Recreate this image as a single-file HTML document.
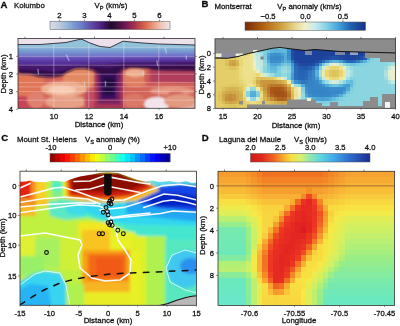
<!DOCTYPE html>
<html><head><meta charset="utf-8"><style>
html,body{margin:0;padding:0;background:#fff;}
svg{display:block;}
text{font-family:'Liberation Sans', Arial, sans-serif;stroke:#111;stroke-width:0.28px;}
</style></head><body>
<svg width="400" height="326" viewBox="0 0 400 326">
<rect width="400" height="326" fill="#fff"/>
<text x="0.6" y="7.6" font-size="9.6" text-anchor="start" font-weight="bold" fill="#000" >A</text>
<text x="14" y="8.2" font-size="7.8" text-anchor="start" font-weight="normal" fill="#111" >Kolumbo</text>
<text x="94.6" y="8.4" font-size="7.8" fill="#111">V<tspan font-size="5.6" dy="2">P</tspan><tspan dy="-2"> (km/s)</tspan></text>
<defs><linearGradient id="cbA" x1="0" x2="1" y1="0" y2="0"><stop offset="0%" stop-color="#dadee6"/><stop offset="8%" stop-color="#bccadc"/><stop offset="14%" stop-color="#98b6d8"/><stop offset="20%" stop-color="#7a9ad0"/><stop offset="27%" stop-color="#6a7ac4"/><stop offset="33%" stop-color="#6052ae"/><stop offset="40%" stop-color="#562e8e"/><stop offset="46%" stop-color="#3a1262"/><stop offset="51%" stop-color="#200a2a"/><stop offset="57%" stop-color="#441042"/><stop offset="64%" stop-color="#7a1a54"/><stop offset="71%" stop-color="#ac344a"/><stop offset="79%" stop-color="#d8644a"/><stop offset="86%" stop-color="#e8987c"/><stop offset="93%" stop-color="#f0c8bc"/><stop offset="100%" stop-color="#ece6ec"/></linearGradient></defs>
<rect x="50" y="21.2" width="120" height="8.3" fill="url(#cbA)" stroke="#555" stroke-width="0.5"/>
<text x="59.4" y="17.7" font-size="7.8" text-anchor="middle" font-weight="normal" fill="#111" >2</text>
<line x1="59.4" y1="19.6" x2="59.4" y2="21.2" stroke="#333" stroke-width="0.6"/>
<text x="84.4" y="17.7" font-size="7.8" text-anchor="middle" font-weight="normal" fill="#111" >3</text>
<line x1="84.4" y1="19.6" x2="84.4" y2="21.2" stroke="#333" stroke-width="0.6"/>
<text x="109.4" y="17.7" font-size="7.8" text-anchor="middle" font-weight="normal" fill="#111" >4</text>
<line x1="109.4" y1="19.6" x2="109.4" y2="21.2" stroke="#333" stroke-width="0.6"/>
<text x="134.4" y="17.7" font-size="7.8" text-anchor="middle" font-weight="normal" fill="#111" >5</text>
<line x1="134.4" y1="19.6" x2="134.4" y2="21.2" stroke="#333" stroke-width="0.6"/>
<text x="159.4" y="17.7" font-size="7.8" text-anchor="middle" font-weight="normal" fill="#111" >6</text>
<line x1="159.4" y1="19.6" x2="159.4" y2="21.2" stroke="#333" stroke-width="0.6"/>
<defs><clipPath id="clipA"><rect x="18" y="38.5" width="177" height="69.8"/></clipPath><filter id="blA" x="-5%" y="-5%" width="110%" height="110%"><feGaussianBlur stdDeviation="1.1"/></filter></defs>
<g clip-path="url(#clipA)"><g filter="url(#blA)"><rect x="16" y="36.5" width="181" height="73.8" fill="#d46458"/>
<path d="M16,74 L44,74 L44,98 L16,98 Z" fill="#e07656" />
<ellipse cx="22" cy="104" rx="12" ry="8" fill="#c84458" opacity="1"/>
<ellipse cx="66" cy="102" rx="21" ry="7" fill="#e6a086" opacity="1"/>
<ellipse cx="90" cy="100" rx="6" ry="10" fill="#c44c60" opacity="1"/>
<ellipse cx="36" cy="100" rx="9" ry="8" fill="#e08070" opacity="1"/>
<ellipse cx="80" cy="79" rx="17" ry="10" fill="#e48a62" opacity="1"/>
<ellipse cx="64" cy="89" rx="23" ry="7.5" fill="#eeae90" opacity="1"/>
<ellipse cx="62" cy="90" rx="14" ry="4" fill="#f8cdb4" opacity="1"/>
<ellipse cx="136" cy="78" rx="17" ry="9" fill="#e08060" opacity="1"/>
<ellipse cx="152" cy="78" rx="8" ry="8" fill="#cc5a58" opacity="1"/>
<ellipse cx="135" cy="73" rx="10" ry="4" fill="#eeb090" opacity="1"/>
<path d="M150,67 L198,67 L198,83 L150,82 Z" fill="#b03c5c" />
<ellipse cx="172" cy="91" rx="22" ry="4" fill="#e69a84" opacity="1"/>
<ellipse cx="176" cy="94" rx="8" ry="2.5" fill="#d05a5a" opacity="1"/>
<ellipse cx="157" cy="104" rx="13" ry="7" fill="#f2e4ea" opacity="1"/>
<ellipse cx="187" cy="104" rx="11" ry="6" fill="#e6b4ac" opacity="1"/>
<ellipse cx="134" cy="101" rx="11" ry="7" fill="#dc7868" opacity="1"/>
<ellipse cx="180" cy="101" rx="16" ry="7" fill="#e29a80" opacity="1"/>
<path d="M94,70 L124,70 L124,109 L94,109 Z" fill="#a83458" />
<path d="M97,70 L121,70 L120,104 L98,104 Z" fill="#782060" />
<path d="M100,70 L117,70 L116,99 L101,99 Z" fill="#3a1060" />
<path d="M103.5,77 L114.5,77 L113.5,95 L104.5,95 Z" fill="#220840" />
<path d="M16,36.5 L18,74 L30,74.5 L40,77 L52,77.5 L62,76 L68,72 L75,69 L84,68.5 L92,70 L96,72 L100,74 L117,74 L122,70 L130,68 L145,68.5 L155,70 L165,70.5 L180,70.5 L196,71 L197,36.5 Z" fill="#300a48" />
<path d="M16,36.5 L18,69.5 L40,70 L55,72 L65,70 L75,67.5 L90,67 L100,67.5 L110,68 L118,66 L125,65 L145,65.5 L155,66 L170,65 L196,65 L197,36.5 Z" fill="#461670" />
<path d="M16,36.5 L18,65 L60,65.5 L90,64 L110,63.5 L125,62.5 L150,62.5 L196,62 L197,36.5 Z" fill="#56309c" />
<path d="M16,36.5 L18,60.5 L100,60.5 L125,59.5 L196,59 L197,36.5 Z" fill="#6448b4" />
<path d="M16,36.5 L18,57.2 L196,56.8 L197,36.5 Z" fill="#6e6ec6" />
<path d="M16,36.5 L18,54.5 L196,54 L197,36.5 Z" fill="#7490d0" />
<path d="M16,36.5 L18,50.8 L196,50.8 L197,36.5 Z" fill="#80a8d4" />
<path d="M16,36.5 L18,48 L196,48 L197,36.5 Z" fill="#92c2da" /></g><path d="M16,36.5 L17,44.5 L40,44.5 L66,42.5 L80,39.3 L82,39.3 L90,43 L100,46.5 L110,47.5 L123,41.2 L140,42.8 L158,44 L196,45 L197,36.5 Z" fill="#ece0ea"/>
<line x1="53.8" y1="38.5" x2="53.8" y2="108.3" stroke="#f4e8f4" stroke-width="0.7" opacity="0.55"/>
<line x1="88.8" y1="38.5" x2="88.8" y2="108.3" stroke="#f4e8f4" stroke-width="0.7" opacity="0.55"/>
<line x1="123.8" y1="38.5" x2="123.8" y2="108.3" stroke="#f4e8f4" stroke-width="0.7" opacity="0.55"/>
<line x1="158.8" y1="38.5" x2="158.8" y2="108.3" stroke="#f4e8f4" stroke-width="0.7" opacity="0.55"/>
<path d="M18,74.5 L30,75 L40,77.5 L52,78 L62,76 L68,72.5 L75,69.8 L84,69.2 L92,70.5 L98,73 L100,80" fill="none" stroke="#2a2040" stroke-width="0.6" opacity="0.55"/>
<path d="M118,80 L121,71 L130,67 L145,67.5 L155,69.5 L170,70.5 L196,70.5" fill="none" stroke="#2a2040" stroke-width="0.6" opacity="0.55"/>
<path d="M18,66 L60,66.5 L90,65 L110,64.5 L125,63 L196,62.5" fill="none" stroke="#2a2040" stroke-width="0.6" opacity="0.55"/>
<line x1="18" y1="47.4" x2="195" y2="47.4" stroke="#f8e8f0" stroke-width="0.7" opacity="0.45"/>
<line x1="18" y1="56.3" x2="195" y2="56.3" stroke="#f8e8f0" stroke-width="0.7" opacity="0.45"/>
<line x1="18" y1="65.2" x2="195" y2="65.2" stroke="#f8e8f0" stroke-width="0.7" opacity="0.45"/>
<line x1="18" y1="74.2" x2="195" y2="74.2" stroke="#f8e8f0" stroke-width="0.7" opacity="0.45"/>
<line x1="18" y1="82.4" x2="195" y2="82.4" stroke="#f8e8f0" stroke-width="0.7" opacity="0.45"/>
<line x1="18" y1="86.8" x2="195" y2="86.8" stroke="#f8e8f0" stroke-width="0.7" opacity="0.45"/>
<line x1="18" y1="91.4" x2="195" y2="91.4" stroke="#f8e8f0" stroke-width="0.7" opacity="0.45"/>
<line x1="18" y1="100.2" x2="195" y2="100.2" stroke="#f8e8f0" stroke-width="0.7" opacity="0.45"/>
<line x1="66.5" y1="55" x2="69" y2="60.5" stroke="#d0e4f8" stroke-width="1.4" stroke-linecap="round" opacity="0.5"/>
<line x1="38" y1="69.5" x2="38.5" y2="74" stroke="#d0e4f8" stroke-width="1.4" stroke-linecap="round" opacity="0.5"/>
<line x1="84.4" y1="82" x2="84.6" y2="86.4" stroke="#d0e4f8" stroke-width="1.4" stroke-linecap="round" opacity="0.5"/>
<line x1="105.5" y1="81.5" x2="105.5" y2="86" stroke="#d0e4f8" stroke-width="1.4" stroke-linecap="round" opacity="0.5"/>
<line x1="143" y1="71" x2="143.2" y2="76" stroke="#d0e4f8" stroke-width="1.4" stroke-linecap="round" opacity="0.5"/>
<line x1="157" y1="61" x2="157.5" y2="65.5" stroke="#d0e4f8" stroke-width="1.4" stroke-linecap="round" opacity="0.5"/>
<line x1="165" y1="48" x2="166.5" y2="53" stroke="#d0e4f8" stroke-width="1.4" stroke-linecap="round" opacity="0.5"/>
<line x1="186" y1="56" x2="186.5" y2="59" stroke="#d0e4f8" stroke-width="1.4" stroke-linecap="round" opacity="0.5"/>
<path d="M17,44.5 L40,44.5 L66,42.5 L80,39.3 L82,39.3 L90,43 L100,46.5 L110,47.5 L123,41.2 L140,42.8 L158,44 L196,45" fill="none" stroke="#2a2a36" stroke-width="0.9"/></g>
<rect x="18" y="38.5" width="177" height="69.8" fill="none" stroke="#333" stroke-width="0.8"/>
<text x="13" y="59.0" font-size="7.6" text-anchor="end" font-weight="normal" fill="#111" >1</text>
<line x1="16" y1="56.3" x2="18" y2="56.3" stroke="#333" stroke-width="0.5"/>
<text x="13" y="76.7" font-size="7.6" text-anchor="end" font-weight="normal" fill="#111" >2</text>
<line x1="16" y1="74.0" x2="18" y2="74.0" stroke="#333" stroke-width="0.5"/>
<text x="13" y="94.39999999999999" font-size="7.6" text-anchor="end" font-weight="normal" fill="#111" >3</text>
<line x1="16" y1="91.69999999999999" x2="18" y2="91.69999999999999" stroke="#333" stroke-width="0.5"/>
<text x="13" y="112.1" font-size="7.6" text-anchor="end" font-weight="normal" fill="#111" >4</text>
<line x1="16" y1="109.39999999999999" x2="18" y2="109.39999999999999" stroke="#333" stroke-width="0.5"/>
<text transform="translate(6.4,74) rotate(-90)" font-size="7.9" text-anchor="middle" fill="#111">Depth (km)</text>
<text x="54" y="118.5" font-size="7.6" text-anchor="middle" font-weight="normal" fill="#111" >10</text>
<line x1="54" y1="108.3" x2="54" y2="109.8" stroke="#333" stroke-width="0.5"/>
<text x="89" y="118.5" font-size="7.6" text-anchor="middle" font-weight="normal" fill="#111" >12</text>
<line x1="89" y1="108.3" x2="89" y2="109.8" stroke="#333" stroke-width="0.5"/>
<text x="124" y="118.5" font-size="7.6" text-anchor="middle" font-weight="normal" fill="#111" >14</text>
<line x1="124" y1="108.3" x2="124" y2="109.8" stroke="#333" stroke-width="0.5"/>
<text x="159" y="118.5" font-size="7.6" text-anchor="middle" font-weight="normal" fill="#111" >16</text>
<line x1="159" y1="108.3" x2="159" y2="109.8" stroke="#333" stroke-width="0.5"/>
<text x="99" y="127" font-size="7.9" text-anchor="middle" font-weight="normal" fill="#111" >Distance (km)</text>
<text x="201.6" y="7.3" font-size="9.6" text-anchor="start" font-weight="bold" fill="#000" >B</text>
<text x="214.5" y="8.5" font-size="7.8" text-anchor="start" font-weight="normal" fill="#111" >Montserrat</text>
<text x="277.3" y="8.6" font-size="7.8" fill="#111">V<tspan font-size="5.6" dy="2">P</tspan><tspan dy="-2"> anomaly (km/s)</tspan></text>
<defs><linearGradient id="cbB" x1="0" x2="1" y1="0" y2="0"><stop offset="0%" stop-color="#7a2a05"/><stop offset="15%" stop-color="#b06010"/><stop offset="30%" stop-color="#d0a040"/><stop offset="42%" stop-color="#e8d890"/><stop offset="50%" stop-color="#f2f0c8"/><stop offset="58%" stop-color="#c8ecf0"/><stop offset="68%" stop-color="#80d0e8"/><stop offset="78%" stop-color="#40a0d8"/><stop offset="88%" stop-color="#2060b0"/><stop offset="100%" stop-color="#1a3088"/></linearGradient></defs>
<rect x="245" y="22" width="120.5" height="8.3" fill="url(#cbB)" stroke="#555" stroke-width="0.5"/>
<text x="268" y="18.9" font-size="7.6" text-anchor="middle" font-weight="normal" fill="#111" >−0.5</text>
<line x1="268" y1="20.4" x2="268" y2="22" stroke="#333" stroke-width="0.6"/>
<text x="305.5" y="18.9" font-size="7.6" text-anchor="middle" font-weight="normal" fill="#111" >0.0</text>
<line x1="305.5" y1="20.4" x2="305.5" y2="22" stroke="#333" stroke-width="0.6"/>
<text x="343" y="18.9" font-size="7.6" text-anchor="middle" font-weight="normal" fill="#111" >0.5</text>
<line x1="343" y1="20.4" x2="343" y2="22" stroke="#333" stroke-width="0.6"/>
<defs><clipPath id="clipB"><rect x="215" y="38.8" width="180.6" height="69.5"/></clipPath><filter id="blB" x="-5%" y="-5%" width="110%" height="110%"><feGaussianBlur stdDeviation="0.5"/></filter></defs>
<g clip-path="url(#clipB)"><g filter="url(#blB)" shape-rendering="crispEdges"><rect x="215.00" y="38.80" width="3.75" height="3.75" fill="#e3ce6a"/>
<rect x="218.45" y="38.80" width="3.75" height="3.75" fill="#e3ce6a"/>
<rect x="221.90" y="38.80" width="3.75" height="3.75" fill="#e3ce6a"/>
<rect x="225.35" y="38.80" width="3.75" height="3.75" fill="#e3ce6a"/>
<rect x="228.80" y="38.80" width="3.75" height="3.75" fill="#e3ce6a"/>
<rect x="232.25" y="38.80" width="3.75" height="3.75" fill="#e3ce6a"/>
<rect x="235.70" y="38.80" width="3.75" height="3.75" fill="#e3ce6a"/>
<rect x="239.15" y="38.80" width="3.75" height="3.75" fill="#e3ce6a"/>
<rect x="242.60" y="38.80" width="3.75" height="3.75" fill="#e3ce6a"/>
<rect x="246.05" y="38.80" width="3.75" height="3.75" fill="#e4d06b"/>
<rect x="249.50" y="38.80" width="3.75" height="3.75" fill="#ebdf89"/>
<rect x="252.95" y="38.80" width="3.75" height="3.75" fill="#cfeddc"/>
<rect x="256.40" y="38.80" width="3.75" height="3.75" fill="#bde8e0"/>
<rect x="259.85" y="38.80" width="3.75" height="3.75" fill="#bce8e0"/>
<rect x="263.30" y="38.80" width="3.75" height="3.75" fill="#bce8e0"/>
<rect x="266.75" y="38.80" width="3.75" height="3.75" fill="#bce8e0"/>
<rect x="270.20" y="38.80" width="3.75" height="3.75" fill="#bce8e0"/>
<rect x="273.65" y="38.80" width="3.75" height="3.75" fill="#bce8e0"/>
<rect x="277.10" y="38.80" width="3.75" height="3.75" fill="#bce8e0"/>
<rect x="280.55" y="38.80" width="3.75" height="3.75" fill="#bce8e0"/>
<rect x="284.00" y="38.80" width="3.75" height="3.75" fill="#bce8e0"/>
<rect x="287.45" y="38.80" width="3.75" height="3.75" fill="#bbe8e0"/>
<rect x="290.90" y="38.80" width="3.75" height="3.75" fill="#bae7e0"/>
<rect x="294.35" y="38.80" width="3.75" height="3.75" fill="#bae7e0"/>
<rect x="297.80" y="38.80" width="3.75" height="3.75" fill="#bae7e0"/>
<rect x="301.25" y="38.80" width="3.75" height="3.75" fill="#bae7e0"/>
<rect x="304.70" y="38.80" width="3.75" height="3.75" fill="#bae7e0"/>
<rect x="308.15" y="38.80" width="3.75" height="3.75" fill="#bae7e0"/>
<rect x="311.60" y="38.80" width="3.75" height="3.75" fill="#bae7e0"/>
<rect x="315.05" y="38.80" width="3.75" height="3.75" fill="#bae7e0"/>
<rect x="318.50" y="38.80" width="3.75" height="3.75" fill="#bae7e0"/>
<rect x="321.95" y="38.80" width="3.75" height="3.75" fill="#bae7e0"/>
<rect x="325.40" y="38.80" width="3.75" height="3.75" fill="#bae7e0"/>
<rect x="328.85" y="38.80" width="3.75" height="3.75" fill="#bae7e0"/>
<rect x="332.30" y="38.80" width="3.75" height="3.75" fill="#bae7e0"/>
<rect x="335.75" y="38.80" width="3.75" height="3.75" fill="#bae7e0"/>
<rect x="339.20" y="38.80" width="3.75" height="3.75" fill="#bae7e0"/>
<rect x="342.65" y="38.80" width="3.75" height="3.75" fill="#bae7e0"/>
<rect x="346.10" y="38.80" width="3.75" height="3.75" fill="#bae7e0"/>
<rect x="349.55" y="38.80" width="3.75" height="3.75" fill="#bae7e0"/>
<rect x="353.00" y="38.80" width="3.75" height="3.75" fill="#bae7e0"/>
<rect x="356.45" y="38.80" width="3.75" height="3.75" fill="#bae7e0"/>
<rect x="359.90" y="38.80" width="3.75" height="3.75" fill="#bae7e0"/>
<rect x="363.35" y="38.80" width="3.75" height="3.75" fill="#bae7e0"/>
<rect x="366.80" y="38.80" width="3.75" height="3.75" fill="#bbe7e0"/>
<rect x="370.25" y="38.80" width="3.75" height="3.75" fill="#bce8e0"/>
<rect x="373.70" y="38.80" width="3.75" height="3.75" fill="#bce8e0"/>
<rect x="377.15" y="38.80" width="3.75" height="3.75" fill="#bce8e0"/>
<rect x="380.60" y="38.80" width="3.75" height="3.75" fill="#bce8e0"/>
<rect x="384.05" y="38.80" width="3.75" height="3.75" fill="#bce8e0"/>
<rect x="387.50" y="38.80" width="3.75" height="3.75" fill="#bce8e0"/>
<rect x="390.95" y="38.80" width="3.75" height="3.75" fill="#bce8e0"/>
<rect x="394.40" y="38.80" width="3.75" height="3.75" fill="#bce8e0"/>
<rect x="215.00" y="42.25" width="3.75" height="3.75" fill="#e3ce6a"/>
<rect x="218.45" y="42.25" width="3.75" height="3.75" fill="#e3ce6a"/>
<rect x="221.90" y="42.25" width="3.75" height="3.75" fill="#e3ce6a"/>
<rect x="225.35" y="42.25" width="3.75" height="3.75" fill="#e3ce6a"/>
<rect x="228.80" y="42.25" width="3.75" height="3.75" fill="#e3ce6a"/>
<rect x="232.25" y="42.25" width="3.75" height="3.75" fill="#e3ce6a"/>
<rect x="235.70" y="42.25" width="3.75" height="3.75" fill="#e3ce6a"/>
<rect x="239.15" y="42.25" width="3.75" height="3.75" fill="#e3ce6a"/>
<rect x="242.60" y="42.25" width="3.75" height="3.75" fill="#e3ce6a"/>
<rect x="246.05" y="42.25" width="3.75" height="3.75" fill="#e4d06c"/>
<rect x="249.50" y="42.25" width="3.75" height="3.75" fill="#eee496"/>
<rect x="252.95" y="42.25" width="3.75" height="3.75" fill="#a0dee0"/>
<rect x="256.40" y="42.25" width="3.75" height="3.75" fill="#8dd6e0"/>
<rect x="259.85" y="42.25" width="3.75" height="3.75" fill="#8dd6e0"/>
<rect x="263.30" y="42.25" width="3.75" height="3.75" fill="#8cd6e0"/>
<rect x="266.75" y="42.25" width="3.75" height="3.75" fill="#8cd6e0"/>
<rect x="270.20" y="42.25" width="3.75" height="3.75" fill="#8cd6e0"/>
<rect x="273.65" y="42.25" width="3.75" height="3.75" fill="#8cd6e0"/>
<rect x="277.10" y="42.25" width="3.75" height="3.75" fill="#8cd6e0"/>
<rect x="280.55" y="42.25" width="3.75" height="3.75" fill="#8cd6e0"/>
<rect x="284.00" y="42.25" width="3.75" height="3.75" fill="#8bd5e0"/>
<rect x="287.45" y="42.25" width="3.75" height="3.75" fill="#7fd0e0"/>
<rect x="290.90" y="42.25" width="3.75" height="3.75" fill="#6dc5df"/>
<rect x="294.35" y="42.25" width="3.75" height="3.75" fill="#6ac2de"/>
<rect x="297.80" y="42.25" width="3.75" height="3.75" fill="#6ac2de"/>
<rect x="301.25" y="42.25" width="3.75" height="3.75" fill="#6ac2de"/>
<rect x="304.70" y="42.25" width="3.75" height="3.75" fill="#6ac2de"/>
<rect x="308.15" y="42.25" width="3.75" height="3.75" fill="#6ac2de"/>
<rect x="311.60" y="42.25" width="3.75" height="3.75" fill="#6ac2de"/>
<rect x="315.05" y="42.25" width="3.75" height="3.75" fill="#6ac2de"/>
<rect x="318.50" y="42.25" width="3.75" height="3.75" fill="#6ac2de"/>
<rect x="321.95" y="42.25" width="3.75" height="3.75" fill="#6ac2de"/>
<rect x="325.40" y="42.25" width="3.75" height="3.75" fill="#6ac2de"/>
<rect x="328.85" y="42.25" width="3.75" height="3.75" fill="#6ac2de"/>
<rect x="332.30" y="42.25" width="3.75" height="3.75" fill="#6ac2de"/>
<rect x="335.75" y="42.25" width="3.75" height="3.75" fill="#6ac2de"/>
<rect x="339.20" y="42.25" width="3.75" height="3.75" fill="#6ac2de"/>
<rect x="342.65" y="42.25" width="3.75" height="3.75" fill="#6ac2de"/>
<rect x="346.10" y="42.25" width="3.75" height="3.75" fill="#6ac2de"/>
<rect x="349.55" y="42.25" width="3.75" height="3.75" fill="#6ac2de"/>
<rect x="353.00" y="42.25" width="3.75" height="3.75" fill="#6ac2de"/>
<rect x="356.45" y="42.25" width="3.75" height="3.75" fill="#6ac2de"/>
<rect x="359.90" y="42.25" width="3.75" height="3.75" fill="#6ac2de"/>
<rect x="363.35" y="42.25" width="3.75" height="3.75" fill="#6cc4df"/>
<rect x="366.80" y="42.25" width="3.75" height="3.75" fill="#7dcee0"/>
<rect x="370.25" y="42.25" width="3.75" height="3.75" fill="#8ad5e0"/>
<rect x="373.70" y="42.25" width="3.75" height="3.75" fill="#8dd6e0"/>
<rect x="377.15" y="42.25" width="3.75" height="3.75" fill="#8dd6e0"/>
<rect x="380.60" y="42.25" width="3.75" height="3.75" fill="#8dd6e0"/>
<rect x="384.05" y="42.25" width="3.75" height="3.75" fill="#8dd6e0"/>
<rect x="387.50" y="42.25" width="3.75" height="3.75" fill="#8dd6e0"/>
<rect x="390.95" y="42.25" width="3.75" height="3.75" fill="#8dd6e0"/>
<rect x="394.40" y="42.25" width="3.75" height="3.75" fill="#8dd6e0"/>
<rect x="215.00" y="45.70" width="3.75" height="3.75" fill="#e3ce6a"/>
<rect x="218.45" y="45.70" width="3.75" height="3.75" fill="#e3ce6a"/>
<rect x="221.90" y="45.70" width="3.75" height="3.75" fill="#e3ce6a"/>
<rect x="225.35" y="45.70" width="3.75" height="3.75" fill="#e3ce6a"/>
<rect x="228.80" y="45.70" width="3.75" height="3.75" fill="#e3ce6a"/>
<rect x="232.25" y="45.70" width="3.75" height="3.75" fill="#e3ce6a"/>
<rect x="235.70" y="45.70" width="3.75" height="3.75" fill="#e3ce6a"/>
<rect x="239.15" y="45.70" width="3.75" height="3.75" fill="#e3ce6a"/>
<rect x="242.60" y="45.70" width="3.75" height="3.75" fill="#e3ce6a"/>
<rect x="246.05" y="45.70" width="3.75" height="3.75" fill="#e4d06c"/>
<rect x="249.50" y="45.70" width="3.75" height="3.75" fill="#eee598"/>
<rect x="252.95" y="45.70" width="3.75" height="3.75" fill="#9cdce0"/>
<rect x="256.40" y="45.70" width="3.75" height="3.75" fill="#8bd5e0"/>
<rect x="259.85" y="45.70" width="3.75" height="3.75" fill="#8ad5e0"/>
<rect x="263.30" y="45.70" width="3.75" height="3.75" fill="#87d4e0"/>
<rect x="266.75" y="45.70" width="3.75" height="3.75" fill="#84d2e0"/>
<rect x="270.20" y="45.70" width="3.75" height="3.75" fill="#82d1e0"/>
<rect x="273.65" y="45.70" width="3.75" height="3.75" fill="#80d0e0"/>
<rect x="277.10" y="45.70" width="3.75" height="3.75" fill="#80d0e0"/>
<rect x="280.55" y="45.70" width="3.75" height="3.75" fill="#7ecfe0"/>
<rect x="284.00" y="45.70" width="3.75" height="3.75" fill="#7acde0"/>
<rect x="287.45" y="45.70" width="3.75" height="3.75" fill="#52aad9"/>
<rect x="290.90" y="45.70" width="3.75" height="3.75" fill="#2b6dbb"/>
<rect x="294.35" y="45.70" width="3.75" height="3.75" fill="#2661b3"/>
<rect x="297.80" y="45.70" width="3.75" height="3.75" fill="#2661b3"/>
<rect x="301.25" y="45.70" width="3.75" height="3.75" fill="#2661b3"/>
<rect x="304.70" y="45.70" width="3.75" height="3.75" fill="#2661b3"/>
<rect x="308.15" y="45.70" width="3.75" height="3.75" fill="#2661b3"/>
<rect x="311.60" y="45.70" width="3.75" height="3.75" fill="#2661b3"/>
<rect x="315.05" y="45.70" width="3.75" height="3.75" fill="#2661b3"/>
<rect x="318.50" y="45.70" width="3.75" height="3.75" fill="#2661b3"/>
<rect x="321.95" y="45.70" width="3.75" height="3.75" fill="#2661b3"/>
<rect x="325.40" y="45.70" width="3.75" height="3.75" fill="#2661b3"/>
<rect x="328.85" y="45.70" width="3.75" height="3.75" fill="#2661b3"/>
<rect x="332.30" y="45.70" width="3.75" height="3.75" fill="#2661b3"/>
<rect x="335.75" y="45.70" width="3.75" height="3.75" fill="#2661b3"/>
<rect x="339.20" y="45.70" width="3.75" height="3.75" fill="#2661b3"/>
<rect x="342.65" y="45.70" width="3.75" height="3.75" fill="#2661b3"/>
<rect x="346.10" y="45.70" width="3.75" height="3.75" fill="#2661b3"/>
<rect x="349.55" y="45.70" width="3.75" height="3.75" fill="#2661b3"/>
<rect x="353.00" y="45.70" width="3.75" height="3.75" fill="#2661b3"/>
<rect x="356.45" y="45.70" width="3.75" height="3.75" fill="#2661b3"/>
<rect x="359.90" y="45.70" width="3.75" height="3.75" fill="#2661b3"/>
<rect x="363.35" y="45.70" width="3.75" height="3.75" fill="#296ab9"/>
<rect x="366.80" y="45.70" width="3.75" height="3.75" fill="#4fa7d8"/>
<rect x="370.25" y="45.70" width="3.75" height="3.75" fill="#81d0e0"/>
<rect x="373.70" y="45.70" width="3.75" height="3.75" fill="#89d5e0"/>
<rect x="377.15" y="45.70" width="3.75" height="3.75" fill="#8ad5e0"/>
<rect x="380.60" y="45.70" width="3.75" height="3.75" fill="#8ad5e0"/>
<rect x="384.05" y="45.70" width="3.75" height="3.75" fill="#8ad5e0"/>
<rect x="387.50" y="45.70" width="3.75" height="3.75" fill="#8ad5e0"/>
<rect x="390.95" y="45.70" width="3.75" height="3.75" fill="#8ad5e0"/>
<rect x="394.40" y="45.70" width="3.75" height="3.75" fill="#8ad5e0"/>
<rect x="215.00" y="49.15" width="3.75" height="3.75" fill="#e3ce6a"/>
<rect x="218.45" y="49.15" width="3.75" height="3.75" fill="#e3ce6a"/>
<rect x="221.90" y="49.15" width="3.75" height="3.75" fill="#e3ce6a"/>
<rect x="225.35" y="49.15" width="3.75" height="3.75" fill="#e3ce6a"/>
<rect x="228.80" y="49.15" width="3.75" height="3.75" fill="#e3ce6a"/>
<rect x="232.25" y="49.15" width="3.75" height="3.75" fill="#e3ce6a"/>
<rect x="235.70" y="49.15" width="3.75" height="3.75" fill="#e3cf6a"/>
<rect x="239.15" y="49.15" width="3.75" height="3.75" fill="#e3cf6a"/>
<rect x="242.60" y="49.15" width="3.75" height="3.75" fill="#e3cf6a"/>
<rect x="246.05" y="49.15" width="3.75" height="3.75" fill="#e5d16e"/>
<rect x="249.50" y="49.15" width="3.75" height="3.75" fill="#eee597"/>
<rect x="252.95" y="49.15" width="3.75" height="3.75" fill="#ace2e0"/>
<rect x="256.40" y="49.15" width="3.75" height="3.75" fill="#98dbe0"/>
<rect x="259.85" y="49.15" width="3.75" height="3.75" fill="#8ed7e0"/>
<rect x="263.30" y="49.15" width="3.75" height="3.75" fill="#7fcfe0"/>
<rect x="266.75" y="49.15" width="3.75" height="3.75" fill="#6bc3df"/>
<rect x="270.20" y="49.15" width="3.75" height="3.75" fill="#5fb7dc"/>
<rect x="273.65" y="49.15" width="3.75" height="3.75" fill="#59b1da"/>
<rect x="277.10" y="49.15" width="3.75" height="3.75" fill="#5cb4db"/>
<rect x="280.55" y="49.15" width="3.75" height="3.75" fill="#62badc"/>
<rect x="284.00" y="49.15" width="3.75" height="3.75" fill="#62badd"/>
<rect x="287.45" y="49.15" width="3.75" height="3.75" fill="#3e8fcc"/>
<rect x="290.90" y="49.15" width="3.75" height="3.75" fill="#214da4"/>
<rect x="294.35" y="49.15" width="3.75" height="3.75" fill="#1f439c"/>
<rect x="297.80" y="49.15" width="3.75" height="3.75" fill="#1f439c"/>
<rect x="301.25" y="49.15" width="3.75" height="3.75" fill="#1f439c"/>
<rect x="304.70" y="49.15" width="3.75" height="3.75" fill="#1f439c"/>
<rect x="308.15" y="49.15" width="3.75" height="3.75" fill="#1f439c"/>
<rect x="311.60" y="49.15" width="3.75" height="3.75" fill="#1f439c"/>
<rect x="315.05" y="49.15" width="3.75" height="3.75" fill="#1f439c"/>
<rect x="318.50" y="49.15" width="3.75" height="3.75" fill="#1f439c"/>
<rect x="321.95" y="49.15" width="3.75" height="3.75" fill="#1f439c"/>
<rect x="325.40" y="49.15" width="3.75" height="3.75" fill="#1f439c"/>
<rect x="328.85" y="49.15" width="3.75" height="3.75" fill="#1f439c"/>
<rect x="332.30" y="49.15" width="3.75" height="3.75" fill="#1f439c"/>
<rect x="335.75" y="49.15" width="3.75" height="3.75" fill="#1f439c"/>
<rect x="339.20" y="49.15" width="3.75" height="3.75" fill="#1f439c"/>
<rect x="342.65" y="49.15" width="3.75" height="3.75" fill="#1f439c"/>
<rect x="346.10" y="49.15" width="3.75" height="3.75" fill="#1f439c"/>
<rect x="349.55" y="49.15" width="3.75" height="3.75" fill="#1f439c"/>
<rect x="353.00" y="49.15" width="3.75" height="3.75" fill="#1f439c"/>
<rect x="356.45" y="49.15" width="3.75" height="3.75" fill="#1f439c"/>
<rect x="359.90" y="49.15" width="3.75" height="3.75" fill="#1f439c"/>
<rect x="363.35" y="49.15" width="3.75" height="3.75" fill="#214ba2"/>
<rect x="366.80" y="49.15" width="3.75" height="3.75" fill="#4498d0"/>
<rect x="370.25" y="49.15" width="3.75" height="3.75" fill="#7ecfe0"/>
<rect x="373.70" y="49.15" width="3.75" height="3.75" fill="#89d5e0"/>
<rect x="377.15" y="49.15" width="3.75" height="3.75" fill="#8ad5e0"/>
<rect x="380.60" y="49.15" width="3.75" height="3.75" fill="#8ad5e0"/>
<rect x="384.05" y="49.15" width="3.75" height="3.75" fill="#8ad5e0"/>
<rect x="387.50" y="49.15" width="3.75" height="3.75" fill="#8ad5e0"/>
<rect x="390.95" y="49.15" width="3.75" height="3.75" fill="#8ad5e0"/>
<rect x="394.40" y="49.15" width="3.75" height="3.75" fill="#8ad5e0"/>
<rect x="215.00" y="52.60" width="3.75" height="3.75" fill="#e3ce6a"/>
<rect x="218.45" y="52.60" width="3.75" height="3.75" fill="#e3ce6a"/>
<rect x="221.90" y="52.60" width="3.75" height="3.75" fill="#e3ce6a"/>
<rect x="225.35" y="52.60" width="3.75" height="3.75" fill="#e3ce69"/>
<rect x="228.80" y="52.60" width="3.75" height="3.75" fill="#e3ce69"/>
<rect x="232.25" y="52.60" width="3.75" height="3.75" fill="#e3ce69"/>
<rect x="235.70" y="52.60" width="3.75" height="3.75" fill="#e4d06c"/>
<rect x="239.15" y="52.60" width="3.75" height="3.75" fill="#e6d371"/>
<rect x="242.60" y="52.60" width="3.75" height="3.75" fill="#e7d574"/>
<rect x="246.05" y="52.60" width="3.75" height="3.75" fill="#e8d879"/>
<rect x="249.50" y="52.60" width="3.75" height="3.75" fill="#efe69a"/>
<rect x="252.95" y="52.60" width="3.75" height="3.75" fill="#caecdf"/>
<rect x="256.40" y="52.60" width="3.75" height="3.75" fill="#b9e7e0"/>
<rect x="259.85" y="52.60" width="3.75" height="3.75" fill="#a8e1e0"/>
<rect x="263.30" y="52.60" width="3.75" height="3.75" fill="#7ccee0"/>
<rect x="266.75" y="52.60" width="3.75" height="3.75" fill="#50a8d8"/>
<rect x="270.20" y="52.60" width="3.75" height="3.75" fill="#4092cd"/>
<rect x="273.65" y="52.60" width="3.75" height="3.75" fill="#3d8ecb"/>
<rect x="277.10" y="52.60" width="3.75" height="3.75" fill="#3f92cd"/>
<rect x="280.55" y="52.60" width="3.75" height="3.75" fill="#4aa0d4"/>
<rect x="284.00" y="52.60" width="3.75" height="3.75" fill="#57afda"/>
<rect x="287.45" y="52.60" width="3.75" height="3.75" fill="#3b8bca"/>
<rect x="290.90" y="52.60" width="3.75" height="3.75" fill="#214ba2"/>
<rect x="294.35" y="52.60" width="3.75" height="3.75" fill="#1f429b"/>
<rect x="297.80" y="52.60" width="3.75" height="3.75" fill="#1f429b"/>
<rect x="301.25" y="52.60" width="3.75" height="3.75" fill="#1f429b"/>
<rect x="304.70" y="52.60" width="3.75" height="3.75" fill="#1f429b"/>
<rect x="308.15" y="52.60" width="3.75" height="3.75" fill="#1f429b"/>
<rect x="311.60" y="52.60" width="3.75" height="3.75" fill="#1f429b"/>
<rect x="315.05" y="52.60" width="3.75" height="3.75" fill="#1f429b"/>
<rect x="318.50" y="52.60" width="3.75" height="3.75" fill="#1f429b"/>
<rect x="321.95" y="52.60" width="3.75" height="3.75" fill="#1f429b"/>
<rect x="325.40" y="52.60" width="3.75" height="3.75" fill="#1f429b"/>
<rect x="328.85" y="52.60" width="3.75" height="3.75" fill="#1f429b"/>
<rect x="332.30" y="52.60" width="3.75" height="3.75" fill="#1f429c"/>
<rect x="335.75" y="52.60" width="3.75" height="3.75" fill="#1f429c"/>
<rect x="339.20" y="52.60" width="3.75" height="3.75" fill="#1f429b"/>
<rect x="342.65" y="52.60" width="3.75" height="3.75" fill="#1f429b"/>
<rect x="346.10" y="52.60" width="3.75" height="3.75" fill="#1f429b"/>
<rect x="349.55" y="52.60" width="3.75" height="3.75" fill="#1f429b"/>
<rect x="353.00" y="52.60" width="3.75" height="3.75" fill="#1f429b"/>
<rect x="356.45" y="52.60" width="3.75" height="3.75" fill="#1f429b"/>
<rect x="359.90" y="52.60" width="3.75" height="3.75" fill="#1f429c"/>
<rect x="363.35" y="52.60" width="3.75" height="3.75" fill="#214ba2"/>
<rect x="366.80" y="52.60" width="3.75" height="3.75" fill="#4498d0"/>
<rect x="370.25" y="52.60" width="3.75" height="3.75" fill="#7ecfe0"/>
<rect x="373.70" y="52.60" width="3.75" height="3.75" fill="#89d5e0"/>
<rect x="377.15" y="52.60" width="3.75" height="3.75" fill="#8ad5e0"/>
<rect x="380.60" y="52.60" width="3.75" height="3.75" fill="#8ad5e0"/>
<rect x="384.05" y="52.60" width="3.75" height="3.75" fill="#8ad5e0"/>
<rect x="387.50" y="52.60" width="3.75" height="3.75" fill="#8ad5e0"/>
<rect x="390.95" y="52.60" width="3.75" height="3.75" fill="#8ad5e0"/>
<rect x="394.40" y="52.60" width="3.75" height="3.75" fill="#8ad5e0"/>
<rect x="215.00" y="56.05" width="3.75" height="3.75" fill="#e3ce6a"/>
<rect x="218.45" y="56.05" width="3.75" height="3.75" fill="#e3ce6a"/>
<rect x="221.90" y="56.05" width="3.75" height="3.75" fill="#e3ce69"/>
<rect x="225.35" y="56.05" width="3.75" height="3.75" fill="#e2cc66"/>
<rect x="228.80" y="56.05" width="3.75" height="3.75" fill="#e0c860"/>
<rect x="232.25" y="56.05" width="3.75" height="3.75" fill="#dfc65f"/>
<rect x="235.70" y="56.05" width="3.75" height="3.75" fill="#e3ce69"/>
<rect x="239.15" y="56.05" width="3.75" height="3.75" fill="#e9da7d"/>
<rect x="242.60" y="56.05" width="3.75" height="3.75" fill="#ebdd86"/>
<rect x="246.05" y="56.05" width="3.75" height="3.75" fill="#ebdf89"/>
<rect x="249.50" y="56.05" width="3.75" height="3.75" fill="#efe599"/>
<rect x="252.95" y="56.05" width="3.75" height="3.75" fill="#dbeed4"/>
<rect x="256.40" y="56.05" width="3.75" height="3.75" fill="#c2eae0"/>
<rect x="259.85" y="56.05" width="3.75" height="3.75" fill="#b9e7e0"/>
<rect x="263.30" y="56.05" width="3.75" height="3.75" fill="#80d0e0"/>
<rect x="266.75" y="56.05" width="3.75" height="3.75" fill="#499fd4"/>
<rect x="270.20" y="56.05" width="3.75" height="3.75" fill="#398ac9"/>
<rect x="273.65" y="56.05" width="3.75" height="3.75" fill="#3888c8"/>
<rect x="277.10" y="56.05" width="3.75" height="3.75" fill="#3989c9"/>
<rect x="280.55" y="56.05" width="3.75" height="3.75" fill="#4194ce"/>
<rect x="284.00" y="56.05" width="3.75" height="3.75" fill="#53abd9"/>
<rect x="287.45" y="56.05" width="3.75" height="3.75" fill="#3d8ecb"/>
<rect x="290.90" y="56.05" width="3.75" height="3.75" fill="#224fa6"/>
<rect x="294.35" y="56.05" width="3.75" height="3.75" fill="#1f439c"/>
<rect x="297.80" y="56.05" width="3.75" height="3.75" fill="#1f429b"/>
<rect x="301.25" y="56.05" width="3.75" height="3.75" fill="#1f429b"/>
<rect x="304.70" y="56.05" width="3.75" height="3.75" fill="#1f429b"/>
<rect x="308.15" y="56.05" width="3.75" height="3.75" fill="#1f429b"/>
<rect x="311.60" y="56.05" width="3.75" height="3.75" fill="#1f429b"/>
<rect x="315.05" y="56.05" width="3.75" height="3.75" fill="#1f429b"/>
<rect x="318.50" y="56.05" width="3.75" height="3.75" fill="#1f439c"/>
<rect x="321.95" y="56.05" width="3.75" height="3.75" fill="#1f449d"/>
<rect x="325.40" y="56.05" width="3.75" height="3.75" fill="#20479f"/>
<rect x="328.85" y="56.05" width="3.75" height="3.75" fill="#214da3"/>
<rect x="332.30" y="56.05" width="3.75" height="3.75" fill="#2251a7"/>
<rect x="335.75" y="56.05" width="3.75" height="3.75" fill="#2250a6"/>
<rect x="339.20" y="56.05" width="3.75" height="3.75" fill="#214aa2"/>
<rect x="342.65" y="56.05" width="3.75" height="3.75" fill="#1f459e"/>
<rect x="346.10" y="56.05" width="3.75" height="3.75" fill="#1f439c"/>
<rect x="349.55" y="56.05" width="3.75" height="3.75" fill="#1f439c"/>
<rect x="353.00" y="56.05" width="3.75" height="3.75" fill="#1f449c"/>
<rect x="356.45" y="56.05" width="3.75" height="3.75" fill="#20469e"/>
<rect x="359.90" y="56.05" width="3.75" height="3.75" fill="#214ca3"/>
<rect x="363.35" y="56.05" width="3.75" height="3.75" fill="#265fb2"/>
<rect x="366.80" y="56.05" width="3.75" height="3.75" fill="#4ea5d7"/>
<rect x="370.25" y="56.05" width="3.75" height="3.75" fill="#81d0e0"/>
<rect x="373.70" y="56.05" width="3.75" height="3.75" fill="#89d5e0"/>
<rect x="377.15" y="56.05" width="3.75" height="3.75" fill="#8ad5e0"/>
<rect x="380.60" y="56.05" width="3.75" height="3.75" fill="#8ad5e0"/>
<rect x="384.05" y="56.05" width="3.75" height="3.75" fill="#8ad5e0"/>
<rect x="387.50" y="56.05" width="3.75" height="3.75" fill="#8ad5e0"/>
<rect x="390.95" y="56.05" width="3.75" height="3.75" fill="#8ad5e0"/>
<rect x="394.40" y="56.05" width="3.75" height="3.75" fill="#8ad5e0"/>
<rect x="215.00" y="59.50" width="3.75" height="3.75" fill="#e3ce6a"/>
<rect x="218.45" y="59.50" width="3.75" height="3.75" fill="#e3ce6a"/>
<rect x="221.90" y="59.50" width="3.75" height="3.75" fill="#e3cd68"/>
<rect x="225.35" y="59.50" width="3.75" height="3.75" fill="#dcc05a"/>
<rect x="228.80" y="59.50" width="3.75" height="3.75" fill="#d1aa4a"/>
<rect x="232.25" y="59.50" width="3.75" height="3.75" fill="#cfa546"/>
<rect x="235.70" y="59.50" width="3.75" height="3.75" fill="#d8b854"/>
<rect x="239.15" y="59.50" width="3.75" height="3.75" fill="#e7d776"/>
<rect x="242.60" y="59.50" width="3.75" height="3.75" fill="#ece08b"/>
<rect x="246.05" y="59.50" width="3.75" height="3.75" fill="#ece08c"/>
<rect x="249.50" y="59.50" width="3.75" height="3.75" fill="#eee495"/>
<rect x="252.95" y="59.50" width="3.75" height="3.75" fill="#e6efce"/>
<rect x="256.40" y="59.50" width="3.75" height="3.75" fill="#c4ebe0"/>
<rect x="259.85" y="59.50" width="3.75" height="3.75" fill="#bfe9e0"/>
<rect x="263.30" y="59.50" width="3.75" height="3.75" fill="#8cd6e0"/>
<rect x="266.75" y="59.50" width="3.75" height="3.75" fill="#53abd9"/>
<rect x="270.20" y="59.50" width="3.75" height="3.75" fill="#3d8fcc"/>
<rect x="273.65" y="59.50" width="3.75" height="3.75" fill="#3b8cca"/>
<rect x="277.10" y="59.50" width="3.75" height="3.75" fill="#3d8fcc"/>
<rect x="280.55" y="59.50" width="3.75" height="3.75" fill="#489ed3"/>
<rect x="284.00" y="59.50" width="3.75" height="3.75" fill="#5ab2db"/>
<rect x="287.45" y="59.50" width="3.75" height="3.75" fill="#4da4d6"/>
<rect x="290.90" y="59.50" width="3.75" height="3.75" fill="#2d71bd"/>
<rect x="294.35" y="59.50" width="3.75" height="3.75" fill="#204aa1"/>
<rect x="297.80" y="59.50" width="3.75" height="3.75" fill="#1f439c"/>
<rect x="301.25" y="59.50" width="3.75" height="3.75" fill="#1f429c"/>
<rect x="304.70" y="59.50" width="3.75" height="3.75" fill="#1f439c"/>
<rect x="308.15" y="59.50" width="3.75" height="3.75" fill="#1f439c"/>
<rect x="311.60" y="59.50" width="3.75" height="3.75" fill="#1f439c"/>
<rect x="315.05" y="59.50" width="3.75" height="3.75" fill="#20469f"/>
<rect x="318.50" y="59.50" width="3.75" height="3.75" fill="#2354a9"/>
<rect x="321.95" y="59.50" width="3.75" height="3.75" fill="#2a6cba"/>
<rect x="325.40" y="59.50" width="3.75" height="3.75" fill="#3a8bc9"/>
<rect x="328.85" y="59.50" width="3.75" height="3.75" fill="#4fa7d8"/>
<rect x="332.30" y="59.50" width="3.75" height="3.75" fill="#5db5db"/>
<rect x="335.75" y="59.50" width="3.75" height="3.75" fill="#5ab2db"/>
<rect x="339.20" y="59.50" width="3.75" height="3.75" fill="#499fd3"/>
<rect x="342.65" y="59.50" width="3.75" height="3.75" fill="#3480c4"/>
<rect x="346.10" y="59.50" width="3.75" height="3.75" fill="#2868b8"/>
<rect x="349.55" y="59.50" width="3.75" height="3.75" fill="#2662b3"/>
<rect x="353.00" y="59.50" width="3.75" height="3.75" fill="#296bb9"/>
<rect x="356.45" y="59.50" width="3.75" height="3.75" fill="#3480c4"/>
<rect x="359.90" y="59.50" width="3.75" height="3.75" fill="#4599d0"/>
<rect x="363.35" y="59.50" width="3.75" height="3.75" fill="#5ab2db"/>
<rect x="366.80" y="59.50" width="3.75" height="3.75" fill="#78cce0"/>
<rect x="370.25" y="59.50" width="3.75" height="3.75" fill="#87d4e0"/>
<rect x="373.70" y="59.50" width="3.75" height="3.75" fill="#8ad5e0"/>
<rect x="377.15" y="59.50" width="3.75" height="3.75" fill="#8ad5e0"/>
<rect x="380.60" y="59.50" width="3.75" height="3.75" fill="#8ad5e0"/>
<rect x="384.05" y="59.50" width="3.75" height="3.75" fill="#8ad5e0"/>
<rect x="387.50" y="59.50" width="3.75" height="3.75" fill="#8ad5e0"/>
<rect x="390.95" y="59.50" width="3.75" height="3.75" fill="#8bd6e0"/>
<rect x="394.40" y="59.50" width="3.75" height="3.75" fill="#8bd6e0"/>
<rect x="215.00" y="62.95" width="3.75" height="3.75" fill="#e3ce6a"/>
<rect x="218.45" y="62.95" width="3.75" height="3.75" fill="#e3ce6a"/>
<rect x="221.90" y="62.95" width="3.75" height="3.75" fill="#e3cd68"/>
<rect x="225.35" y="62.95" width="3.75" height="3.75" fill="#dbbe59"/>
<rect x="228.80" y="62.95" width="3.75" height="3.75" fill="#cfa647"/>
<rect x="232.25" y="62.95" width="3.75" height="3.75" fill="#cc9e42"/>
<rect x="235.70" y="62.95" width="3.75" height="3.75" fill="#d6b451"/>
<rect x="239.15" y="62.95" width="3.75" height="3.75" fill="#e7d674"/>
<rect x="242.60" y="62.95" width="3.75" height="3.75" fill="#ece08b"/>
<rect x="246.05" y="62.95" width="3.75" height="3.75" fill="#ece08c"/>
<rect x="249.50" y="62.95" width="3.75" height="3.75" fill="#ede392"/>
<rect x="252.95" y="62.95" width="3.75" height="3.75" fill="#f0f0c6"/>
<rect x="256.40" y="62.95" width="3.75" height="3.75" fill="#c5ebe0"/>
<rect x="259.85" y="62.95" width="3.75" height="3.75" fill="#bfe9e0"/>
<rect x="263.30" y="62.95" width="3.75" height="3.75" fill="#96dae0"/>
<rect x="266.75" y="62.95" width="3.75" height="3.75" fill="#69c1de"/>
<rect x="270.20" y="62.95" width="3.75" height="3.75" fill="#50a8d8"/>
<rect x="273.65" y="62.95" width="3.75" height="3.75" fill="#4da4d6"/>
<rect x="277.10" y="62.95" width="3.75" height="3.75" fill="#55add9"/>
<rect x="280.55" y="62.95" width="3.75" height="3.75" fill="#6ac2df"/>
<rect x="284.00" y="62.95" width="3.75" height="3.75" fill="#76cbe0"/>
<rect x="287.45" y="62.95" width="3.75" height="3.75" fill="#6ac2de"/>
<rect x="290.90" y="62.95" width="3.75" height="3.75" fill="#4397cf"/>
<rect x="294.35" y="62.95" width="3.75" height="3.75" fill="#265fb1"/>
<rect x="297.80" y="62.95" width="3.75" height="3.75" fill="#214ba2"/>
<rect x="301.25" y="62.95" width="3.75" height="3.75" fill="#20479f"/>
<rect x="304.70" y="62.95" width="3.75" height="3.75" fill="#20479f"/>
<rect x="308.15" y="62.95" width="3.75" height="3.75" fill="#2049a1"/>
<rect x="311.60" y="62.95" width="3.75" height="3.75" fill="#224fa6"/>
<rect x="315.05" y="62.95" width="3.75" height="3.75" fill="#2765b6"/>
<rect x="318.50" y="62.95" width="3.75" height="3.75" fill="#4599d0"/>
<rect x="321.95" y="62.95" width="3.75" height="3.75" fill="#77cbe0"/>
<rect x="325.40" y="62.95" width="3.75" height="3.75" fill="#a6e0e0"/>
<rect x="328.85" y="62.95" width="3.75" height="3.75" fill="#d3edd9"/>
<rect x="332.30" y="62.95" width="3.75" height="3.75" fill="#eaefcb"/>
<rect x="335.75" y="62.95" width="3.75" height="3.75" fill="#deeed3"/>
<rect x="339.20" y="62.95" width="3.75" height="3.75" fill="#b7e6e0"/>
<rect x="342.65" y="62.95" width="3.75" height="3.75" fill="#8dd7e0"/>
<rect x="346.10" y="62.95" width="3.75" height="3.75" fill="#78cce0"/>
<rect x="349.55" y="62.95" width="3.75" height="3.75" fill="#6cc4df"/>
<rect x="353.00" y="62.95" width="3.75" height="3.75" fill="#6ec6e0"/>
<rect x="356.45" y="62.95" width="3.75" height="3.75" fill="#7acde0"/>
<rect x="359.90" y="62.95" width="3.75" height="3.75" fill="#82d1e0"/>
<rect x="363.35" y="62.95" width="3.75" height="3.75" fill="#86d3e0"/>
<rect x="366.80" y="62.95" width="3.75" height="3.75" fill="#89d4e0"/>
<rect x="370.25" y="62.95" width="3.75" height="3.75" fill="#89d5e0"/>
<rect x="373.70" y="62.95" width="3.75" height="3.75" fill="#8ad5e0"/>
<rect x="377.15" y="62.95" width="3.75" height="3.75" fill="#8ad5e0"/>
<rect x="380.60" y="62.95" width="3.75" height="3.75" fill="#8ad5e0"/>
<rect x="384.05" y="62.95" width="3.75" height="3.75" fill="#8cd6e0"/>
<rect x="387.50" y="62.95" width="3.75" height="3.75" fill="#99dbe0"/>
<rect x="390.95" y="62.95" width="3.75" height="3.75" fill="#aae1e0"/>
<rect x="394.40" y="62.95" width="3.75" height="3.75" fill="#aae1e0"/>
<rect x="215.00" y="66.40" width="3.75" height="3.75" fill="#e3ce6a"/>
<rect x="218.45" y="66.40" width="3.75" height="3.75" fill="#e3ce6a"/>
<rect x="221.90" y="66.40" width="3.75" height="3.75" fill="#e3ce69"/>
<rect x="225.35" y="66.40" width="3.75" height="3.75" fill="#e2cb65"/>
<rect x="228.80" y="66.40" width="3.75" height="3.75" fill="#dec45d"/>
<rect x="232.25" y="66.40" width="3.75" height="3.75" fill="#ddc25c"/>
<rect x="235.70" y="66.40" width="3.75" height="3.75" fill="#e2cb65"/>
<rect x="239.15" y="66.40" width="3.75" height="3.75" fill="#e9db7f"/>
<rect x="242.60" y="66.40" width="3.75" height="3.75" fill="#ece08b"/>
<rect x="246.05" y="66.40" width="3.75" height="3.75" fill="#ece08c"/>
<rect x="249.50" y="66.40" width="3.75" height="3.75" fill="#ede290"/>
<rect x="252.95" y="66.40" width="3.75" height="3.75" fill="#f0edb8"/>
<rect x="256.40" y="66.40" width="3.75" height="3.75" fill="#c9ecdf"/>
<rect x="259.85" y="66.40" width="3.75" height="3.75" fill="#b7e6e0"/>
<rect x="263.30" y="66.40" width="3.75" height="3.75" fill="#8ed7e0"/>
<rect x="266.75" y="66.40" width="3.75" height="3.75" fill="#6fc7e0"/>
<rect x="270.20" y="66.40" width="3.75" height="3.75" fill="#60b8dc"/>
<rect x="273.65" y="66.40" width="3.75" height="3.75" fill="#61b9dc"/>
<rect x="277.10" y="66.40" width="3.75" height="3.75" fill="#76cbe0"/>
<rect x="280.55" y="66.40" width="3.75" height="3.75" fill="#8ed7e0"/>
<rect x="284.00" y="66.40" width="3.75" height="3.75" fill="#96dae0"/>
<rect x="287.45" y="66.40" width="3.75" height="3.75" fill="#86d3e0"/>
<rect x="290.90" y="66.40" width="3.75" height="3.75" fill="#4ca3d6"/>
<rect x="294.35" y="66.40" width="3.75" height="3.75" fill="#296ab9"/>
<rect x="297.80" y="66.40" width="3.75" height="3.75" fill="#255db0"/>
<rect x="301.25" y="66.40" width="3.75" height="3.75" fill="#2459ad"/>
<rect x="304.70" y="66.40" width="3.75" height="3.75" fill="#2458ac"/>
<rect x="308.15" y="66.40" width="3.75" height="3.75" fill="#2661b3"/>
<rect x="311.60" y="66.40" width="3.75" height="3.75" fill="#2d71bd"/>
<rect x="315.05" y="66.40" width="3.75" height="3.75" fill="#4296cf"/>
<rect x="318.50" y="66.40" width="3.75" height="3.75" fill="#81d0e0"/>
<rect x="321.95" y="66.40" width="3.75" height="3.75" fill="#cfeddc"/>
<rect x="325.40" y="66.40" width="3.75" height="3.75" fill="#eee496"/>
<rect x="328.85" y="66.40" width="3.75" height="3.75" fill="#e8d777"/>
<rect x="332.30" y="66.40" width="3.75" height="3.75" fill="#e5d270"/>
<rect x="335.75" y="66.40" width="3.75" height="3.75" fill="#e7d675"/>
<rect x="339.20" y="66.40" width="3.75" height="3.75" fill="#ede290"/>
<rect x="342.65" y="66.40" width="3.75" height="3.75" fill="#e5efcf"/>
<rect x="346.10" y="66.40" width="3.75" height="3.75" fill="#aee3e0"/>
<rect x="349.55" y="66.40" width="3.75" height="3.75" fill="#99dbe0"/>
<rect x="353.00" y="66.40" width="3.75" height="3.75" fill="#8bd6e0"/>
<rect x="356.45" y="66.40" width="3.75" height="3.75" fill="#89d5e0"/>
<rect x="359.90" y="66.40" width="3.75" height="3.75" fill="#89d5e0"/>
<rect x="363.35" y="66.40" width="3.75" height="3.75" fill="#8ad5e0"/>
<rect x="366.80" y="66.40" width="3.75" height="3.75" fill="#8ad5e0"/>
<rect x="370.25" y="66.40" width="3.75" height="3.75" fill="#8ad5e0"/>
<rect x="373.70" y="66.40" width="3.75" height="3.75" fill="#8ad5e0"/>
<rect x="377.15" y="66.40" width="3.75" height="3.75" fill="#8ad5e0"/>
<rect x="380.60" y="66.40" width="3.75" height="3.75" fill="#8ad5e0"/>
<rect x="384.05" y="66.40" width="3.75" height="3.75" fill="#97dae0"/>
<rect x="387.50" y="66.40" width="3.75" height="3.75" fill="#c3eae0"/>
<rect x="390.95" y="66.40" width="3.75" height="3.75" fill="#e1efd1"/>
<rect x="394.40" y="66.40" width="3.75" height="3.75" fill="#e3efd0"/>
<rect x="215.00" y="69.85" width="3.75" height="3.75" fill="#e3ce6a"/>
<rect x="218.45" y="69.85" width="3.75" height="3.75" fill="#e3ce6a"/>
<rect x="221.90" y="69.85" width="3.75" height="3.75" fill="#e3ce6a"/>
<rect x="225.35" y="69.85" width="3.75" height="3.75" fill="#e3ce69"/>
<rect x="228.80" y="69.85" width="3.75" height="3.75" fill="#e3ce69"/>
<rect x="232.25" y="69.85" width="3.75" height="3.75" fill="#e3ce69"/>
<rect x="235.70" y="69.85" width="3.75" height="3.75" fill="#e5d16e"/>
<rect x="239.15" y="69.85" width="3.75" height="3.75" fill="#eadb81"/>
<rect x="242.60" y="69.85" width="3.75" height="3.75" fill="#ece08b"/>
<rect x="246.05" y="69.85" width="3.75" height="3.75" fill="#ece08c"/>
<rect x="249.50" y="69.85" width="3.75" height="3.75" fill="#ece18d"/>
<rect x="252.95" y="69.85" width="3.75" height="3.75" fill="#efe599"/>
<rect x="256.40" y="69.85" width="3.75" height="3.75" fill="#f0edb9"/>
<rect x="259.85" y="69.85" width="3.75" height="3.75" fill="#b4e5e0"/>
<rect x="263.30" y="69.85" width="3.75" height="3.75" fill="#8bd5e0"/>
<rect x="266.75" y="69.85" width="3.75" height="3.75" fill="#7acde0"/>
<rect x="270.20" y="69.85" width="3.75" height="3.75" fill="#69c1de"/>
<rect x="273.65" y="69.85" width="3.75" height="3.75" fill="#66bede"/>
<rect x="277.10" y="69.85" width="3.75" height="3.75" fill="#80d0e0"/>
<rect x="280.55" y="69.85" width="3.75" height="3.75" fill="#9bdce0"/>
<rect x="284.00" y="69.85" width="3.75" height="3.75" fill="#9fdde0"/>
<rect x="287.45" y="69.85" width="3.75" height="3.75" fill="#8fd7e0"/>
<rect x="290.90" y="69.85" width="3.75" height="3.75" fill="#50a8d8"/>
<rect x="294.35" y="69.85" width="3.75" height="3.75" fill="#2a6dba"/>
<rect x="297.80" y="69.85" width="3.75" height="3.75" fill="#2764b5"/>
<rect x="301.25" y="69.85" width="3.75" height="3.75" fill="#2764b5"/>
<rect x="304.70" y="69.85" width="3.75" height="3.75" fill="#2766b6"/>
<rect x="308.15" y="69.85" width="3.75" height="3.75" fill="#2e75be"/>
<rect x="311.60" y="69.85" width="3.75" height="3.75" fill="#3786c7"/>
<rect x="315.05" y="69.85" width="3.75" height="3.75" fill="#5ab2db"/>
<rect x="318.50" y="69.85" width="3.75" height="3.75" fill="#a6e0e0"/>
<rect x="321.95" y="69.85" width="3.75" height="3.75" fill="#f0e8a2"/>
<rect x="325.40" y="69.85" width="3.75" height="3.75" fill="#e7d574"/>
<rect x="328.85" y="69.85" width="3.75" height="3.75" fill="#dfc75f"/>
<rect x="332.30" y="69.85" width="3.75" height="3.75" fill="#ddc15b"/>
<rect x="335.75" y="69.85" width="3.75" height="3.75" fill="#dfc55e"/>
<rect x="339.20" y="69.85" width="3.75" height="3.75" fill="#e6d371"/>
<rect x="342.65" y="69.85" width="3.75" height="3.75" fill="#efe599"/>
<rect x="346.10" y="69.85" width="3.75" height="3.75" fill="#c1e9e0"/>
<rect x="349.55" y="69.85" width="3.75" height="3.75" fill="#a5dfe0"/>
<rect x="353.00" y="69.85" width="3.75" height="3.75" fill="#8fd7e0"/>
<rect x="356.45" y="69.85" width="3.75" height="3.75" fill="#8ad5e0"/>
<rect x="359.90" y="69.85" width="3.75" height="3.75" fill="#8ad5e0"/>
<rect x="363.35" y="69.85" width="3.75" height="3.75" fill="#8ad5e0"/>
<rect x="366.80" y="69.85" width="3.75" height="3.75" fill="#8ad5e0"/>
<rect x="370.25" y="69.85" width="3.75" height="3.75" fill="#8ad5e0"/>
<rect x="373.70" y="69.85" width="3.75" height="3.75" fill="#8ad5e0"/>
<rect x="377.15" y="69.85" width="3.75" height="3.75" fill="#8ad5e0"/>
<rect x="380.60" y="69.85" width="3.75" height="3.75" fill="#8bd6e0"/>
<rect x="384.05" y="69.85" width="3.75" height="3.75" fill="#a8e1e0"/>
<rect x="387.50" y="69.85" width="3.75" height="3.75" fill="#e0eed1"/>
<rect x="390.95" y="69.85" width="3.75" height="3.75" fill="#eff0c8"/>
<rect x="394.40" y="69.85" width="3.75" height="3.75" fill="#f0f0c8"/>
<rect x="215.00" y="73.30" width="3.75" height="3.75" fill="#e3ce6a"/>
<rect x="218.45" y="73.30" width="3.75" height="3.75" fill="#e3ce6a"/>
<rect x="221.90" y="73.30" width="3.75" height="3.75" fill="#e3ce6a"/>
<rect x="225.35" y="73.30" width="3.75" height="3.75" fill="#e3ce6a"/>
<rect x="228.80" y="73.30" width="3.75" height="3.75" fill="#e3ce6a"/>
<rect x="232.25" y="73.30" width="3.75" height="3.75" fill="#e3ce6a"/>
<rect x="235.70" y="73.30" width="3.75" height="3.75" fill="#e4d16d"/>
<rect x="239.15" y="73.30" width="3.75" height="3.75" fill="#e9db7f"/>
<rect x="242.60" y="73.30" width="3.75" height="3.75" fill="#ece08b"/>
<rect x="246.05" y="73.30" width="3.75" height="3.75" fill="#ece08c"/>
<rect x="249.50" y="73.30" width="3.75" height="3.75" fill="#ece08b"/>
<rect x="252.95" y="73.30" width="3.75" height="3.75" fill="#eadc81"/>
<rect x="256.40" y="73.30" width="3.75" height="3.75" fill="#e8d777"/>
<rect x="259.85" y="73.30" width="3.75" height="3.75" fill="#f0e9a4"/>
<rect x="263.30" y="73.30" width="3.75" height="3.75" fill="#c7ece0"/>
<rect x="266.75" y="73.30" width="3.75" height="3.75" fill="#b7e6e0"/>
<rect x="270.20" y="73.30" width="3.75" height="3.75" fill="#9ddde0"/>
<rect x="273.65" y="73.30" width="3.75" height="3.75" fill="#81d0e0"/>
<rect x="277.10" y="73.30" width="3.75" height="3.75" fill="#80d0e0"/>
<rect x="280.55" y="73.30" width="3.75" height="3.75" fill="#8fd8e0"/>
<rect x="284.00" y="73.30" width="3.75" height="3.75" fill="#93d9e0"/>
<rect x="287.45" y="73.30" width="3.75" height="3.75" fill="#7fd0e0"/>
<rect x="290.90" y="73.30" width="3.75" height="3.75" fill="#489dd2"/>
<rect x="294.35" y="73.30" width="3.75" height="3.75" fill="#2a6cba"/>
<rect x="297.80" y="73.30" width="3.75" height="3.75" fill="#2765b6"/>
<rect x="301.25" y="73.30" width="3.75" height="3.75" fill="#2765b6"/>
<rect x="304.70" y="73.30" width="3.75" height="3.75" fill="#2869b8"/>
<rect x="308.15" y="73.30" width="3.75" height="3.75" fill="#317ac1"/>
<rect x="311.60" y="73.30" width="3.75" height="3.75" fill="#3888c8"/>
<rect x="315.05" y="73.30" width="3.75" height="3.75" fill="#59b1da"/>
<rect x="318.50" y="73.30" width="3.75" height="3.75" fill="#a3dfe0"/>
<rect x="321.95" y="73.30" width="3.75" height="3.75" fill="#f0eaa8"/>
<rect x="325.40" y="73.30" width="3.75" height="3.75" fill="#e7d676"/>
<rect x="328.85" y="73.30" width="3.75" height="3.75" fill="#e0c861"/>
<rect x="332.30" y="73.30" width="3.75" height="3.75" fill="#ddc35c"/>
<rect x="335.75" y="73.30" width="3.75" height="3.75" fill="#dfc75f"/>
<rect x="339.20" y="73.30" width="3.75" height="3.75" fill="#e6d472"/>
<rect x="342.65" y="73.30" width="3.75" height="3.75" fill="#efe69c"/>
<rect x="346.10" y="73.30" width="3.75" height="3.75" fill="#bee8e0"/>
<rect x="349.55" y="73.30" width="3.75" height="3.75" fill="#a1dee0"/>
<rect x="353.00" y="73.30" width="3.75" height="3.75" fill="#8ed7e0"/>
<rect x="356.45" y="73.30" width="3.75" height="3.75" fill="#8ad5e0"/>
<rect x="359.90" y="73.30" width="3.75" height="3.75" fill="#8ad5e0"/>
<rect x="363.35" y="73.30" width="3.75" height="3.75" fill="#8ad5e0"/>
<rect x="366.80" y="73.30" width="3.75" height="3.75" fill="#8ad5e0"/>
<rect x="370.25" y="73.30" width="3.75" height="3.75" fill="#8ad5e0"/>
<rect x="373.70" y="73.30" width="3.75" height="3.75" fill="#8ad5e0"/>
<rect x="377.15" y="73.30" width="3.75" height="3.75" fill="#8ad5e0"/>
<rect x="380.60" y="73.30" width="3.75" height="3.75" fill="#8cd6e0"/>
<rect x="384.05" y="73.30" width="3.75" height="3.75" fill="#ace2e0"/>
<rect x="387.50" y="73.30" width="3.75" height="3.75" fill="#e4efcf"/>
<rect x="390.95" y="73.30" width="3.75" height="3.75" fill="#f0f0c8"/>
<rect x="394.40" y="73.30" width="3.75" height="3.75" fill="#f0f0c8"/>
<rect x="215.00" y="76.75" width="3.75" height="3.75" fill="#e3ce6a"/>
<rect x="218.45" y="76.75" width="3.75" height="3.75" fill="#e3ce6a"/>
<rect x="221.90" y="76.75" width="3.75" height="3.75" fill="#e3ce6a"/>
<rect x="225.35" y="76.75" width="3.75" height="3.75" fill="#e3ce6a"/>
<rect x="228.80" y="76.75" width="3.75" height="3.75" fill="#e3ce6a"/>
<rect x="232.25" y="76.75" width="3.75" height="3.75" fill="#e3ce6a"/>
<rect x="235.70" y="76.75" width="3.75" height="3.75" fill="#e4d06c"/>
<rect x="239.15" y="76.75" width="3.75" height="3.75" fill="#e8d97a"/>
<rect x="242.60" y="76.75" width="3.75" height="3.75" fill="#ecdf8a"/>
<rect x="246.05" y="76.75" width="3.75" height="3.75" fill="#ece08c"/>
<rect x="249.50" y="76.75" width="3.75" height="3.75" fill="#ecdf8a"/>
<rect x="252.95" y="76.75" width="3.75" height="3.75" fill="#e7d675"/>
<rect x="256.40" y="76.75" width="3.75" height="3.75" fill="#dcc05a"/>
<rect x="259.85" y="76.75" width="3.75" height="3.75" fill="#dabc57"/>
<rect x="263.30" y="76.75" width="3.75" height="3.75" fill="#dcc05a"/>
<rect x="266.75" y="76.75" width="3.75" height="3.75" fill="#ddc25c"/>
<rect x="270.20" y="76.75" width="3.75" height="3.75" fill="#e0c75f"/>
<rect x="273.65" y="76.75" width="3.75" height="3.75" fill="#e6d472"/>
<rect x="277.10" y="76.75" width="3.75" height="3.75" fill="#eee394"/>
<rect x="280.55" y="76.75" width="3.75" height="3.75" fill="#f0edbb"/>
<rect x="284.00" y="76.75" width="3.75" height="3.75" fill="#c1e9e0"/>
<rect x="287.45" y="76.75" width="3.75" height="3.75" fill="#7dcee0"/>
<rect x="290.90" y="76.75" width="3.75" height="3.75" fill="#459ad1"/>
<rect x="294.35" y="76.75" width="3.75" height="3.75" fill="#2c70bc"/>
<rect x="297.80" y="76.75" width="3.75" height="3.75" fill="#2867b7"/>
<rect x="301.25" y="76.75" width="3.75" height="3.75" fill="#2766b6"/>
<rect x="304.70" y="76.75" width="3.75" height="3.75" fill="#2b6ebb"/>
<rect x="308.15" y="76.75" width="3.75" height="3.75" fill="#337ec3"/>
<rect x="311.60" y="76.75" width="3.75" height="3.75" fill="#3786c7"/>
<rect x="315.05" y="76.75" width="3.75" height="3.75" fill="#469bd1"/>
<rect x="318.50" y="76.75" width="3.75" height="3.75" fill="#7ccee0"/>
<rect x="321.95" y="76.75" width="3.75" height="3.75" fill="#c3eae0"/>
<rect x="325.40" y="76.75" width="3.75" height="3.75" fill="#f0e79e"/>
<rect x="328.85" y="76.75" width="3.75" height="3.75" fill="#e9db7f"/>
<rect x="332.30" y="76.75" width="3.75" height="3.75" fill="#e7d675"/>
<rect x="335.75" y="76.75" width="3.75" height="3.75" fill="#e9da7c"/>
<rect x="339.20" y="76.75" width="3.75" height="3.75" fill="#eee598"/>
<rect x="342.65" y="76.75" width="3.75" height="3.75" fill="#d8eed7"/>
<rect x="346.10" y="76.75" width="3.75" height="3.75" fill="#a0dee0"/>
<rect x="349.55" y="76.75" width="3.75" height="3.75" fill="#84d2e0"/>
<rect x="353.00" y="76.75" width="3.75" height="3.75" fill="#86d3e0"/>
<rect x="356.45" y="76.75" width="3.75" height="3.75" fill="#89d5e0"/>
<rect x="359.90" y="76.75" width="3.75" height="3.75" fill="#8ad5e0"/>
<rect x="363.35" y="76.75" width="3.75" height="3.75" fill="#8ad5e0"/>
<rect x="366.80" y="76.75" width="3.75" height="3.75" fill="#8ad5e0"/>
<rect x="370.25" y="76.75" width="3.75" height="3.75" fill="#8ad5e0"/>
<rect x="373.70" y="76.75" width="3.75" height="3.75" fill="#8ad5e0"/>
<rect x="377.15" y="76.75" width="3.75" height="3.75" fill="#8ad5e0"/>
<rect x="380.60" y="76.75" width="3.75" height="3.75" fill="#8bd5e0"/>
<rect x="384.05" y="76.75" width="3.75" height="3.75" fill="#9fdde0"/>
<rect x="387.50" y="76.75" width="3.75" height="3.75" fill="#d4edd9"/>
<rect x="390.95" y="76.75" width="3.75" height="3.75" fill="#ecf0cb"/>
<rect x="394.40" y="76.75" width="3.75" height="3.75" fill="#edf0ca"/>
<rect x="215.00" y="80.20" width="3.75" height="3.75" fill="#e3ce6a"/>
<rect x="218.45" y="80.20" width="3.75" height="3.75" fill="#e3ce6a"/>
<rect x="221.90" y="80.20" width="3.75" height="3.75" fill="#e3ce6a"/>
<rect x="225.35" y="80.20" width="3.75" height="3.75" fill="#e3ce69"/>
<rect x="228.80" y="80.20" width="3.75" height="3.75" fill="#e3ce69"/>
<rect x="232.25" y="80.20" width="3.75" height="3.75" fill="#e3ce69"/>
<rect x="235.70" y="80.20" width="3.75" height="3.75" fill="#e3cf6a"/>
<rect x="239.15" y="80.20" width="3.75" height="3.75" fill="#e6d472"/>
<rect x="242.60" y="80.20" width="3.75" height="3.75" fill="#eadc82"/>
<rect x="246.05" y="80.20" width="3.75" height="3.75" fill="#ecdf8b"/>
<rect x="249.50" y="80.20" width="3.75" height="3.75" fill="#ebde86"/>
<rect x="252.95" y="80.20" width="3.75" height="3.75" fill="#e4cf6b"/>
<rect x="256.40" y="80.20" width="3.75" height="3.75" fill="#d2ad4c"/>
<rect x="259.85" y="80.20" width="3.75" height="3.75" fill="#ca9a3f"/>
<rect x="263.30" y="80.20" width="3.75" height="3.75" fill="#c9983e"/>
<rect x="266.75" y="80.20" width="3.75" height="3.75" fill="#c9963d"/>
<rect x="270.20" y="80.20" width="3.75" height="3.75" fill="#c9963d"/>
<rect x="273.65" y="80.20" width="3.75" height="3.75" fill="#ca9a40"/>
<rect x="277.10" y="80.20" width="3.75" height="3.75" fill="#cea345"/>
<rect x="280.55" y="80.20" width="3.75" height="3.75" fill="#d2ad4c"/>
<rect x="284.00" y="80.20" width="3.75" height="3.75" fill="#dcbf59"/>
<rect x="287.45" y="80.20" width="3.75" height="3.75" fill="#f0eaa8"/>
<rect x="290.90" y="80.20" width="3.75" height="3.75" fill="#67bfde"/>
<rect x="294.35" y="80.20" width="3.75" height="3.75" fill="#3f91cd"/>
<rect x="297.80" y="80.20" width="3.75" height="3.75" fill="#3583c5"/>
<rect x="301.25" y="80.20" width="3.75" height="3.75" fill="#2e75be"/>
<rect x="304.70" y="80.20" width="3.75" height="3.75" fill="#3179c1"/>
<rect x="308.15" y="80.20" width="3.75" height="3.75" fill="#3583c5"/>
<rect x="311.60" y="80.20" width="3.75" height="3.75" fill="#3685c6"/>
<rect x="315.05" y="80.20" width="3.75" height="3.75" fill="#3989c9"/>
<rect x="318.50" y="80.20" width="3.75" height="3.75" fill="#4ca3d5"/>
<rect x="321.95" y="80.20" width="3.75" height="3.75" fill="#76cbe0"/>
<rect x="325.40" y="80.20" width="3.75" height="3.75" fill="#9fdde0"/>
<rect x="328.85" y="80.20" width="3.75" height="3.75" fill="#c5ebe0"/>
<rect x="332.30" y="80.20" width="3.75" height="3.75" fill="#d8eed7"/>
<rect x="335.75" y="80.20" width="3.75" height="3.75" fill="#cdecdd"/>
<rect x="339.20" y="80.20" width="3.75" height="3.75" fill="#b0e4e0"/>
<rect x="342.65" y="80.20" width="3.75" height="3.75" fill="#8bd6e0"/>
<rect x="346.10" y="80.20" width="3.75" height="3.75" fill="#6bc3df"/>
<rect x="349.55" y="80.20" width="3.75" height="3.75" fill="#62badc"/>
<rect x="353.00" y="80.20" width="3.75" height="3.75" fill="#81d0e0"/>
<rect x="356.45" y="80.20" width="3.75" height="3.75" fill="#89d5e0"/>
<rect x="359.90" y="80.20" width="3.75" height="3.75" fill="#8ad5e0"/>
<rect x="363.35" y="80.20" width="3.75" height="3.75" fill="#8ad5e0"/>
<rect x="366.80" y="80.20" width="3.75" height="3.75" fill="#8ad5e0"/>
<rect x="370.25" y="80.20" width="3.75" height="3.75" fill="#8ad5e0"/>
<rect x="373.70" y="80.20" width="3.75" height="3.75" fill="#8ad5e0"/>
<rect x="377.15" y="80.20" width="3.75" height="3.75" fill="#8ad5e0"/>
<rect x="380.60" y="80.20" width="3.75" height="3.75" fill="#8ad5e0"/>
<rect x="384.05" y="80.20" width="3.75" height="3.75" fill="#8ed7e0"/>
<rect x="387.50" y="80.20" width="3.75" height="3.75" fill="#abe2e0"/>
<rect x="390.95" y="80.20" width="3.75" height="3.75" fill="#c2eae0"/>
<rect x="394.40" y="80.20" width="3.75" height="3.75" fill="#c3eae0"/>
<rect x="215.00" y="83.65" width="3.75" height="3.75" fill="#e3ce6a"/>
<rect x="218.45" y="83.65" width="3.75" height="3.75" fill="#e3ce69"/>
<rect x="221.90" y="83.65" width="3.75" height="3.75" fill="#e2cd67"/>
<rect x="225.35" y="83.65" width="3.75" height="3.75" fill="#e1ca63"/>
<rect x="228.80" y="83.65" width="3.75" height="3.75" fill="#e0c75f"/>
<rect x="232.25" y="83.65" width="3.75" height="3.75" fill="#e0c75f"/>
<rect x="235.70" y="83.65" width="3.75" height="3.75" fill="#e1ca63"/>
<rect x="239.15" y="83.65" width="3.75" height="3.75" fill="#e3ce69"/>
<rect x="242.60" y="83.65" width="3.75" height="3.75" fill="#e7d574"/>
<rect x="246.05" y="83.65" width="3.75" height="3.75" fill="#ece18e"/>
<rect x="249.50" y="83.65" width="3.75" height="3.75" fill="#eee497"/>
<rect x="252.95" y="83.65" width="3.75" height="3.75" fill="#e9da7c"/>
<rect x="256.40" y="83.65" width="3.75" height="3.75" fill="#d9ba55"/>
<rect x="259.85" y="83.65" width="3.75" height="3.75" fill="#cb9c41"/>
<rect x="263.30" y="83.65" width="3.75" height="3.75" fill="#c7923b"/>
<rect x="266.75" y="83.65" width="3.75" height="3.75" fill="#c28533"/>
<rect x="270.20" y="83.65" width="3.75" height="3.75" fill="#bb772b"/>
<rect x="273.65" y="83.65" width="3.75" height="3.75" fill="#ba752a"/>
<rect x="277.10" y="83.65" width="3.75" height="3.75" fill="#ba762a"/>
<rect x="280.55" y="83.65" width="3.75" height="3.75" fill="#bf7e2f"/>
<rect x="284.00" y="83.65" width="3.75" height="3.75" fill="#c7923b"/>
<rect x="287.45" y="83.65" width="3.75" height="3.75" fill="#d8b854"/>
<rect x="290.90" y="83.65" width="3.75" height="3.75" fill="#f0edb7"/>
<rect x="294.35" y="83.65" width="3.75" height="3.75" fill="#9fdee0"/>
<rect x="297.80" y="83.65" width="3.75" height="3.75" fill="#8ad5e0"/>
<rect x="301.25" y="83.65" width="3.75" height="3.75" fill="#52aad9"/>
<rect x="304.70" y="83.65" width="3.75" height="3.75" fill="#3787c7"/>
<rect x="308.15" y="83.65" width="3.75" height="3.75" fill="#3685c6"/>
<rect x="311.60" y="83.65" width="3.75" height="3.75" fill="#3685c6"/>
<rect x="315.05" y="83.65" width="3.75" height="3.75" fill="#3785c7"/>
<rect x="318.50" y="83.65" width="3.75" height="3.75" fill="#3888c8"/>
<rect x="321.95" y="83.65" width="3.75" height="3.75" fill="#4194ce"/>
<rect x="325.40" y="83.65" width="3.75" height="3.75" fill="#51a9d8"/>
<rect x="328.85" y="83.65" width="3.75" height="3.75" fill="#63bbdd"/>
<rect x="332.30" y="83.65" width="3.75" height="3.75" fill="#6cc4df"/>
<rect x="335.75" y="83.65" width="3.75" height="3.75" fill="#6ac2df"/>
<rect x="339.20" y="83.65" width="3.75" height="3.75" fill="#5eb6dc"/>
<rect x="342.65" y="83.65" width="3.75" height="3.75" fill="#4ca3d5"/>
<rect x="346.10" y="83.65" width="3.75" height="3.75" fill="#4599d1"/>
<rect x="349.55" y="83.65" width="3.75" height="3.75" fill="#63bbdd"/>
<rect x="353.00" y="83.65" width="3.75" height="3.75" fill="#85d2e0"/>
<rect x="356.45" y="83.65" width="3.75" height="3.75" fill="#8ad5e0"/>
<rect x="359.90" y="83.65" width="3.75" height="3.75" fill="#8ad5e0"/>
<rect x="363.35" y="83.65" width="3.75" height="3.75" fill="#8ad5e0"/>
<rect x="366.80" y="83.65" width="3.75" height="3.75" fill="#8ad5e0"/>
<rect x="370.25" y="83.65" width="3.75" height="3.75" fill="#8ad5e0"/>
<rect x="373.70" y="83.65" width="3.75" height="3.75" fill="#8ad5e0"/>
<rect x="377.15" y="83.65" width="3.75" height="3.75" fill="#8ad5e0"/>
<rect x="380.60" y="83.65" width="3.75" height="3.75" fill="#8ad5e0"/>
<rect x="384.05" y="83.65" width="3.75" height="3.75" fill="#8ad5e0"/>
<rect x="387.50" y="83.65" width="3.75" height="3.75" fill="#8dd6e0"/>
<rect x="390.95" y="83.65" width="3.75" height="3.75" fill="#90d8e0"/>
<rect x="394.40" y="83.65" width="3.75" height="3.75" fill="#90d8e0"/>
<rect x="215.00" y="87.10" width="3.75" height="3.75" fill="#e3ce69"/>
<rect x="218.45" y="87.10" width="3.75" height="3.75" fill="#e2cc66"/>
<rect x="221.90" y="87.10" width="3.75" height="3.75" fill="#ddc25b"/>
<rect x="225.35" y="87.10" width="3.75" height="3.75" fill="#d7b753"/>
<rect x="228.80" y="87.10" width="3.75" height="3.75" fill="#d5b250"/>
<rect x="232.25" y="87.10" width="3.75" height="3.75" fill="#d5b250"/>
<rect x="235.70" y="87.10" width="3.75" height="3.75" fill="#d7b753"/>
<rect x="239.15" y="87.10" width="3.75" height="3.75" fill="#ddc35c"/>
<rect x="242.60" y="87.10" width="3.75" height="3.75" fill="#e8d878"/>
<rect x="246.05" y="87.10" width="3.75" height="3.75" fill="#d5edd8"/>
<rect x="249.50" y="87.10" width="3.75" height="3.75" fill="#90d8e0"/>
<rect x="252.95" y="87.10" width="3.75" height="3.75" fill="#96dae0"/>
<rect x="256.40" y="87.10" width="3.75" height="3.75" fill="#f0eaaa"/>
<rect x="259.85" y="87.10" width="3.75" height="3.75" fill="#dabd58"/>
<rect x="263.30" y="87.10" width="3.75" height="3.75" fill="#c9953d"/>
<rect x="266.75" y="87.10" width="3.75" height="3.75" fill="#bb782b"/>
<rect x="270.20" y="87.10" width="3.75" height="3.75" fill="#a95a19"/>
<rect x="273.65" y="87.10" width="3.75" height="3.75" fill="#a65517"/>
<rect x="277.10" y="87.10" width="3.75" height="3.75" fill="#a65517"/>
<rect x="280.55" y="87.10" width="3.75" height="3.75" fill="#aa5b1a"/>
<rect x="284.00" y="87.10" width="3.75" height="3.75" fill="#b77127"/>
<rect x="287.45" y="87.10" width="3.75" height="3.75" fill="#c8933b"/>
<rect x="290.90" y="87.10" width="3.75" height="3.75" fill="#dfc75f"/>
<rect x="294.35" y="87.10" width="3.75" height="3.75" fill="#efe69b"/>
<rect x="297.80" y="87.10" width="3.75" height="3.75" fill="#f0f0c7"/>
<rect x="301.25" y="87.10" width="3.75" height="3.75" fill="#82d1e0"/>
<rect x="304.70" y="87.10" width="3.75" height="3.75" fill="#3e90cc"/>
<rect x="308.15" y="87.10" width="3.75" height="3.75" fill="#3785c7"/>
<rect x="311.60" y="87.10" width="3.75" height="3.75" fill="#3685c6"/>
<rect x="315.05" y="87.10" width="3.75" height="3.75" fill="#3685c6"/>
<rect x="318.50" y="87.10" width="3.75" height="3.75" fill="#3685c6"/>
<rect x="321.95" y="87.10" width="3.75" height="3.75" fill="#3785c7"/>
<rect x="325.40" y="87.10" width="3.75" height="3.75" fill="#3887c8"/>
<rect x="328.85" y="87.10" width="3.75" height="3.75" fill="#3a8ac9"/>
<rect x="332.30" y="87.10" width="3.75" height="3.75" fill="#3b8cca"/>
<rect x="335.75" y="87.10" width="3.75" height="3.75" fill="#3b8cca"/>
<rect x="339.20" y="87.10" width="3.75" height="3.75" fill="#398ac9"/>
<rect x="342.65" y="87.10" width="3.75" height="3.75" fill="#3c8dca"/>
<rect x="346.10" y="87.10" width="3.75" height="3.75" fill="#4fa7d8"/>
<rect x="349.55" y="87.10" width="3.75" height="3.75" fill="#79cde0"/>
<rect x="353.00" y="87.10" width="3.75" height="3.75" fill="#89d4e0"/>
<rect x="356.45" y="87.10" width="3.75" height="3.75" fill="#8ad5e0"/>
<rect x="359.90" y="87.10" width="3.75" height="3.75" fill="#8ad5e0"/>
<rect x="363.35" y="87.10" width="3.75" height="3.75" fill="#8ad5e0"/>
<rect x="366.80" y="87.10" width="3.75" height="3.75" fill="#8ad5e0"/>
<rect x="370.25" y="87.10" width="3.75" height="3.75" fill="#8ad5e0"/>
<rect x="373.70" y="87.10" width="3.75" height="3.75" fill="#8ad5e0"/>
<rect x="377.15" y="87.10" width="3.75" height="3.75" fill="#8ad5e0"/>
<rect x="380.60" y="87.10" width="3.75" height="3.75" fill="#8ad5e0"/>
<rect x="384.05" y="87.10" width="3.75" height="3.75" fill="#8ad5e0"/>
<rect x="387.50" y="87.10" width="3.75" height="3.75" fill="#8ad5e0"/>
<rect x="390.95" y="87.10" width="3.75" height="3.75" fill="#8ad5e0"/>
<rect x="394.40" y="87.10" width="3.75" height="3.75" fill="#8ad5e0"/>
<rect x="215.00" y="90.55" width="3.75" height="3.75" fill="#e3ce69"/>
<rect x="218.45" y="90.55" width="3.75" height="3.75" fill="#dfc55e"/>
<rect x="221.90" y="90.55" width="3.75" height="3.75" fill="#d6b350"/>
<rect x="225.35" y="90.55" width="3.75" height="3.75" fill="#d0a949"/>
<rect x="228.80" y="90.55" width="3.75" height="3.75" fill="#cfa446"/>
<rect x="232.25" y="90.55" width="3.75" height="3.75" fill="#d0a848"/>
<rect x="235.70" y="90.55" width="3.75" height="3.75" fill="#d2ad4c"/>
<rect x="239.15" y="90.55" width="3.75" height="3.75" fill="#d8b854"/>
<rect x="242.60" y="90.55" width="3.75" height="3.75" fill="#ecdf8a"/>
<rect x="246.05" y="90.55" width="3.75" height="3.75" fill="#89d5e0"/>
<rect x="249.50" y="90.55" width="3.75" height="3.75" fill="#5ab2da"/>
<rect x="252.95" y="90.55" width="3.75" height="3.75" fill="#57afda"/>
<rect x="256.40" y="90.55" width="3.75" height="3.75" fill="#86d3e0"/>
<rect x="259.85" y="90.55" width="3.75" height="3.75" fill="#e9d97b"/>
<rect x="263.30" y="90.55" width="3.75" height="3.75" fill="#cda244"/>
<rect x="266.75" y="90.55" width="3.75" height="3.75" fill="#be7d2e"/>
<rect x="270.20" y="90.55" width="3.75" height="3.75" fill="#a85818"/>
<rect x="273.65" y="90.55" width="3.75" height="3.75" fill="#a25115"/>
<rect x="277.10" y="90.55" width="3.75" height="3.75" fill="#a25115"/>
<rect x="280.55" y="90.55" width="3.75" height="3.75" fill="#a35215"/>
<rect x="284.00" y="90.55" width="3.75" height="3.75" fill="#a95a19"/>
<rect x="287.45" y="90.55" width="3.75" height="3.75" fill="#bf7f2f"/>
<rect x="290.90" y="90.55" width="3.75" height="3.75" fill="#dcc05a"/>
<rect x="294.35" y="90.55" width="3.75" height="3.75" fill="#ede393"/>
<rect x="297.80" y="90.55" width="3.75" height="3.75" fill="#f0ecb5"/>
<rect x="301.25" y="90.55" width="3.75" height="3.75" fill="#91d8e0"/>
<rect x="304.70" y="90.55" width="3.75" height="3.75" fill="#4295cf"/>
<rect x="308.15" y="90.55" width="3.75" height="3.75" fill="#3785c7"/>
<rect x="311.60" y="90.55" width="3.75" height="3.75" fill="#3685c6"/>
<rect x="315.05" y="90.55" width="3.75" height="3.75" fill="#3685c6"/>
<rect x="318.50" y="90.55" width="3.75" height="3.75" fill="#3685c6"/>
<rect x="321.95" y="90.55" width="3.75" height="3.75" fill="#3685c6"/>
<rect x="325.40" y="90.55" width="3.75" height="3.75" fill="#3685c6"/>
<rect x="328.85" y="90.55" width="3.75" height="3.75" fill="#3785c7"/>
<rect x="332.30" y="90.55" width="3.75" height="3.75" fill="#3785c7"/>
<rect x="335.75" y="90.55" width="3.75" height="3.75" fill="#3786c7"/>
<rect x="339.20" y="90.55" width="3.75" height="3.75" fill="#3b8cca"/>
<rect x="342.65" y="90.55" width="3.75" height="3.75" fill="#4ba1d5"/>
<rect x="346.10" y="90.55" width="3.75" height="3.75" fill="#6fc7e0"/>
<rect x="349.55" y="90.55" width="3.75" height="3.75" fill="#86d3e0"/>
<rect x="353.00" y="90.55" width="3.75" height="3.75" fill="#89d5e0"/>
<rect x="356.45" y="90.55" width="3.75" height="3.75" fill="#8ad5e0"/>
<rect x="359.90" y="90.55" width="3.75" height="3.75" fill="#8ad5e0"/>
<rect x="363.35" y="90.55" width="3.75" height="3.75" fill="#8ad5e0"/>
<rect x="366.80" y="90.55" width="3.75" height="3.75" fill="#8ad5e0"/>
<rect x="370.25" y="90.55" width="3.75" height="3.75" fill="#8ad5e0"/>
<rect x="373.70" y="90.55" width="3.75" height="3.75" fill="#8ad5e0"/>
<rect x="377.15" y="90.55" width="3.75" height="3.75" fill="#8ad5e0"/>
<rect x="380.60" y="90.55" width="3.75" height="3.75" fill="#8ad5e0"/>
<rect x="384.05" y="90.55" width="3.75" height="3.75" fill="#8ad5e0"/>
<rect x="387.50" y="90.55" width="3.75" height="3.75" fill="#8ad5e0"/>
<rect x="390.95" y="90.55" width="3.75" height="3.75" fill="#8ad5e0"/>
<rect x="394.40" y="90.55" width="3.75" height="3.75" fill="#8ad5e0"/>
<rect x="215.00" y="94.00" width="3.75" height="3.75" fill="#e2cd67"/>
<rect x="218.45" y="94.00" width="3.75" height="3.75" fill="#dbbf59"/>
<rect x="221.90" y="94.00" width="3.75" height="3.75" fill="#d1a949"/>
<rect x="225.35" y="94.00" width="3.75" height="3.75" fill="#c8933c"/>
<rect x="228.80" y="94.00" width="3.75" height="3.75" fill="#c68e38"/>
<rect x="232.25" y="94.00" width="3.75" height="3.75" fill="#c8953d"/>
<rect x="235.70" y="94.00" width="3.75" height="3.75" fill="#d0a848"/>
<rect x="239.15" y="94.00" width="3.75" height="3.75" fill="#d5b250"/>
<rect x="242.60" y="94.00" width="3.75" height="3.75" fill="#eadc83"/>
<rect x="246.05" y="94.00" width="3.75" height="3.75" fill="#86d3e0"/>
<rect x="249.50" y="94.00" width="3.75" height="3.75" fill="#55add9"/>
<rect x="252.95" y="94.00" width="3.75" height="3.75" fill="#52aad9"/>
<rect x="256.40" y="94.00" width="3.75" height="3.75" fill="#7dcee0"/>
<rect x="259.85" y="94.00" width="3.75" height="3.75" fill="#ece18d"/>
<rect x="263.30" y="94.00" width="3.75" height="3.75" fill="#d1a949"/>
<rect x="266.75" y="94.00" width="3.75" height="3.75" fill="#c38634"/>
<rect x="270.20" y="94.00" width="3.75" height="3.75" fill="#af641f"/>
<rect x="273.65" y="94.00" width="3.75" height="3.75" fill="#a65517"/>
<rect x="277.10" y="94.00" width="3.75" height="3.75" fill="#a35215"/>
<rect x="280.55" y="94.00" width="3.75" height="3.75" fill="#a35115"/>
<rect x="284.00" y="94.00" width="3.75" height="3.75" fill="#a55516"/>
<rect x="287.45" y="94.00" width="3.75" height="3.75" fill="#b97429"/>
<rect x="290.90" y="94.00" width="3.75" height="3.75" fill="#d9b955"/>
<rect x="294.35" y="94.00" width="3.75" height="3.75" fill="#ede18f"/>
<rect x="297.80" y="94.00" width="3.75" height="3.75" fill="#f0edba"/>
<rect x="301.25" y="94.00" width="3.75" height="3.75" fill="#98dbe0"/>
<rect x="304.70" y="94.00" width="3.75" height="3.75" fill="#4ea6d7"/>
<rect x="308.15" y="94.00" width="3.75" height="3.75" fill="#3e90cc"/>
<rect x="311.60" y="94.00" width="3.75" height="3.75" fill="#3989c9"/>
<rect x="315.05" y="94.00" width="3.75" height="3.75" fill="#3887c8"/>
<rect x="318.50" y="94.00" width="3.75" height="3.75" fill="#3786c7"/>
<rect x="321.95" y="94.00" width="3.75" height="3.75" fill="#3786c7"/>
<rect x="325.40" y="94.00" width="3.75" height="3.75" fill="#3787c7"/>
<rect x="328.85" y="94.00" width="3.75" height="3.75" fill="#3989c9"/>
<rect x="332.30" y="94.00" width="3.75" height="3.75" fill="#3d8ecb"/>
<rect x="335.75" y="94.00" width="3.75" height="3.75" fill="#4499d0"/>
<rect x="339.20" y="94.00" width="3.75" height="3.75" fill="#58b0da"/>
<rect x="342.65" y="94.00" width="3.75" height="3.75" fill="#75cae0"/>
<rect x="346.10" y="94.00" width="3.75" height="3.75" fill="#86d3e0"/>
<rect x="349.55" y="94.00" width="3.75" height="3.75" fill="#89d5e0"/>
<rect x="353.00" y="94.00" width="3.75" height="3.75" fill="#8ad5e0"/>
<rect x="356.45" y="94.00" width="3.75" height="3.75" fill="#8ad5e0"/>
<rect x="359.90" y="94.00" width="3.75" height="3.75" fill="#8ad5e0"/>
<rect x="363.35" y="94.00" width="3.75" height="3.75" fill="#8ad5e0"/>
<rect x="366.80" y="94.00" width="3.75" height="3.75" fill="#8ad5e0"/>
<rect x="370.25" y="94.00" width="3.75" height="3.75" fill="#8ad5e0"/>
<rect x="373.70" y="94.00" width="3.75" height="3.75" fill="#8ad5e0"/>
<rect x="377.15" y="94.00" width="3.75" height="3.75" fill="#8ad5e0"/>
<rect x="380.60" y="94.00" width="3.75" height="3.75" fill="#8ad5e0"/>
<rect x="384.05" y="94.00" width="3.75" height="3.75" fill="#8ad5e0"/>
<rect x="387.50" y="94.00" width="3.75" height="3.75" fill="#8ad5e0"/>
<rect x="390.95" y="94.00" width="3.75" height="3.75" fill="#8ad5e0"/>
<rect x="394.40" y="94.00" width="3.75" height="3.75" fill="#8ad5e0"/>
<rect x="215.00" y="97.45" width="3.75" height="3.75" fill="#e3cd68"/>
<rect x="218.45" y="97.45" width="3.75" height="3.75" fill="#ddc25c"/>
<rect x="221.90" y="97.45" width="3.75" height="3.75" fill="#d1aa4a"/>
<rect x="225.35" y="97.45" width="3.75" height="3.75" fill="#c69039"/>
<rect x="228.80" y="97.45" width="3.75" height="3.75" fill="#c48a36"/>
<rect x="232.25" y="97.45" width="3.75" height="3.75" fill="#c7913a"/>
<rect x="235.70" y="97.45" width="3.75" height="3.75" fill="#cfa647"/>
<rect x="239.15" y="97.45" width="3.75" height="3.75" fill="#d5b250"/>
<rect x="242.60" y="97.45" width="3.75" height="3.75" fill="#e4d06b"/>
<rect x="246.05" y="97.45" width="3.75" height="3.75" fill="#e7efcd"/>
<rect x="249.50" y="97.45" width="3.75" height="3.75" fill="#95dae0"/>
<rect x="252.95" y="97.45" width="3.75" height="3.75" fill="#90d8e0"/>
<rect x="256.40" y="97.45" width="3.75" height="3.75" fill="#d2edda"/>
<rect x="259.85" y="97.45" width="3.75" height="3.75" fill="#e7d675"/>
<rect x="263.30" y="97.45" width="3.75" height="3.75" fill="#d6b350"/>
<rect x="266.75" y="97.45" width="3.75" height="3.75" fill="#cda043"/>
<rect x="270.20" y="97.45" width="3.75" height="3.75" fill="#c48a36"/>
<rect x="273.65" y="97.45" width="3.75" height="3.75" fill="#ba762a"/>
<rect x="277.10" y="97.45" width="3.75" height="3.75" fill="#b06620"/>
<rect x="280.55" y="97.45" width="3.75" height="3.75" fill="#ad611d"/>
<rect x="284.00" y="97.45" width="3.75" height="3.75" fill="#b16721"/>
<rect x="287.45" y="97.45" width="3.75" height="3.75" fill="#c18332"/>
<rect x="290.90" y="97.45" width="3.75" height="3.75" fill="#d9bb56"/>
<rect x="294.35" y="97.45" width="3.75" height="3.75" fill="#f0e8a1"/>
<rect x="297.80" y="97.45" width="3.75" height="3.75" fill="#c8ece0"/>
<rect x="301.25" y="97.45" width="3.75" height="3.75" fill="#98dbe0"/>
<rect x="304.70" y="97.45" width="3.75" height="3.75" fill="#79cce0"/>
<rect x="308.15" y="97.45" width="3.75" height="3.75" fill="#67bfde"/>
<rect x="311.60" y="97.45" width="3.75" height="3.75" fill="#58b0da"/>
<rect x="315.05" y="97.45" width="3.75" height="3.75" fill="#4ea5d7"/>
<rect x="318.50" y="97.45" width="3.75" height="3.75" fill="#4aa0d4"/>
<rect x="321.95" y="97.45" width="3.75" height="3.75" fill="#4aa0d4"/>
<rect x="325.40" y="97.45" width="3.75" height="3.75" fill="#4da4d6"/>
<rect x="328.85" y="97.45" width="3.75" height="3.75" fill="#56aeda"/>
<rect x="332.30" y="97.45" width="3.75" height="3.75" fill="#64bcdd"/>
<rect x="335.75" y="97.45" width="3.75" height="3.75" fill="#73c9e0"/>
<rect x="339.20" y="97.45" width="3.75" height="3.75" fill="#81d0e0"/>
<rect x="342.65" y="97.45" width="3.75" height="3.75" fill="#88d4e0"/>
<rect x="346.10" y="97.45" width="3.75" height="3.75" fill="#89d5e0"/>
<rect x="349.55" y="97.45" width="3.75" height="3.75" fill="#8ad5e0"/>
<rect x="353.00" y="97.45" width="3.75" height="3.75" fill="#8ad5e0"/>
<rect x="356.45" y="97.45" width="3.75" height="3.75" fill="#8ad5e0"/>
<rect x="359.90" y="97.45" width="3.75" height="3.75" fill="#8ad5e0"/>
<rect x="363.35" y="97.45" width="3.75" height="3.75" fill="#8ad5e0"/>
<rect x="366.80" y="97.45" width="3.75" height="3.75" fill="#8ad5e0"/>
<rect x="370.25" y="97.45" width="3.75" height="3.75" fill="#8ad5e0"/>
<rect x="373.70" y="97.45" width="3.75" height="3.75" fill="#8ad5e0"/>
<rect x="377.15" y="97.45" width="3.75" height="3.75" fill="#8ad5e0"/>
<rect x="380.60" y="97.45" width="3.75" height="3.75" fill="#8ad5e0"/>
<rect x="384.05" y="97.45" width="3.75" height="3.75" fill="#8ad5e0"/>
<rect x="387.50" y="97.45" width="3.75" height="3.75" fill="#8ad5e0"/>
<rect x="390.95" y="97.45" width="3.75" height="3.75" fill="#8ad5e0"/>
<rect x="394.40" y="97.45" width="3.75" height="3.75" fill="#8ad5e0"/>
<rect x="215.00" y="100.90" width="3.75" height="3.75" fill="#e3ce69"/>
<rect x="218.45" y="100.90" width="3.75" height="3.75" fill="#e1cb64"/>
<rect x="221.90" y="100.90" width="3.75" height="3.75" fill="#dabc57"/>
<rect x="225.35" y="100.90" width="3.75" height="3.75" fill="#d2ab4a"/>
<rect x="228.80" y="100.90" width="3.75" height="3.75" fill="#cea244"/>
<rect x="232.25" y="100.90" width="3.75" height="3.75" fill="#d0a848"/>
<rect x="235.70" y="100.90" width="3.75" height="3.75" fill="#d5b250"/>
<rect x="239.15" y="100.90" width="3.75" height="3.75" fill="#dcbf59"/>
<rect x="242.60" y="100.90" width="3.75" height="3.75" fill="#e2cc66"/>
<rect x="246.05" y="100.90" width="3.75" height="3.75" fill="#e7d574"/>
<rect x="249.50" y="100.90" width="3.75" height="3.75" fill="#eadd83"/>
<rect x="252.95" y="100.90" width="3.75" height="3.75" fill="#ebdd85"/>
<rect x="256.40" y="100.90" width="3.75" height="3.75" fill="#e7d676"/>
<rect x="259.85" y="100.90" width="3.75" height="3.75" fill="#e4cf6b"/>
<rect x="263.30" y="100.90" width="3.75" height="3.75" fill="#e0c860"/>
<rect x="266.75" y="100.90" width="3.75" height="3.75" fill="#dcc15b"/>
<rect x="270.20" y="100.90" width="3.75" height="3.75" fill="#d9ba56"/>
<rect x="273.65" y="100.90" width="3.75" height="3.75" fill="#d5b250"/>
<rect x="277.10" y="100.90" width="3.75" height="3.75" fill="#d1a949"/>
<rect x="280.55" y="100.90" width="3.75" height="3.75" fill="#cea345"/>
<rect x="284.00" y="100.90" width="3.75" height="3.75" fill="#d1ab4a"/>
<rect x="287.45" y="100.90" width="3.75" height="3.75" fill="#d7b753"/>
<rect x="290.90" y="100.90" width="3.75" height="3.75" fill="#e4d06c"/>
<rect x="294.35" y="100.90" width="3.75" height="3.75" fill="#d2edda"/>
<rect x="297.80" y="100.90" width="3.75" height="3.75" fill="#95dae0"/>
<rect x="301.25" y="100.90" width="3.75" height="3.75" fill="#8cd6e0"/>
<rect x="304.70" y="100.90" width="3.75" height="3.75" fill="#89d4e0"/>
<rect x="308.15" y="100.90" width="3.75" height="3.75" fill="#87d3e0"/>
<rect x="311.60" y="100.90" width="3.75" height="3.75" fill="#83d1e0"/>
<rect x="315.05" y="100.90" width="3.75" height="3.75" fill="#7fcfe0"/>
<rect x="318.50" y="100.90" width="3.75" height="3.75" fill="#7ccee0"/>
<rect x="321.95" y="100.90" width="3.75" height="3.75" fill="#7ccee0"/>
<rect x="325.40" y="100.90" width="3.75" height="3.75" fill="#7ecfe0"/>
<rect x="328.85" y="100.90" width="3.75" height="3.75" fill="#82d1e0"/>
<rect x="332.30" y="100.90" width="3.75" height="3.75" fill="#86d3e0"/>
<rect x="335.75" y="100.90" width="3.75" height="3.75" fill="#88d4e0"/>
<rect x="339.20" y="100.90" width="3.75" height="3.75" fill="#89d5e0"/>
<rect x="342.65" y="100.90" width="3.75" height="3.75" fill="#8ad5e0"/>
<rect x="346.10" y="100.90" width="3.75" height="3.75" fill="#8ad5e0"/>
<rect x="349.55" y="100.90" width="3.75" height="3.75" fill="#8ad5e0"/>
<rect x="353.00" y="100.90" width="3.75" height="3.75" fill="#8ad5e0"/>
<rect x="356.45" y="100.90" width="3.75" height="3.75" fill="#8ad5e0"/>
<rect x="359.90" y="100.90" width="3.75" height="3.75" fill="#8ad5e0"/>
<rect x="363.35" y="100.90" width="3.75" height="3.75" fill="#8ad5e0"/>
<rect x="366.80" y="100.90" width="3.75" height="3.75" fill="#8ad5e0"/>
<rect x="370.25" y="100.90" width="3.75" height="3.75" fill="#8ad5e0"/>
<rect x="373.70" y="100.90" width="3.75" height="3.75" fill="#8ad5e0"/>
<rect x="377.15" y="100.90" width="3.75" height="3.75" fill="#8ad5e0"/>
<rect x="380.60" y="100.90" width="3.75" height="3.75" fill="#8ad5e0"/>
<rect x="384.05" y="100.90" width="3.75" height="3.75" fill="#8ad5e0"/>
<rect x="387.50" y="100.90" width="3.75" height="3.75" fill="#8ad5e0"/>
<rect x="390.95" y="100.90" width="3.75" height="3.75" fill="#8ad5e0"/>
<rect x="394.40" y="100.90" width="3.75" height="3.75" fill="#8ad5e0"/>
<rect x="215.00" y="104.35" width="3.75" height="3.75" fill="#e3ce6a"/>
<rect x="218.45" y="104.35" width="3.75" height="3.75" fill="#e3ce69"/>
<rect x="221.90" y="104.35" width="3.75" height="3.75" fill="#e2cc66"/>
<rect x="225.35" y="104.35" width="3.75" height="3.75" fill="#e0c75f"/>
<rect x="228.80" y="104.35" width="3.75" height="3.75" fill="#ddc35c"/>
<rect x="232.25" y="104.35" width="3.75" height="3.75" fill="#dec35d"/>
<rect x="235.70" y="104.35" width="3.75" height="3.75" fill="#e0c860"/>
<rect x="239.15" y="104.35" width="3.75" height="3.75" fill="#e2cc66"/>
<rect x="242.60" y="104.35" width="3.75" height="3.75" fill="#e3ce69"/>
<rect x="246.05" y="104.35" width="3.75" height="3.75" fill="#e3cf6a"/>
<rect x="249.50" y="104.35" width="3.75" height="3.75" fill="#e4cf6b"/>
<rect x="252.95" y="104.35" width="3.75" height="3.75" fill="#e4cf6b"/>
<rect x="256.40" y="104.35" width="3.75" height="3.75" fill="#e3cf6a"/>
<rect x="259.85" y="104.35" width="3.75" height="3.75" fill="#e3ce6a"/>
<rect x="263.30" y="104.35" width="3.75" height="3.75" fill="#e3ce69"/>
<rect x="266.75" y="104.35" width="3.75" height="3.75" fill="#e3ce68"/>
<rect x="270.20" y="104.35" width="3.75" height="3.75" fill="#e2cd67"/>
<rect x="273.65" y="104.35" width="3.75" height="3.75" fill="#e2cc65"/>
<rect x="277.10" y="104.35" width="3.75" height="3.75" fill="#e1ca63"/>
<rect x="280.55" y="104.35" width="3.75" height="3.75" fill="#e0c961"/>
<rect x="284.00" y="104.35" width="3.75" height="3.75" fill="#e1ca63"/>
<rect x="287.45" y="104.35" width="3.75" height="3.75" fill="#e2cc67"/>
<rect x="290.90" y="104.35" width="3.75" height="3.75" fill="#e5d26f"/>
<rect x="294.35" y="104.35" width="3.75" height="3.75" fill="#f0e8a1"/>
<rect x="297.80" y="104.35" width="3.75" height="3.75" fill="#a1dee0"/>
<rect x="301.25" y="104.35" width="3.75" height="3.75" fill="#8bd5e0"/>
<rect x="304.70" y="104.35" width="3.75" height="3.75" fill="#8ad5e0"/>
<rect x="308.15" y="104.35" width="3.75" height="3.75" fill="#8ad5e0"/>
<rect x="311.60" y="104.35" width="3.75" height="3.75" fill="#89d5e0"/>
<rect x="315.05" y="104.35" width="3.75" height="3.75" fill="#89d5e0"/>
<rect x="318.50" y="104.35" width="3.75" height="3.75" fill="#89d5e0"/>
<rect x="321.95" y="104.35" width="3.75" height="3.75" fill="#89d5e0"/>
<rect x="325.40" y="104.35" width="3.75" height="3.75" fill="#89d5e0"/>
<rect x="328.85" y="104.35" width="3.75" height="3.75" fill="#89d5e0"/>
<rect x="332.30" y="104.35" width="3.75" height="3.75" fill="#8ad5e0"/>
<rect x="335.75" y="104.35" width="3.75" height="3.75" fill="#8ad5e0"/>
<rect x="339.20" y="104.35" width="3.75" height="3.75" fill="#8ad5e0"/>
<rect x="342.65" y="104.35" width="3.75" height="3.75" fill="#8ad5e0"/>
<rect x="346.10" y="104.35" width="3.75" height="3.75" fill="#8ad5e0"/>
<rect x="349.55" y="104.35" width="3.75" height="3.75" fill="#8ad5e0"/>
<rect x="353.00" y="104.35" width="3.75" height="3.75" fill="#8ad5e0"/>
<rect x="356.45" y="104.35" width="3.75" height="3.75" fill="#8ad5e0"/>
<rect x="359.90" y="104.35" width="3.75" height="3.75" fill="#8ad5e0"/>
<rect x="363.35" y="104.35" width="3.75" height="3.75" fill="#8ad5e0"/>
<rect x="366.80" y="104.35" width="3.75" height="3.75" fill="#8ad5e0"/>
<rect x="370.25" y="104.35" width="3.75" height="3.75" fill="#8ad5e0"/>
<rect x="373.70" y="104.35" width="3.75" height="3.75" fill="#8ad5e0"/>
<rect x="377.15" y="104.35" width="3.75" height="3.75" fill="#8ad5e0"/>
<rect x="380.60" y="104.35" width="3.75" height="3.75" fill="#8ad5e0"/>
<rect x="384.05" y="104.35" width="3.75" height="3.75" fill="#8ad5e0"/>
<rect x="387.50" y="104.35" width="3.75" height="3.75" fill="#8ad5e0"/>
<rect x="390.95" y="104.35" width="3.75" height="3.75" fill="#8ad5e0"/>
<rect x="394.40" y="104.35" width="3.75" height="3.75" fill="#8ad5e0"/>
<rect x="215.00" y="107.80" width="3.75" height="3.75" fill="#e3ce6a"/>
<rect x="218.45" y="107.80" width="3.75" height="3.75" fill="#e3ce6a"/>
<rect x="221.90" y="107.80" width="3.75" height="3.75" fill="#e3ce69"/>
<rect x="225.35" y="107.80" width="3.75" height="3.75" fill="#e3cd68"/>
<rect x="228.80" y="107.80" width="3.75" height="3.75" fill="#e2cd67"/>
<rect x="232.25" y="107.80" width="3.75" height="3.75" fill="#e2cd67"/>
<rect x="235.70" y="107.80" width="3.75" height="3.75" fill="#e3ce68"/>
<rect x="239.15" y="107.80" width="3.75" height="3.75" fill="#e3ce69"/>
<rect x="242.60" y="107.80" width="3.75" height="3.75" fill="#e3ce6a"/>
<rect x="246.05" y="107.80" width="3.75" height="3.75" fill="#e3ce6a"/>
<rect x="249.50" y="107.80" width="3.75" height="3.75" fill="#e3ce6a"/>
<rect x="252.95" y="107.80" width="3.75" height="3.75" fill="#e3ce6a"/>
<rect x="256.40" y="107.80" width="3.75" height="3.75" fill="#e3ce6a"/>
<rect x="259.85" y="107.80" width="3.75" height="3.75" fill="#e3ce6a"/>
<rect x="263.30" y="107.80" width="3.75" height="3.75" fill="#e3ce6a"/>
<rect x="266.75" y="107.80" width="3.75" height="3.75" fill="#e3ce6a"/>
<rect x="270.20" y="107.80" width="3.75" height="3.75" fill="#e3ce6a"/>
<rect x="273.65" y="107.80" width="3.75" height="3.75" fill="#e3ce69"/>
<rect x="277.10" y="107.80" width="3.75" height="3.75" fill="#e3ce69"/>
<rect x="280.55" y="107.80" width="3.75" height="3.75" fill="#e3ce69"/>
<rect x="284.00" y="107.80" width="3.75" height="3.75" fill="#e3ce69"/>
<rect x="287.45" y="107.80" width="3.75" height="3.75" fill="#e3ce69"/>
<rect x="290.90" y="107.80" width="3.75" height="3.75" fill="#e4cf6b"/>
<rect x="294.35" y="107.80" width="3.75" height="3.75" fill="#eadd84"/>
<rect x="297.80" y="107.80" width="3.75" height="3.75" fill="#b7e6e0"/>
<rect x="301.25" y="107.80" width="3.75" height="3.75" fill="#8cd6e0"/>
<rect x="304.70" y="107.80" width="3.75" height="3.75" fill="#8ad5e0"/>
<rect x="308.15" y="107.80" width="3.75" height="3.75" fill="#8ad5e0"/>
<rect x="311.60" y="107.80" width="3.75" height="3.75" fill="#8ad5e0"/>
<rect x="315.05" y="107.80" width="3.75" height="3.75" fill="#8ad5e0"/>
<rect x="318.50" y="107.80" width="3.75" height="3.75" fill="#8ad5e0"/>
<rect x="321.95" y="107.80" width="3.75" height="3.75" fill="#8ad5e0"/>
<rect x="325.40" y="107.80" width="3.75" height="3.75" fill="#8ad5e0"/>
<rect x="328.85" y="107.80" width="3.75" height="3.75" fill="#8ad5e0"/>
<rect x="332.30" y="107.80" width="3.75" height="3.75" fill="#8ad5e0"/>
<rect x="335.75" y="107.80" width="3.75" height="3.75" fill="#8ad5e0"/>
<rect x="339.20" y="107.80" width="3.75" height="3.75" fill="#8ad5e0"/>
<rect x="342.65" y="107.80" width="3.75" height="3.75" fill="#8ad5e0"/>
<rect x="346.10" y="107.80" width="3.75" height="3.75" fill="#8ad5e0"/>
<rect x="349.55" y="107.80" width="3.75" height="3.75" fill="#8ad5e0"/>
<rect x="353.00" y="107.80" width="3.75" height="3.75" fill="#8ad5e0"/>
<rect x="356.45" y="107.80" width="3.75" height="3.75" fill="#8ad5e0"/>
<rect x="359.90" y="107.80" width="3.75" height="3.75" fill="#8ad5e0"/>
<rect x="363.35" y="107.80" width="3.75" height="3.75" fill="#8ad5e0"/>
<rect x="366.80" y="107.80" width="3.75" height="3.75" fill="#8ad5e0"/>
<rect x="370.25" y="107.80" width="3.75" height="3.75" fill="#8ad5e0"/>
<rect x="373.70" y="107.80" width="3.75" height="3.75" fill="#8ad5e0"/>
<rect x="377.15" y="107.80" width="3.75" height="3.75" fill="#8ad5e0"/>
<rect x="380.60" y="107.80" width="3.75" height="3.75" fill="#8ad5e0"/>
<rect x="384.05" y="107.80" width="3.75" height="3.75" fill="#8ad5e0"/>
<rect x="387.50" y="107.80" width="3.75" height="3.75" fill="#8ad5e0"/>
<rect x="390.95" y="107.80" width="3.75" height="3.75" fill="#8ad5e0"/>
<rect x="394.40" y="107.80" width="3.75" height="3.75" fill="#8ad5e0"/></g><path d="M213,37 L214,58 L227.5,58.3 L238,56.5 L248.5,53.5 L259,51.2 L272,48.3 L280,47.5 L292,49 L305,50.5 L315,49.5 L340,51.5 L360,52 L397,53 L397,37 Z" fill="#8c8c8c"/>
<rect x="222" y="52.7" width="13.699999999999989" height="5.299999999999997" fill="#8a8aa0"/>
<rect x="215.5" y="53.5" width="6.0" height="3.5" fill="#f0f0d4"/>
<rect x="235.7" y="53.5" width="7.300000000000011" height="3.0" fill="#f0f0d4"/>
<rect x="253" y="50" width="4.5" height="2.700000000000003" fill="#f0f0d4"/>
<rect x="260.5" y="56.5" width="3.0" height="3.0" fill="#7a8090"/>
<rect x="305" y="51" width="7" height="4" fill="#7c84a8"/>
<rect x="335" y="52" width="10" height="3" fill="#7c84a8"/>
<rect x="350" y="52" width="8" height="3" fill="#9aa0c0"/>
<rect x="365" y="52" width="32" height="6" fill="#8c8c8c"/>
<rect x="380" y="56" width="17" height="6" fill="#8c8c8c"/>
<rect x="239" y="101" width="4" height="3.5" fill="#8c8c8c"/>
<rect x="262" y="101" width="3" height="3.5" fill="#8c8c8c"/>
<rect x="247" y="104.5" width="43" height="5.5" fill="#8c8c8c"/>
<rect x="287" y="99.5" width="29" height="10.5" fill="#8c8c8c"/>
<rect x="307" y="98" width="4" height="3" fill="#eeeed4"/>
<rect x="315" y="103" width="7" height="7" fill="#8c8c8c"/>
<rect x="322" y="106" width="75" height="4" fill="#8c8c8c"/>
<rect x="330" y="102" width="8" height="4" fill="#8c8c98"/>
<rect x="363" y="101" width="7" height="9" fill="#8c8c8c"/>
<rect x="370" y="97" width="8" height="13" fill="#8c8c8c"/>
<rect x="382" y="94" width="15" height="16" fill="#8c8c8c"/>
<rect x="385" y="102" width="5" height="6" fill="#f4f4f0"/>
<path d="M214,58 L227.5,58.3 L238,56.5 L248.5,53.5 L259,51.2 L272,48.3 L280,47.5 L292,49 L305,50.5 L315,49.5 L340,51.5 L360,52 L397,53" fill="none" stroke="#111" stroke-width="1.0"/></g>
<rect x="215" y="38.8" width="180.60000000000002" height="69.5" fill="none" stroke="#333" stroke-width="0.8"/>
<text x="211" y="56.1" font-size="7.6" text-anchor="end" font-weight="normal" fill="#111" >0</text>
<line x1="213" y1="53.4" x2="215" y2="53.4" stroke="#333" stroke-width="0.5"/>
<text x="211" y="69.9" font-size="7.6" text-anchor="end" font-weight="normal" fill="#111" >2</text>
<line x1="213" y1="67.2" x2="215" y2="67.2" stroke="#333" stroke-width="0.5"/>
<text x="211" y="83.7" font-size="7.6" text-anchor="end" font-weight="normal" fill="#111" >4</text>
<line x1="213" y1="81.0" x2="215" y2="81.0" stroke="#333" stroke-width="0.5"/>
<text x="211" y="97.50000000000001" font-size="7.6" text-anchor="end" font-weight="normal" fill="#111" >6</text>
<line x1="213" y1="94.80000000000001" x2="215" y2="94.80000000000001" stroke="#333" stroke-width="0.5"/>
<text x="211" y="111.3" font-size="7.6" text-anchor="end" font-weight="normal" fill="#111" >8</text>
<line x1="213" y1="108.6" x2="215" y2="108.6" stroke="#333" stroke-width="0.5"/>
<text transform="translate(204.4,75) rotate(-90)" font-size="7.9" text-anchor="middle" fill="#111">Depth (km)</text>
<text x="223.0" y="119" font-size="7.6" text-anchor="middle" font-weight="normal" fill="#111" >15</text>
<line x1="223.0" y1="108.3" x2="223.0" y2="109.8" stroke="#333" stroke-width="0.5"/>
<text x="257.5" y="119" font-size="7.6" text-anchor="middle" font-weight="normal" fill="#111" >20</text>
<line x1="257.5" y1="108.3" x2="257.5" y2="109.8" stroke="#333" stroke-width="0.5"/>
<text x="292.0" y="119" font-size="7.6" text-anchor="middle" font-weight="normal" fill="#111" >25</text>
<line x1="292.0" y1="108.3" x2="292.0" y2="109.8" stroke="#333" stroke-width="0.5"/>
<text x="326.5" y="119" font-size="7.6" text-anchor="middle" font-weight="normal" fill="#111" >30</text>
<line x1="326.5" y1="108.3" x2="326.5" y2="109.8" stroke="#333" stroke-width="0.5"/>
<text x="361.0" y="119" font-size="7.6" text-anchor="middle" font-weight="normal" fill="#111" >35</text>
<line x1="361.0" y1="108.3" x2="361.0" y2="109.8" stroke="#333" stroke-width="0.5"/>
<text x="395.5" y="119" font-size="7.6" text-anchor="middle" font-weight="normal" fill="#111" >40</text>
<line x1="395.5" y1="108.3" x2="395.5" y2="109.8" stroke="#333" stroke-width="0.5"/>
<text x="296" y="127.5" font-size="7.9" text-anchor="middle" font-weight="normal" fill="#111" >Distance (km)</text>
<text x="1.3" y="140.8" font-size="9.6" text-anchor="start" font-weight="bold" fill="#000" >C</text>
<text x="17" y="142" font-size="7.8" text-anchor="start" font-weight="normal" fill="#111" >Mount St. Helens</text>
<text x="85" y="142.2" font-size="7.8" fill="#111">V<tspan font-size="5.6" dy="2">S</tspan><tspan dy="-2"> anomaly (%)</tspan></text>
<rect x="50.00" y="153.5" width="5.30" height="8.5" fill="#940000"/>
<rect x="55.00" y="153.5" width="5.30" height="8.5" fill="#bf0000"/>
<rect x="60.00" y="153.5" width="5.30" height="8.5" fill="#e90000"/>
<rect x="65.00" y="153.5" width="5.30" height="8.5" fill="#ff1500"/>
<rect x="70.00" y="153.5" width="5.30" height="8.5" fill="#ff3f00"/>
<rect x="75.00" y="153.5" width="5.30" height="8.5" fill="#ff6a00"/>
<rect x="80.00" y="153.5" width="5.30" height="8.5" fill="#ff9400"/>
<rect x="85.00" y="153.5" width="5.30" height="8.5" fill="#ffbf00"/>
<rect x="90.00" y="153.5" width="5.30" height="8.5" fill="#ffe900"/>
<rect x="95.00" y="153.5" width="5.30" height="8.5" fill="#e9ff15"/>
<rect x="100.00" y="153.5" width="5.30" height="8.5" fill="#bfff3f"/>
<rect x="105.00" y="153.5" width="5.30" height="8.5" fill="#94ff6a"/>
<rect x="110.00" y="153.5" width="5.30" height="8.5" fill="#6aff94"/>
<rect x="115.00" y="153.5" width="5.30" height="8.5" fill="#3fffbf"/>
<rect x="120.00" y="153.5" width="5.30" height="8.5" fill="#15ffe9"/>
<rect x="125.00" y="153.5" width="5.30" height="8.5" fill="#00e9ff"/>
<rect x="130.00" y="153.5" width="5.30" height="8.5" fill="#00bfff"/>
<rect x="135.00" y="153.5" width="5.30" height="8.5" fill="#0094ff"/>
<rect x="140.00" y="153.5" width="5.30" height="8.5" fill="#006aff"/>
<rect x="145.00" y="153.5" width="5.30" height="8.5" fill="#003fff"/>
<rect x="150.00" y="153.5" width="5.30" height="8.5" fill="#0015ff"/>
<rect x="155.00" y="153.5" width="5.30" height="8.5" fill="#0000e9"/>
<rect x="160.00" y="153.5" width="5.30" height="8.5" fill="#0000bf"/>
<rect x="165.00" y="153.5" width="5.30" height="8.5" fill="#000094"/>
<rect x="50" y="153.5" width="120" height="8.5" fill="none" stroke="#555" stroke-width="0.5"/>
<text x="51" y="150.4" font-size="7.6" text-anchor="middle" font-weight="normal" fill="#111" >-10</text>
<text x="110" y="150.4" font-size="7.6" text-anchor="middle" font-weight="normal" fill="#111" >0</text>
<text x="170" y="150.4" font-size="7.6" text-anchor="middle" font-weight="normal" fill="#111" >+10</text>
<defs><clipPath id="clipC"><rect x="20" y="171.2" width="176.5" height="134.1"/></clipPath><filter id="blC" x="-5%" y="-5%" width="110%" height="110%"><feGaussianBlur stdDeviation="1.6"/></filter></defs>
<g clip-path="url(#clipC)"><g filter="url(#blC)"><rect x="15" y="168" width="185" height="142" fill="#c0f040"/>
<rect x="15" y="168" width="185" height="32" fill="#c0f040"/>
<rect x="15" y="176" width="16" height="22" fill="#e42010"/>
<rect x="31" y="176" width="5" height="23" fill="#f89028"/>
<rect x="36" y="176" width="10" height="23" fill="#f8d028"/>
<rect x="46" y="176" width="6" height="22" fill="#c0f040"/>
<rect x="52" y="176" width="11" height="22" fill="#80f088"/>
<ellipse cx="57" cy="186" rx="6" ry="5" fill="#50f0c0" opacity="1"/>
<rect x="63" y="176" width="7" height="21" fill="#e8f028"/>
<rect x="15" y="198" width="21" height="8" fill="#f49020"/>
<rect x="36" y="198" width="14" height="8" fill="#f8c828"/>
<rect x="50" y="198" width="12" height="9" fill="#c0f040"/>
<rect x="15" y="206" width="21" height="10" fill="#f8b828"/>
<path d="M58,199 L100,200 L150,204 L200,206 L200,250 L165,244 L140,236 L115,226 L90,218 L62,214 Z" fill="#50ecc0" />
<path d="M82,201 L100,201 L150,203 L200,203 L200,228 L165,228 L140,226 L115,222 L95,216 L85,212 Z" fill="#30d6f0" />
<path d="M120,224 L200,226 L200,248 L165,244 L140,236 Z" fill="#44e6d0" />
<path d="M48,201 L70,200 L85,203 L85,218 L65,220 L50,216 Z" fill="#5ce8c4" />
<path d="M64,204 L85,203 L85,216 L68,214 Z" fill="#3cdce8" />
<path d="M126,198 L150,190 L200,186 L200,222 L170,219 L126,214 Z" fill="#20a8f2" />
<path d="M136,191 L160,186 L180,184 L200,185 L200,212 L185,210 L160,208 L140,204 Z" fill="#1444e6" />
<path d="M150,197 L165,193 L185,194 L200,197 L200,207 L180,206 L160,206 L150,205 Z" fill="#0422c2" />
<path d="M140,180 L200,180 L200,185 L180,184 L160,186 L145,189 Z" fill="#5cd8f0" />
<path d="M64,180 L128,176 L150,183 L160,190 L136,201 L110,203 L85,202 L66,199 Z" fill="#f8d020" />
<path d="M66,179 L124,175 L146,182 L156,188 L134,198 L108,200.5 L86,199.5 L68,197 Z" fill="#f07818" />
<path d="M68,177 L120,174 L140,181 L152,186 L132,195 L108,197.5 L88,197 L70,195 Z" fill="#cc1a0a" />
<path d="M72,172 L120,172 L135,179 L146,184 L130,190 L108,192 L88,191.5 L72,190 Z" fill="#8a0a02" />
<rect x="15" y="236" width="20" height="22" fill="#e0f030"/>
<rect x="35" y="238" width="25" height="30" fill="#a8f060"/>
<rect x="60" y="236" width="22" height="34" fill="#d0f038"/>
<rect x="78" y="222" width="34" height="14" fill="#f0e820"/>
<rect x="82" y="230" width="28" height="22" fill="#f8c420"/>
<rect x="110" y="232" width="25" height="23" fill="#e8f028"/>
<rect x="132" y="236" width="14" height="70" fill="#e0f028"/>
<rect x="146" y="236" width="20" height="70" fill="#b0f050"/>
<rect x="165" y="240" width="35" height="66" fill="#58e8c0"/>
<rect x="82" y="250" width="50" height="34" fill="#f8a018"/>
<rect x="88" y="254" width="38" height="26" fill="#f26a14"/>
<rect x="96" y="258" width="26" height="18" fill="#f05a12"/>
<rect x="82" y="284" width="50" height="22" fill="#e8ec28"/>
<rect x="84" y="282" width="46" height="10" fill="#f8b424"/>
<rect x="130" y="250" width="10" height="56" fill="#e8f028"/>
<rect x="20" y="256" width="24" height="20" fill="#98f068"/>
<path d="M15,284 L35,273 L46,271 L60,273 L66,285 L70,310 L15,310 Z" fill="#38d4f0" />
<path d="M15,292 L30,284 L48,286 L52,310 L15,310 Z" fill="#28b4f4" />
<rect x="66" y="284" width="18" height="22" fill="#b0f050"/>
<ellipse cx="186" cy="269" rx="19" ry="19" fill="#40c8f0" opacity="1"/>
<ellipse cx="191" cy="266" rx="11" ry="8" fill="#2c90f0" opacity="1"/></g><path d="M20,188 L30,183.4" fill="none" stroke="#ffffff" stroke-width="1.6" opacity="0.95" stroke-linejoin="round" stroke-linecap="round"/>
<path d="M20,197 L38,192.4 L53.8,188 L62.8,187.2 L76.3,191.3 L92,197 L104,200.5 L124,200 L148.5,190.4 L163,185.6 L180,184.3 L197,186.8" fill="none" stroke="#ffffff" stroke-width="1.6" opacity="0.95" stroke-linejoin="round" stroke-linecap="round"/>
<path d="M20,202.5 L42.5,198.8 L65,197 L87.6,199 L100,204" fill="none" stroke="#ffffff" stroke-width="1.6" opacity="0.95" stroke-linejoin="round" stroke-linecap="round"/>
<path d="M20,207 L50,204.3 L80,202.8 L95,203.5" fill="none" stroke="#ffffff" stroke-width="1.6" opacity="0.95" stroke-linejoin="round" stroke-linecap="round"/>
<path d="M20,212.7 L53.8,208 L78.5,204.8 L98.8,206 L104,208 L112,218.3 L136.4,216 L160.7,213.5 L172.8,211 L197,212.3" fill="none" stroke="#ffffff" stroke-width="1.6" opacity="0.95" stroke-linejoin="round" stroke-linecap="round"/>
<path d="M100,210 L124,207.4 L148.5,200 L164,194 L177.7,195.3 L197,200" fill="none" stroke="#ffffff" stroke-width="1.6" opacity="0.95" stroke-linejoin="round" stroke-linecap="round"/>
<path d="M143.7,207.4 L163,201.3 L172.8,200 L187.4,202.5 L197,205" fill="none" stroke="#ffffff" stroke-width="1.6" opacity="0.95" stroke-linejoin="round" stroke-linecap="round"/>
<path d="M74,181.5 L90,181 L104,176" fill="none" stroke="#ffffff" stroke-width="1.6" opacity="0.95" stroke-linejoin="round" stroke-linecap="round"/>
<path d="M76,190 L90,189 L104,185" fill="none" stroke="#ffffff" stroke-width="1.6" opacity="0.95" stroke-linejoin="round" stroke-linecap="round"/>
<path d="M111.5,177.4 L140,182.8 L150,184" fill="none" stroke="#ffffff" stroke-width="1.6" opacity="0.95" stroke-linejoin="round" stroke-linecap="round"/>
<path d="M111.5,187 L140,192.5" fill="none" stroke="#ffffff" stroke-width="1.6" opacity="0.95" stroke-linejoin="round" stroke-linecap="round"/>
<path d="M20,236 L45,233 L60,236 L80,240 L82,245 L78,255 L80,268 L92,278 L105,281 L120,280 L130,273 L131,260 L125,250 L118,240 L116,230 L112,222 L108,218 L130,215 L150,213" fill="none" stroke="#ffffff" stroke-width="1.6" opacity="0.95" stroke-linejoin="round" stroke-linecap="round"/>
<path d="M20,285 L35,274 L45,271 L60,273 L66,285 L70,306" fill="none" stroke="#d8fff8" stroke-width="0.9" stroke-linejoin="round" stroke-linecap="round"/>
<path d="M197,253 L185,250 L172,255 L166,268 L170,282 L185,290 L197,293" fill="none" stroke="#d8fff8" stroke-width="0.9" stroke-linejoin="round" stroke-linecap="round"/>
<path d="M17,168 L17,182 L26,181.5 L30,180.6 L34,181.8 L45,182.2 L52,180.8 L58,181 L64,182 L70,179.5 L80,176.5 L92,174.5 L100,172.8 L108,172.3 L118,173 L128,176.5 L138,180 L146,181.5 L152,180.5 L160,182 L170,181 L178,182.5 L186,181 L192,183 L199,182 L199,168 Z" fill="#ffffff"/>
<path d="M150,306 L165,304 L176,300 L186,297 L192,296 L199,295 L199,308 L150,308 Z" fill="#b8b8b8" />
<path d="M158,306 L168,303.5 L176,300.5 L186,297.5 L192,296.3 L199,295.5" fill="none" stroke="#111" stroke-width="1.1" stroke-linejoin="round" stroke-linecap="round"/>
<path d="M20,305 L32,297 L45,289.5 L60,283 L75,279 L90,276.5 L110,274 L130,273 L150,272.3 L175,271 L197,270" fill="none" stroke="#111" stroke-width="1.5" stroke-dasharray="5.6,7.4" stroke-linejoin="round" stroke-linecap="round"/>
<path d="M104.2,174 L111.6,174 L111.6,194 Q107.9,197.5 104.2,194 Z" fill="#0c0c0c"/>
<circle cx="112" cy="199" r="1.9" fill="none" stroke="#111" stroke-width="1.1"/>
<circle cx="110" cy="201" r="1.9" fill="none" stroke="#111" stroke-width="1.1"/>
<circle cx="109" cy="203" r="1.9" fill="none" stroke="#111" stroke-width="1.1"/>
<circle cx="111" cy="204" r="1.9" fill="none" stroke="#111" stroke-width="1.1"/>
<circle cx="106" cy="207.5" r="1.9" fill="none" stroke="#111" stroke-width="1.1"/>
<circle cx="103.3" cy="212.3" r="1.9" fill="none" stroke="#111" stroke-width="1.1"/>
<circle cx="107.4" cy="211.6" r="1.9" fill="none" stroke="#111" stroke-width="1.1"/>
<circle cx="108.1" cy="215" r="1.9" fill="none" stroke="#111" stroke-width="1.1"/>
<circle cx="108.1" cy="222.7" r="1.9" fill="none" stroke="#111" stroke-width="1.1"/>
<circle cx="110.9" cy="222" r="1.9" fill="none" stroke="#111" stroke-width="1.1"/>
<circle cx="112.2" cy="225.4" r="1.9" fill="none" stroke="#111" stroke-width="1.1"/>
<circle cx="109.5" cy="224.7" r="1.9" fill="none" stroke="#111" stroke-width="1.1"/>
<circle cx="117.8" cy="230.2" r="1.9" fill="none" stroke="#111" stroke-width="1.1"/>
<circle cx="123.3" cy="233.7" r="1.9" fill="none" stroke="#111" stroke-width="1.1"/>
<circle cx="99.1" cy="233.7" r="1.9" fill="none" stroke="#111" stroke-width="1.1"/>
<circle cx="102.6" cy="233.7" r="1.9" fill="none" stroke="#111" stroke-width="1.1"/>
<circle cx="46.5" cy="252.5" r="1.9" fill="none" stroke="#111" stroke-width="1.1"/></g>
<rect x="20" y="171.2" width="176.5" height="134.10000000000002" fill="none" stroke="#333" stroke-width="0.8"/>
<text x="16.5" y="188.5" font-size="7.6" text-anchor="end" font-weight="normal" fill="#111" >0</text>
<line x1="18" y1="185.8" x2="20" y2="185.8" stroke="#333" stroke-width="0.5"/>
<text x="16.5" y="218.2" font-size="7.6" text-anchor="end" font-weight="normal" fill="#111" >10</text>
<line x1="18" y1="215.5" x2="20" y2="215.5" stroke="#333" stroke-width="0.5"/>
<text x="16.5" y="247.89999999999998" font-size="7.6" text-anchor="end" font-weight="normal" fill="#111" >10</text>
<line x1="18" y1="245.2" x2="20" y2="245.2" stroke="#333" stroke-width="0.5"/>
<text x="16.5" y="278.7" font-size="7.6" text-anchor="end" font-weight="normal" fill="#111" >15</text>
<line x1="18" y1="276" x2="20" y2="276" stroke="#333" stroke-width="0.5"/>
<text transform="translate(4.6,238) rotate(-90)" font-size="7.9" text-anchor="middle" fill="#111">Depth (km)</text>
<text x="20.0" y="315.7" font-size="7.6" text-anchor="middle" font-weight="normal" fill="#111" >-15</text>
<line x1="20.0" y1="305.3" x2="20.0" y2="306.8" stroke="#333" stroke-width="0.5"/>
<text x="49.4" y="315.7" font-size="7.6" text-anchor="middle" font-weight="normal" fill="#111" >-10</text>
<line x1="49.4" y1="305.3" x2="49.4" y2="306.8" stroke="#333" stroke-width="0.5"/>
<text x="78.8" y="315.7" font-size="7.6" text-anchor="middle" font-weight="normal" fill="#111" >-5</text>
<line x1="78.8" y1="305.3" x2="78.8" y2="306.8" stroke="#333" stroke-width="0.5"/>
<text x="108.19999999999999" y="315.7" font-size="7.6" text-anchor="middle" font-weight="normal" fill="#111" >0</text>
<line x1="108.19999999999999" y1="305.3" x2="108.19999999999999" y2="306.8" stroke="#333" stroke-width="0.5"/>
<text x="137.6" y="315.7" font-size="7.6" text-anchor="middle" font-weight="normal" fill="#111" >5</text>
<line x1="137.6" y1="305.3" x2="137.6" y2="306.8" stroke="#333" stroke-width="0.5"/>
<text x="167.0" y="315.7" font-size="7.6" text-anchor="middle" font-weight="normal" fill="#111" >10</text>
<line x1="167.0" y1="305.3" x2="167.0" y2="306.8" stroke="#333" stroke-width="0.5"/>
<text x="196.39999999999998" y="315.7" font-size="7.6" text-anchor="middle" font-weight="normal" fill="#111" >15</text>
<line x1="196.39999999999998" y1="305.3" x2="196.39999999999998" y2="306.8" stroke="#333" stroke-width="0.5"/>
<text x="108" y="323" font-size="7.9" text-anchor="middle" font-weight="normal" fill="#111" >Distance (km)</text>
<text x="201.8" y="140.8" font-size="9.6" text-anchor="start" font-weight="bold" fill="#000" >D</text>
<text x="219" y="142" font-size="7.8" text-anchor="start" font-weight="normal" fill="#111" >Laguna del Maule</text>
<text x="294" y="142.2" font-size="7.8" fill="#111">V<tspan font-size="5.6" dy="2">S</tspan><tspan dy="-2"> (km/s)</tspan></text>
<defs><linearGradient id="cbD" x1="0" x2="1" y1="0" y2="0"><stop offset="0%" stop-color="#d01818"/><stop offset="10%" stop-color="#e02a1c"/><stop offset="20%" stop-color="#f06a20"/><stop offset="28%" stop-color="#f8b030"/><stop offset="34%" stop-color="#f8e040"/><stop offset="42%" stop-color="#d8f070"/><stop offset="50%" stop-color="#90e8b0"/><stop offset="58%" stop-color="#60d8e0"/><stop offset="70%" stop-color="#40a8e8"/><stop offset="82%" stop-color="#3070d0"/><stop offset="100%" stop-color="#1c2c90"/></linearGradient></defs>
<rect x="250.5" y="153.5" width="119.5" height="8.5" fill="url(#cbD)" stroke="#555" stroke-width="0.5"/>
<text x="250.5" y="150.4" font-size="7.6" text-anchor="middle" font-weight="normal" fill="#111" >2.0</text>
<text x="280.4" y="150.4" font-size="7.6" text-anchor="middle" font-weight="normal" fill="#111" >2.5</text>
<text x="310.3" y="150.4" font-size="7.6" text-anchor="middle" font-weight="normal" fill="#111" >3.0</text>
<text x="340.2" y="150.4" font-size="7.6" text-anchor="middle" font-weight="normal" fill="#111" >3.5</text>
<text x="370.1" y="150.4" font-size="7.6" text-anchor="middle" font-weight="normal" fill="#111" >4.0</text>
<defs><clipPath id="clipD"><rect x="218" y="171.3" width="176.6" height="134.2"/></clipPath><filter id="blD" x="-5%" y="-5%" width="110%" height="110%"><feGaussianBlur stdDeviation="0.7"/></filter></defs>
<g clip-path="url(#clipD)"><g filter="url(#blD)" shape-rendering="crispEdges"><rect x="218.0" y="171.3" width="5.9" height="6.0" fill="#f69d2e"/>
<rect x="223.5" y="171.3" width="5.9" height="6.0" fill="#f69d2e"/>
<rect x="229.0" y="171.3" width="5.9" height="6.0" fill="#f69d2e"/>
<rect x="234.5" y="171.3" width="5.9" height="6.0" fill="#f69d2e"/>
<rect x="240.0" y="171.3" width="5.9" height="6.0" fill="#f69d2e"/>
<rect x="245.5" y="171.3" width="5.9" height="6.0" fill="#f5942b"/>
<rect x="251.0" y="171.3" width="5.9" height="6.0" fill="#f48a28"/>
<rect x="256.5" y="171.3" width="5.9" height="6.0" fill="#f27f25"/>
<rect x="262.0" y="171.3" width="5.9" height="6.0" fill="#f17323"/>
<rect x="267.5" y="171.3" width="5.9" height="6.0" fill="#f17323"/>
<rect x="273.0" y="171.3" width="5.9" height="6.0" fill="#f17323"/>
<rect x="278.5" y="171.3" width="5.9" height="6.0" fill="#f17323"/>
<rect x="284.0" y="171.3" width="5.9" height="6.0" fill="#f17323"/>
<rect x="289.5" y="171.3" width="5.9" height="6.0" fill="#f17323"/>
<rect x="295.0" y="171.3" width="5.9" height="6.0" fill="#f17323"/>
<rect x="300.5" y="171.3" width="5.9" height="6.0" fill="#f17323"/>
<rect x="306.0" y="171.3" width="5.9" height="6.0" fill="#f17323"/>
<rect x="311.5" y="171.3" width="5.9" height="6.0" fill="#f17323"/>
<rect x="317.0" y="171.3" width="5.9" height="6.0" fill="#f17323"/>
<rect x="322.5" y="171.3" width="5.9" height="6.0" fill="#f27b24"/>
<rect x="328.0" y="171.3" width="5.9" height="6.0" fill="#f38527"/>
<rect x="333.5" y="171.3" width="5.9" height="6.0" fill="#f48e2a"/>
<rect x="339.0" y="171.3" width="5.9" height="6.0" fill="#f5982d"/>
<rect x="344.5" y="171.3" width="5.9" height="6.0" fill="#f6a230"/>
<rect x="350.0" y="171.3" width="5.9" height="6.0" fill="#f6a330"/>
<rect x="355.5" y="171.3" width="5.9" height="6.0" fill="#f6a330"/>
<rect x="361.0" y="171.3" width="5.9" height="6.0" fill="#f6a330"/>
<rect x="366.5" y="171.3" width="5.9" height="6.0" fill="#f6a330"/>
<rect x="372.0" y="171.3" width="5.9" height="6.0" fill="#f6a330"/>
<rect x="377.5" y="171.3" width="5.9" height="6.0" fill="#f6a330"/>
<rect x="383.0" y="171.3" width="5.9" height="6.0" fill="#f6a330"/>
<rect x="388.5" y="171.3" width="5.9" height="6.0" fill="#f6a330"/>
<rect x="394.0" y="171.3" width="5.9" height="6.0" fill="#f6a330"/>
<rect x="218.0" y="176.9" width="5.9" height="6.0" fill="#f7a631"/>
<rect x="223.5" y="176.9" width="5.9" height="6.0" fill="#f7a631"/>
<rect x="229.0" y="176.9" width="5.9" height="6.0" fill="#f7a631"/>
<rect x="234.5" y="176.9" width="5.9" height="6.0" fill="#f7a631"/>
<rect x="240.0" y="176.9" width="5.9" height="6.0" fill="#f7a631"/>
<rect x="245.5" y="176.9" width="5.9" height="6.0" fill="#f69e2f"/>
<rect x="251.0" y="176.9" width="5.9" height="6.0" fill="#f5942c"/>
<rect x="256.5" y="176.9" width="5.9" height="6.0" fill="#f48b29"/>
<rect x="262.0" y="176.9" width="5.9" height="6.0" fill="#f38226"/>
<rect x="267.5" y="176.9" width="5.9" height="6.0" fill="#f38226"/>
<rect x="273.0" y="176.9" width="5.9" height="6.0" fill="#f38226"/>
<rect x="278.5" y="176.9" width="5.9" height="6.0" fill="#f38226"/>
<rect x="284.0" y="176.9" width="5.9" height="6.0" fill="#f38226"/>
<rect x="289.5" y="176.9" width="5.9" height="6.0" fill="#f38226"/>
<rect x="295.0" y="176.9" width="5.9" height="6.0" fill="#f38226"/>
<rect x="300.5" y="176.9" width="5.9" height="6.0" fill="#f38226"/>
<rect x="306.0" y="176.9" width="5.9" height="6.0" fill="#f38226"/>
<rect x="311.5" y="176.9" width="5.9" height="6.0" fill="#f38226"/>
<rect x="317.0" y="176.9" width="5.9" height="6.0" fill="#f38226"/>
<rect x="322.5" y="176.9" width="5.9" height="6.0" fill="#f38727"/>
<rect x="328.0" y="176.9" width="5.9" height="6.0" fill="#f4902a"/>
<rect x="333.5" y="176.9" width="5.9" height="6.0" fill="#f5982d"/>
<rect x="339.0" y="176.9" width="5.9" height="6.0" fill="#f6a12f"/>
<rect x="344.5" y="176.9" width="5.9" height="6.0" fill="#f7aa32"/>
<rect x="350.0" y="176.9" width="5.9" height="6.0" fill="#f7ab32"/>
<rect x="355.5" y="176.9" width="5.9" height="6.0" fill="#f7ab32"/>
<rect x="361.0" y="176.9" width="5.9" height="6.0" fill="#f7ab32"/>
<rect x="366.5" y="176.9" width="5.9" height="6.0" fill="#f7ab32"/>
<rect x="372.0" y="176.9" width="5.9" height="6.0" fill="#f7ab32"/>
<rect x="377.5" y="176.9" width="5.9" height="6.0" fill="#f7ab32"/>
<rect x="383.0" y="176.9" width="5.9" height="6.0" fill="#f7ab32"/>
<rect x="388.5" y="176.9" width="5.9" height="6.0" fill="#f7ab32"/>
<rect x="394.0" y="176.9" width="5.9" height="6.0" fill="#f7ab32"/>
<rect x="218.0" y="182.5" width="5.9" height="6.0" fill="#f8af34"/>
<rect x="223.5" y="182.5" width="5.9" height="6.0" fill="#f8af34"/>
<rect x="229.0" y="182.5" width="5.9" height="6.0" fill="#f8af34"/>
<rect x="234.5" y="182.5" width="5.9" height="6.0" fill="#f8af34"/>
<rect x="240.0" y="182.5" width="5.9" height="6.0" fill="#f8af34"/>
<rect x="245.5" y="182.5" width="5.9" height="6.0" fill="#f7a832"/>
<rect x="251.0" y="182.5" width="5.9" height="6.0" fill="#f69f2f"/>
<rect x="256.5" y="182.5" width="5.9" height="6.0" fill="#f5972c"/>
<rect x="262.0" y="182.5" width="5.9" height="6.0" fill="#f48f2a"/>
<rect x="267.5" y="182.5" width="5.9" height="6.0" fill="#f48f2a"/>
<rect x="273.0" y="182.5" width="5.9" height="6.0" fill="#f48f2a"/>
<rect x="278.5" y="182.5" width="5.9" height="6.0" fill="#f48f2a"/>
<rect x="284.0" y="182.5" width="5.9" height="6.0" fill="#f48f2a"/>
<rect x="289.5" y="182.5" width="5.9" height="6.0" fill="#f48f2a"/>
<rect x="295.0" y="182.5" width="5.9" height="6.0" fill="#f48f2a"/>
<rect x="300.5" y="182.5" width="5.9" height="6.0" fill="#f48f2a"/>
<rect x="306.0" y="182.5" width="5.9" height="6.0" fill="#f48f2a"/>
<rect x="311.5" y="182.5" width="5.9" height="6.0" fill="#f48f2a"/>
<rect x="317.0" y="182.5" width="5.9" height="6.0" fill="#f48f2a"/>
<rect x="322.5" y="182.5" width="5.9" height="6.0" fill="#f5942b"/>
<rect x="328.0" y="182.5" width="5.9" height="6.0" fill="#f69b2e"/>
<rect x="333.5" y="182.5" width="5.9" height="6.0" fill="#f6a330"/>
<rect x="339.0" y="182.5" width="5.9" height="6.0" fill="#f7aa32"/>
<rect x="344.5" y="182.5" width="5.9" height="6.0" fill="#f8b134"/>
<rect x="350.0" y="182.5" width="5.9" height="6.0" fill="#f8b235"/>
<rect x="355.5" y="182.5" width="5.9" height="6.0" fill="#f8b235"/>
<rect x="361.0" y="182.5" width="5.9" height="6.0" fill="#f8b235"/>
<rect x="366.5" y="182.5" width="5.9" height="6.0" fill="#f8b235"/>
<rect x="372.0" y="182.5" width="5.9" height="6.0" fill="#f8b235"/>
<rect x="377.5" y="182.5" width="5.9" height="6.0" fill="#f8b235"/>
<rect x="383.0" y="182.5" width="5.9" height="6.0" fill="#f8b235"/>
<rect x="388.5" y="182.5" width="5.9" height="6.0" fill="#f8b235"/>
<rect x="394.0" y="182.5" width="5.9" height="6.0" fill="#f8b235"/>
<rect x="218.0" y="188.1" width="5.9" height="6.0" fill="#f8bb37"/>
<rect x="223.5" y="188.1" width="5.9" height="6.0" fill="#f8bb37"/>
<rect x="229.0" y="188.1" width="5.9" height="6.0" fill="#f8bb37"/>
<rect x="234.5" y="188.1" width="5.9" height="6.0" fill="#f8bb37"/>
<rect x="240.0" y="188.1" width="5.9" height="6.0" fill="#f8bb37"/>
<rect x="245.5" y="188.1" width="5.9" height="6.0" fill="#f8b536"/>
<rect x="251.0" y="188.1" width="5.9" height="6.0" fill="#f8ae33"/>
<rect x="256.5" y="188.1" width="5.9" height="6.0" fill="#f7a631"/>
<rect x="262.0" y="188.1" width="5.9" height="6.0" fill="#f69f2f"/>
<rect x="267.5" y="188.1" width="5.9" height="6.0" fill="#f69f2f"/>
<rect x="273.0" y="188.1" width="5.9" height="6.0" fill="#f69f2f"/>
<rect x="278.5" y="188.1" width="5.9" height="6.0" fill="#f69f2f"/>
<rect x="284.0" y="188.1" width="5.9" height="6.0" fill="#f69f2f"/>
<rect x="289.5" y="188.1" width="5.9" height="6.0" fill="#f69f2f"/>
<rect x="295.0" y="188.1" width="5.9" height="6.0" fill="#f69f2f"/>
<rect x="300.5" y="188.1" width="5.9" height="6.0" fill="#f69f2f"/>
<rect x="306.0" y="188.1" width="5.9" height="6.0" fill="#f48f2a"/>
<rect x="311.5" y="188.1" width="5.9" height="6.0" fill="#f69f2f"/>
<rect x="317.0" y="188.1" width="5.9" height="6.0" fill="#f69f2f"/>
<rect x="322.5" y="188.1" width="5.9" height="6.0" fill="#f6a330"/>
<rect x="328.0" y="188.1" width="5.9" height="6.0" fill="#f7aa32"/>
<rect x="333.5" y="188.1" width="5.9" height="6.0" fill="#f8b034"/>
<rect x="339.0" y="188.1" width="5.9" height="6.0" fill="#f8b736"/>
<rect x="344.5" y="188.1" width="5.9" height="6.0" fill="#f8bd38"/>
<rect x="350.0" y="188.1" width="5.9" height="6.0" fill="#f8be38"/>
<rect x="355.5" y="188.1" width="5.9" height="6.0" fill="#f8be38"/>
<rect x="361.0" y="188.1" width="5.9" height="6.0" fill="#f8be38"/>
<rect x="366.5" y="188.1" width="5.9" height="6.0" fill="#f8be38"/>
<rect x="372.0" y="188.1" width="5.9" height="6.0" fill="#f8be38"/>
<rect x="377.5" y="188.1" width="5.9" height="6.0" fill="#f8be38"/>
<rect x="383.0" y="188.1" width="5.9" height="6.0" fill="#f8be38"/>
<rect x="388.5" y="188.1" width="5.9" height="6.0" fill="#f8be38"/>
<rect x="394.0" y="188.1" width="5.9" height="6.0" fill="#f8be38"/>
<rect x="218.0" y="193.7" width="5.9" height="6.0" fill="#f8c93b"/>
<rect x="223.5" y="193.7" width="5.9" height="6.0" fill="#f8c93b"/>
<rect x="229.0" y="193.7" width="5.9" height="6.0" fill="#f8c93b"/>
<rect x="234.5" y="193.7" width="5.9" height="6.0" fill="#f8c93b"/>
<rect x="240.0" y="193.7" width="5.9" height="6.0" fill="#f8c93b"/>
<rect x="245.5" y="193.7" width="5.9" height="6.0" fill="#f8c43a"/>
<rect x="251.0" y="193.7" width="5.9" height="6.0" fill="#f8bc38"/>
<rect x="256.5" y="193.7" width="5.9" height="6.0" fill="#f8b536"/>
<rect x="262.0" y="193.7" width="5.9" height="6.0" fill="#f8af34"/>
<rect x="267.5" y="193.7" width="5.9" height="6.0" fill="#f8af34"/>
<rect x="273.0" y="193.7" width="5.9" height="6.0" fill="#f8af34"/>
<rect x="278.5" y="193.7" width="5.9" height="6.0" fill="#f8af34"/>
<rect x="284.0" y="193.7" width="5.9" height="6.0" fill="#f8af34"/>
<rect x="289.5" y="193.7" width="5.9" height="6.0" fill="#f8af34"/>
<rect x="295.0" y="193.7" width="5.9" height="6.0" fill="#f8af34"/>
<rect x="300.5" y="193.7" width="5.9" height="6.0" fill="#f48b29"/>
<rect x="306.0" y="193.7" width="5.9" height="6.0" fill="#ef4621"/>
<rect x="311.5" y="193.7" width="5.9" height="6.0" fill="#f38627"/>
<rect x="317.0" y="193.7" width="5.9" height="6.0" fill="#f8af34"/>
<rect x="322.5" y="193.7" width="5.9" height="6.0" fill="#f8b335"/>
<rect x="328.0" y="193.7" width="5.9" height="6.0" fill="#f8b836"/>
<rect x="333.5" y="193.7" width="5.9" height="6.0" fill="#f8be38"/>
<rect x="339.0" y="193.7" width="5.9" height="6.0" fill="#f8c43a"/>
<rect x="344.5" y="193.7" width="5.9" height="6.0" fill="#f8ca3b"/>
<rect x="350.0" y="193.7" width="5.9" height="6.0" fill="#f8ca3c"/>
<rect x="355.5" y="193.7" width="5.9" height="6.0" fill="#f8ca3c"/>
<rect x="361.0" y="193.7" width="5.9" height="6.0" fill="#f8ca3c"/>
<rect x="366.5" y="193.7" width="5.9" height="6.0" fill="#f8ca3c"/>
<rect x="372.0" y="193.7" width="5.9" height="6.0" fill="#f8ca3c"/>
<rect x="377.5" y="193.7" width="5.9" height="6.0" fill="#f8ca3c"/>
<rect x="383.0" y="193.7" width="5.9" height="6.0" fill="#f8ca3c"/>
<rect x="388.5" y="193.7" width="5.9" height="6.0" fill="#f8ca3c"/>
<rect x="394.0" y="193.7" width="5.9" height="6.0" fill="#f8ca3c"/>
<rect x="218.0" y="199.3" width="5.9" height="6.0" fill="#f8e042"/>
<rect x="223.5" y="199.3" width="5.9" height="6.0" fill="#f8e042"/>
<rect x="229.0" y="199.3" width="5.9" height="6.0" fill="#f8e042"/>
<rect x="234.5" y="199.3" width="5.9" height="6.0" fill="#f8e042"/>
<rect x="240.0" y="199.3" width="5.9" height="6.0" fill="#f8e042"/>
<rect x="245.5" y="199.3" width="5.9" height="6.0" fill="#f8da40"/>
<rect x="251.0" y="199.3" width="5.9" height="6.0" fill="#f8d13d"/>
<rect x="256.5" y="199.3" width="5.9" height="6.0" fill="#f8c83b"/>
<rect x="262.0" y="199.3" width="5.9" height="6.0" fill="#f8c139"/>
<rect x="267.5" y="199.3" width="5.9" height="6.0" fill="#f8c139"/>
<rect x="273.0" y="199.3" width="5.9" height="6.0" fill="#f8c139"/>
<rect x="278.5" y="199.3" width="5.9" height="6.0" fill="#f8c139"/>
<rect x="284.0" y="199.3" width="5.9" height="6.0" fill="#f8c139"/>
<rect x="289.5" y="199.3" width="5.9" height="6.0" fill="#f8ac33"/>
<rect x="295.0" y="199.3" width="5.9" height="6.0" fill="#f16b23"/>
<rect x="300.5" y="199.3" width="5.9" height="6.0" fill="#e93020"/>
<rect x="306.0" y="199.3" width="5.9" height="6.0" fill="#e42820"/>
<rect x="311.5" y="199.3" width="5.9" height="6.0" fill="#ee3c20"/>
<rect x="317.0" y="199.3" width="5.9" height="6.0" fill="#f38727"/>
<rect x="322.5" y="199.3" width="5.9" height="6.0" fill="#f8c339"/>
<rect x="328.0" y="199.3" width="5.9" height="6.0" fill="#f8c83b"/>
<rect x="333.5" y="199.3" width="5.9" height="6.0" fill="#f8cd3c"/>
<rect x="339.0" y="199.3" width="5.9" height="6.0" fill="#f8d13e"/>
<rect x="344.5" y="199.3" width="5.9" height="6.0" fill="#f8d63f"/>
<rect x="350.0" y="199.3" width="5.9" height="6.0" fill="#f8d73f"/>
<rect x="355.5" y="199.3" width="5.9" height="6.0" fill="#f8d73f"/>
<rect x="361.0" y="199.3" width="5.9" height="6.0" fill="#f8d73f"/>
<rect x="366.5" y="199.3" width="5.9" height="6.0" fill="#f8d73f"/>
<rect x="372.0" y="199.3" width="5.9" height="6.0" fill="#f8d73f"/>
<rect x="377.5" y="199.3" width="5.9" height="6.0" fill="#f8d73f"/>
<rect x="383.0" y="199.3" width="5.9" height="6.0" fill="#f8d73f"/>
<rect x="388.5" y="199.3" width="5.9" height="6.0" fill="#f8d73f"/>
<rect x="394.0" y="199.3" width="5.9" height="6.0" fill="#f8d73f"/>
<rect x="218.0" y="204.9" width="5.9" height="6.0" fill="#edea4d"/>
<rect x="223.5" y="204.9" width="5.9" height="6.0" fill="#edea4d"/>
<rect x="229.0" y="204.9" width="5.9" height="6.0" fill="#edea4d"/>
<rect x="234.5" y="204.9" width="5.9" height="6.0" fill="#edea4d"/>
<rect x="240.0" y="204.9" width="5.9" height="6.0" fill="#edea4d"/>
<rect x="245.5" y="204.9" width="5.9" height="6.0" fill="#f4e947"/>
<rect x="251.0" y="204.9" width="5.9" height="6.0" fill="#f8e343"/>
<rect x="256.5" y="204.9" width="5.9" height="6.0" fill="#f8da40"/>
<rect x="262.0" y="204.9" width="5.9" height="6.0" fill="#f8d33e"/>
<rect x="267.5" y="204.9" width="5.9" height="6.0" fill="#f8d33e"/>
<rect x="273.0" y="204.9" width="5.9" height="6.0" fill="#f8d33e"/>
<rect x="278.5" y="204.9" width="5.9" height="6.0" fill="#f8d33e"/>
<rect x="284.0" y="204.9" width="5.9" height="6.0" fill="#f8ad33"/>
<rect x="289.5" y="204.9" width="5.9" height="6.0" fill="#f16d23"/>
<rect x="295.0" y="204.9" width="5.9" height="6.0" fill="#eb3420"/>
<rect x="300.5" y="204.9" width="5.9" height="6.0" fill="#e52920"/>
<rect x="306.0" y="204.9" width="5.9" height="6.0" fill="#e52920"/>
<rect x="311.5" y="204.9" width="5.9" height="6.0" fill="#eb3420"/>
<rect x="317.0" y="204.9" width="5.9" height="6.0" fill="#f16c23"/>
<rect x="322.5" y="204.9" width="5.9" height="6.0" fill="#f8ac33"/>
<rect x="328.0" y="204.9" width="5.9" height="6.0" fill="#f8d940"/>
<rect x="333.5" y="204.9" width="5.9" height="6.0" fill="#f8dc41"/>
<rect x="339.0" y="204.9" width="5.9" height="6.0" fill="#f8df41"/>
<rect x="344.5" y="204.9" width="5.9" height="6.0" fill="#f8e242"/>
<rect x="350.0" y="204.9" width="5.9" height="6.0" fill="#f8e343"/>
<rect x="355.5" y="204.9" width="5.9" height="6.0" fill="#f8e343"/>
<rect x="361.0" y="204.9" width="5.9" height="6.0" fill="#f8e343"/>
<rect x="366.5" y="204.9" width="5.9" height="6.0" fill="#f8e343"/>
<rect x="372.0" y="204.9" width="5.9" height="6.0" fill="#f8e343"/>
<rect x="377.5" y="204.9" width="5.9" height="6.0" fill="#f8e343"/>
<rect x="383.0" y="204.9" width="5.9" height="6.0" fill="#f8e343"/>
<rect x="388.5" y="204.9" width="5.9" height="6.0" fill="#f8e343"/>
<rect x="394.0" y="204.9" width="5.9" height="6.0" fill="#f8e343"/>
<rect x="218.0" y="210.5" width="5.9" height="6.0" fill="#dcee5a"/>
<rect x="223.5" y="210.5" width="5.9" height="6.0" fill="#dcee5a"/>
<rect x="229.0" y="210.5" width="5.9" height="6.0" fill="#dcee5a"/>
<rect x="234.5" y="210.5" width="5.9" height="6.0" fill="#dcee5a"/>
<rect x="240.0" y="210.5" width="5.9" height="6.0" fill="#dcee5a"/>
<rect x="245.5" y="210.5" width="5.9" height="6.0" fill="#e6ec52"/>
<rect x="251.0" y="210.5" width="5.9" height="6.0" fill="#f4e947"/>
<rect x="256.5" y="210.5" width="5.9" height="6.0" fill="#f8df42"/>
<rect x="262.0" y="210.5" width="5.9" height="6.0" fill="#f8d53f"/>
<rect x="267.5" y="210.5" width="5.9" height="6.0" fill="#f8d53f"/>
<rect x="273.0" y="210.5" width="5.9" height="6.0" fill="#f8d53f"/>
<rect x="278.5" y="210.5" width="5.9" height="6.0" fill="#f8b034"/>
<rect x="284.0" y="210.5" width="5.9" height="6.0" fill="#f17023"/>
<rect x="289.5" y="210.5" width="5.9" height="6.0" fill="#ec3620"/>
<rect x="295.0" y="210.5" width="5.9" height="6.0" fill="#e62c20"/>
<rect x="300.5" y="210.5" width="5.9" height="6.0" fill="#e42820"/>
<rect x="306.0" y="210.5" width="5.9" height="6.0" fill="#e52a20"/>
<rect x="311.5" y="210.5" width="5.9" height="6.0" fill="#e93120"/>
<rect x="317.0" y="210.5" width="5.9" height="6.0" fill="#ef5121"/>
<rect x="322.5" y="210.5" width="5.9" height="6.0" fill="#f5972c"/>
<rect x="328.0" y="210.5" width="5.9" height="6.0" fill="#f8d23e"/>
<rect x="333.5" y="210.5" width="5.9" height="6.0" fill="#f8e343"/>
<rect x="339.0" y="210.5" width="5.9" height="6.0" fill="#f7e845"/>
<rect x="344.5" y="210.5" width="5.9" height="6.0" fill="#f1ea4a"/>
<rect x="350.0" y="210.5" width="5.9" height="6.0" fill="#f0ea4b"/>
<rect x="355.5" y="210.5" width="5.9" height="6.0" fill="#f0ea4b"/>
<rect x="361.0" y="210.5" width="5.9" height="6.0" fill="#f0ea4b"/>
<rect x="366.5" y="210.5" width="5.9" height="6.0" fill="#f0ea4b"/>
<rect x="372.0" y="210.5" width="5.9" height="6.0" fill="#f0ea4b"/>
<rect x="377.5" y="210.5" width="5.9" height="6.0" fill="#f0ea4b"/>
<rect x="383.0" y="210.5" width="5.9" height="6.0" fill="#f0ea4b"/>
<rect x="388.5" y="210.5" width="5.9" height="6.0" fill="#f0ea4b"/>
<rect x="394.0" y="210.5" width="5.9" height="6.0" fill="#f0ea4b"/>
<rect x="218.0" y="216.1" width="5.9" height="6.0" fill="#baef72"/>
<rect x="223.5" y="216.1" width="5.9" height="6.0" fill="#baef72"/>
<rect x="229.0" y="216.1" width="5.9" height="6.0" fill="#baef72"/>
<rect x="234.5" y="216.1" width="5.9" height="6.0" fill="#baef72"/>
<rect x="240.0" y="216.1" width="5.9" height="6.0" fill="#baef72"/>
<rect x="245.5" y="216.1" width="5.9" height="6.0" fill="#d2f062"/>
<rect x="251.0" y="216.1" width="5.9" height="6.0" fill="#e6ec52"/>
<rect x="256.5" y="216.1" width="5.9" height="6.0" fill="#f8e643"/>
<rect x="262.0" y="216.1" width="5.9" height="6.0" fill="#f8d63f"/>
<rect x="267.5" y="216.1" width="5.9" height="6.0" fill="#f8d63f"/>
<rect x="273.0" y="216.1" width="5.9" height="6.0" fill="#f8c43a"/>
<rect x="278.5" y="216.1" width="5.9" height="6.0" fill="#f38828"/>
<rect x="284.0" y="216.1" width="5.9" height="6.0" fill="#ee3e20"/>
<rect x="289.5" y="216.1" width="5.9" height="6.0" fill="#e93020"/>
<rect x="295.0" y="216.1" width="5.9" height="6.0" fill="#e52920"/>
<rect x="300.5" y="216.1" width="5.9" height="6.0" fill="#e42720"/>
<rect x="306.0" y="216.1" width="5.9" height="6.0" fill="#e62b20"/>
<rect x="311.5" y="216.1" width="5.9" height="6.0" fill="#eb3420"/>
<rect x="317.0" y="216.1" width="5.9" height="6.0" fill="#f05c22"/>
<rect x="322.5" y="216.1" width="5.9" height="6.0" fill="#f6a02f"/>
<rect x="328.0" y="216.1" width="5.9" height="6.0" fill="#f8da40"/>
<rect x="333.5" y="216.1" width="5.9" height="6.0" fill="#f5e946"/>
<rect x="339.0" y="216.1" width="5.9" height="6.0" fill="#eceb4e"/>
<rect x="344.5" y="216.1" width="5.9" height="6.0" fill="#e3ec55"/>
<rect x="350.0" y="216.1" width="5.9" height="6.0" fill="#e1ed56"/>
<rect x="355.5" y="216.1" width="5.9" height="6.0" fill="#e1ed56"/>
<rect x="361.0" y="216.1" width="5.9" height="6.0" fill="#e1ed56"/>
<rect x="366.5" y="216.1" width="5.9" height="6.0" fill="#e1ed56"/>
<rect x="372.0" y="216.1" width="5.9" height="6.0" fill="#e1ed56"/>
<rect x="377.5" y="216.1" width="5.9" height="6.0" fill="#e1ed56"/>
<rect x="383.0" y="216.1" width="5.9" height="6.0" fill="#e1ed56"/>
<rect x="388.5" y="216.1" width="5.9" height="6.0" fill="#e1ed56"/>
<rect x="394.0" y="216.1" width="5.9" height="6.0" fill="#e1ed56"/>
<rect x="218.0" y="221.7" width="5.9" height="6.0" fill="#95ee8b"/>
<rect x="223.5" y="221.7" width="5.9" height="6.0" fill="#95ee8b"/>
<rect x="229.0" y="221.7" width="5.9" height="6.0" fill="#95ee8b"/>
<rect x="234.5" y="221.7" width="5.9" height="6.0" fill="#95ee8b"/>
<rect x="240.0" y="221.7" width="5.9" height="6.0" fill="#95ee8b"/>
<rect x="245.5" y="221.7" width="5.9" height="6.0" fill="#b5ef75"/>
<rect x="251.0" y="221.7" width="5.9" height="6.0" fill="#d9ee5c"/>
<rect x="256.5" y="221.7" width="5.9" height="6.0" fill="#f4e947"/>
<rect x="262.0" y="221.7" width="5.9" height="6.0" fill="#f8d73f"/>
<rect x="267.5" y="221.7" width="5.9" height="6.0" fill="#f8d73f"/>
<rect x="273.0" y="221.7" width="5.9" height="6.0" fill="#f69d2e"/>
<rect x="278.5" y="221.7" width="5.9" height="6.0" fill="#f05922"/>
<rect x="284.0" y="221.7" width="5.9" height="6.0" fill="#eb3420"/>
<rect x="289.5" y="221.7" width="5.9" height="6.0" fill="#e62c20"/>
<rect x="295.0" y="221.7" width="5.9" height="6.0" fill="#e22320"/>
<rect x="300.5" y="221.7" width="5.9" height="6.0" fill="#e02020"/>
<rect x="306.0" y="221.7" width="5.9" height="6.0" fill="#e42720"/>
<rect x="311.5" y="221.7" width="5.9" height="6.0" fill="#ec3620"/>
<rect x="317.0" y="221.7" width="5.9" height="6.0" fill="#f16723"/>
<rect x="322.5" y="221.7" width="5.9" height="6.0" fill="#f7a932"/>
<rect x="328.0" y="221.7" width="5.9" height="6.0" fill="#f8e343"/>
<rect x="333.5" y="221.7" width="5.9" height="6.0" fill="#eeea4c"/>
<rect x="339.0" y="221.7" width="5.9" height="6.0" fill="#e3ec54"/>
<rect x="344.5" y="221.7" width="5.9" height="6.0" fill="#d8ef5d"/>
<rect x="350.0" y="221.7" width="5.9" height="6.0" fill="#d6ef5e"/>
<rect x="355.5" y="221.7" width="5.9" height="6.0" fill="#d6ef5e"/>
<rect x="361.0" y="221.7" width="5.9" height="6.0" fill="#d6ef5e"/>
<rect x="366.5" y="221.7" width="5.9" height="6.0" fill="#d6ef5e"/>
<rect x="372.0" y="221.7" width="5.9" height="6.0" fill="#d6ef5e"/>
<rect x="377.5" y="221.7" width="5.9" height="6.0" fill="#d6ef5e"/>
<rect x="383.0" y="221.7" width="5.9" height="6.0" fill="#d6ef5e"/>
<rect x="388.5" y="221.7" width="5.9" height="6.0" fill="#d6ef5e"/>
<rect x="394.0" y="221.7" width="5.9" height="6.0" fill="#d6ef5e"/>
<rect x="218.0" y="227.3" width="5.9" height="6.0" fill="#77e9af"/>
<rect x="223.5" y="227.3" width="5.9" height="6.0" fill="#77e9af"/>
<rect x="229.0" y="227.3" width="5.9" height="6.0" fill="#77e9af"/>
<rect x="234.5" y="227.3" width="5.9" height="6.0" fill="#77e9af"/>
<rect x="240.0" y="227.3" width="5.9" height="6.0" fill="#77e9af"/>
<rect x="245.5" y="227.3" width="5.9" height="6.0" fill="#9bee86"/>
<rect x="251.0" y="227.3" width="5.9" height="6.0" fill="#ccf066"/>
<rect x="256.5" y="227.3" width="5.9" height="6.0" fill="#eeea4c"/>
<rect x="262.0" y="227.3" width="5.9" height="6.0" fill="#f8d840"/>
<rect x="267.5" y="227.3" width="5.9" height="6.0" fill="#f8b435"/>
<rect x="273.0" y="227.3" width="5.9" height="6.0" fill="#f27624"/>
<rect x="278.5" y="227.3" width="5.9" height="6.0" fill="#ed3820"/>
<rect x="284.0" y="227.3" width="5.9" height="6.0" fill="#e82f20"/>
<rect x="289.5" y="227.3" width="5.9" height="6.0" fill="#e52920"/>
<rect x="295.0" y="227.3" width="5.9" height="6.0" fill="#e12220"/>
<rect x="300.5" y="227.3" width="5.9" height="6.0" fill="#db1f1f"/>
<rect x="306.0" y="227.3" width="5.9" height="6.0" fill="#e32620"/>
<rect x="311.5" y="227.3" width="5.9" height="6.0" fill="#ee3a20"/>
<rect x="317.0" y="227.3" width="5.9" height="6.0" fill="#f27e25"/>
<rect x="322.5" y="227.3" width="5.9" height="6.0" fill="#f8bb37"/>
<rect x="328.0" y="227.3" width="5.9" height="6.0" fill="#f6e845"/>
<rect x="333.5" y="227.3" width="5.9" height="6.0" fill="#eaeb4f"/>
<rect x="339.0" y="227.3" width="5.9" height="6.0" fill="#ddee59"/>
<rect x="344.5" y="227.3" width="5.9" height="6.0" fill="#d1f063"/>
<rect x="350.0" y="227.3" width="5.9" height="6.0" fill="#cef065"/>
<rect x="355.5" y="227.3" width="5.9" height="6.0" fill="#cef065"/>
<rect x="361.0" y="227.3" width="5.9" height="6.0" fill="#cef065"/>
<rect x="366.5" y="227.3" width="5.9" height="6.0" fill="#cef065"/>
<rect x="372.0" y="227.3" width="5.9" height="6.0" fill="#cef065"/>
<rect x="377.5" y="227.3" width="5.9" height="6.0" fill="#cef065"/>
<rect x="383.0" y="227.3" width="5.9" height="6.0" fill="#cef065"/>
<rect x="388.5" y="227.3" width="5.9" height="6.0" fill="#cef065"/>
<rect x="394.0" y="227.3" width="5.9" height="6.0" fill="#cef065"/>
<rect x="218.0" y="232.9" width="5.9" height="6.0" fill="#75e9b2"/>
<rect x="223.5" y="232.9" width="5.9" height="6.0" fill="#75e9b2"/>
<rect x="229.0" y="232.9" width="5.9" height="6.0" fill="#75e9b2"/>
<rect x="234.5" y="232.9" width="5.9" height="6.0" fill="#75e9b2"/>
<rect x="240.0" y="232.9" width="5.9" height="6.0" fill="#75e9b2"/>
<rect x="245.5" y="232.9" width="5.9" height="6.0" fill="#99ee88"/>
<rect x="251.0" y="232.9" width="5.9" height="6.0" fill="#caf067"/>
<rect x="256.5" y="232.9" width="5.9" height="6.0" fill="#edea4d"/>
<rect x="262.0" y="232.9" width="5.9" height="6.0" fill="#f8cd3c"/>
<rect x="267.5" y="232.9" width="5.9" height="6.0" fill="#f4912a"/>
<rect x="273.0" y="232.9" width="5.9" height="6.0" fill="#ef4921"/>
<rect x="278.5" y="232.9" width="5.9" height="6.0" fill="#ea3320"/>
<rect x="284.0" y="232.9" width="5.9" height="6.0" fill="#e62b20"/>
<rect x="289.5" y="232.9" width="5.9" height="6.0" fill="#e42820"/>
<rect x="295.0" y="232.9" width="5.9" height="6.0" fill="#e42720"/>
<rect x="300.5" y="232.9" width="5.9" height="6.0" fill="#e32520"/>
<rect x="306.0" y="232.9" width="5.9" height="6.0" fill="#eb3420"/>
<rect x="311.5" y="232.9" width="5.9" height="6.0" fill="#f05322"/>
<rect x="317.0" y="232.9" width="5.9" height="6.0" fill="#f5992d"/>
<rect x="322.5" y="232.9" width="5.9" height="6.0" fill="#f8d43e"/>
<rect x="328.0" y="232.9" width="5.9" height="6.0" fill="#f3e948"/>
<rect x="333.5" y="232.9" width="5.9" height="6.0" fill="#e5ec53"/>
<rect x="339.0" y="232.9" width="5.9" height="6.0" fill="#d8ef5d"/>
<rect x="344.5" y="232.9" width="5.9" height="6.0" fill="#c6f06a"/>
<rect x="350.0" y="232.9" width="5.9" height="6.0" fill="#c3ef6c"/>
<rect x="355.5" y="232.9" width="5.9" height="6.0" fill="#c3ef6c"/>
<rect x="361.0" y="232.9" width="5.9" height="6.0" fill="#c3ef6c"/>
<rect x="366.5" y="232.9" width="5.9" height="6.0" fill="#c3ef6c"/>
<rect x="372.0" y="232.9" width="5.9" height="6.0" fill="#c3ef6c"/>
<rect x="377.5" y="232.9" width="5.9" height="6.0" fill="#c3ef6c"/>
<rect x="383.0" y="232.9" width="5.9" height="6.0" fill="#c3ef6c"/>
<rect x="388.5" y="232.9" width="5.9" height="6.0" fill="#c3ef6c"/>
<rect x="394.0" y="232.9" width="5.9" height="6.0" fill="#c3ef6c"/>
<rect x="218.0" y="238.5" width="5.9" height="6.0" fill="#72e9b5"/>
<rect x="223.5" y="238.5" width="5.9" height="6.0" fill="#72e9b5"/>
<rect x="229.0" y="238.5" width="5.9" height="6.0" fill="#72e9b5"/>
<rect x="234.5" y="238.5" width="5.9" height="6.0" fill="#72e9b5"/>
<rect x="240.0" y="238.5" width="5.9" height="6.0" fill="#72e9b5"/>
<rect x="245.5" y="238.5" width="5.9" height="6.0" fill="#96ee8a"/>
<rect x="251.0" y="238.5" width="5.9" height="6.0" fill="#c8f069"/>
<rect x="256.5" y="238.5" width="5.9" height="6.0" fill="#f8e643"/>
<rect x="262.0" y="238.5" width="5.9" height="6.0" fill="#f7ab33"/>
<rect x="267.5" y="238.5" width="5.9" height="6.0" fill="#f16b23"/>
<rect x="273.0" y="238.5" width="5.9" height="6.0" fill="#ec3720"/>
<rect x="278.5" y="238.5" width="5.9" height="6.0" fill="#e82e20"/>
<rect x="284.0" y="238.5" width="5.9" height="6.0" fill="#e52920"/>
<rect x="289.5" y="238.5" width="5.9" height="6.0" fill="#e42820"/>
<rect x="295.0" y="238.5" width="5.9" height="6.0" fill="#e52a20"/>
<rect x="300.5" y="238.5" width="5.9" height="6.0" fill="#e82f20"/>
<rect x="306.0" y="238.5" width="5.9" height="6.0" fill="#ed3820"/>
<rect x="311.5" y="238.5" width="5.9" height="6.0" fill="#f27624"/>
<rect x="317.0" y="238.5" width="5.9" height="6.0" fill="#f8b435"/>
<rect x="322.5" y="238.5" width="5.9" height="6.0" fill="#f8e242"/>
<rect x="328.0" y="238.5" width="5.9" height="6.0" fill="#f0ea4a"/>
<rect x="333.5" y="238.5" width="5.9" height="6.0" fill="#e1ed56"/>
<rect x="339.0" y="238.5" width="5.9" height="6.0" fill="#d2f062"/>
<rect x="344.5" y="238.5" width="5.9" height="6.0" fill="#bcef71"/>
<rect x="350.0" y="238.5" width="5.9" height="6.0" fill="#b9ef73"/>
<rect x="355.5" y="238.5" width="5.9" height="6.0" fill="#b9ef73"/>
<rect x="361.0" y="238.5" width="5.9" height="6.0" fill="#b9ef73"/>
<rect x="366.5" y="238.5" width="5.9" height="6.0" fill="#b9ef73"/>
<rect x="372.0" y="238.5" width="5.9" height="6.0" fill="#b9ef73"/>
<rect x="377.5" y="238.5" width="5.9" height="6.0" fill="#b9ef73"/>
<rect x="383.0" y="238.5" width="5.9" height="6.0" fill="#b9ef73"/>
<rect x="388.5" y="238.5" width="5.9" height="6.0" fill="#b9ef73"/>
<rect x="394.0" y="238.5" width="5.9" height="6.0" fill="#b9ef73"/>
<rect x="218.0" y="244.1" width="5.9" height="6.0" fill="#70e9b7"/>
<rect x="223.5" y="244.1" width="5.9" height="6.0" fill="#70e9b7"/>
<rect x="229.0" y="244.1" width="5.9" height="6.0" fill="#70e9b7"/>
<rect x="234.5" y="244.1" width="5.9" height="6.0" fill="#70e9b7"/>
<rect x="240.0" y="244.1" width="5.9" height="6.0" fill="#70e9b7"/>
<rect x="245.5" y="244.1" width="5.9" height="6.0" fill="#94ed8c"/>
<rect x="251.0" y="244.1" width="5.9" height="6.0" fill="#cff064"/>
<rect x="256.5" y="244.1" width="5.9" height="6.0" fill="#f8d03d"/>
<rect x="262.0" y="244.1" width="5.9" height="6.0" fill="#f5952c"/>
<rect x="267.5" y="244.1" width="5.9" height="6.0" fill="#ef4e21"/>
<rect x="273.0" y="244.1" width="5.9" height="6.0" fill="#ea3320"/>
<rect x="278.5" y="244.1" width="5.9" height="6.0" fill="#e62b20"/>
<rect x="284.0" y="244.1" width="5.9" height="6.0" fill="#e42820"/>
<rect x="289.5" y="244.1" width="5.9" height="6.0" fill="#e52820"/>
<rect x="295.0" y="244.1" width="5.9" height="6.0" fill="#e72d20"/>
<rect x="300.5" y="244.1" width="5.9" height="6.0" fill="#eb3520"/>
<rect x="306.0" y="244.1" width="5.9" height="6.0" fill="#f06122"/>
<rect x="311.5" y="244.1" width="5.9" height="6.0" fill="#f7a430"/>
<rect x="317.0" y="244.1" width="5.9" height="6.0" fill="#f8db40"/>
<rect x="322.5" y="244.1" width="5.9" height="6.0" fill="#f8e443"/>
<rect x="328.0" y="244.1" width="5.9" height="6.0" fill="#edea4d"/>
<rect x="333.5" y="244.1" width="5.9" height="6.0" fill="#ddee59"/>
<rect x="339.0" y="244.1" width="5.9" height="6.0" fill="#cbf067"/>
<rect x="344.5" y="244.1" width="5.9" height="6.0" fill="#b2ef77"/>
<rect x="350.0" y="244.1" width="5.9" height="6.0" fill="#afef79"/>
<rect x="355.5" y="244.1" width="5.9" height="6.0" fill="#afef79"/>
<rect x="361.0" y="244.1" width="5.9" height="6.0" fill="#afef79"/>
<rect x="366.5" y="244.1" width="5.9" height="6.0" fill="#afef79"/>
<rect x="372.0" y="244.1" width="5.9" height="6.0" fill="#afef79"/>
<rect x="377.5" y="244.1" width="5.9" height="6.0" fill="#afef79"/>
<rect x="383.0" y="244.1" width="5.9" height="6.0" fill="#afef79"/>
<rect x="388.5" y="244.1" width="5.9" height="6.0" fill="#afef79"/>
<rect x="394.0" y="244.1" width="5.9" height="6.0" fill="#afef79"/>
<rect x="218.0" y="249.7" width="5.9" height="6.0" fill="#6de8ba"/>
<rect x="223.5" y="249.7" width="5.9" height="6.0" fill="#6de8ba"/>
<rect x="229.0" y="249.7" width="5.9" height="6.0" fill="#6de8ba"/>
<rect x="234.5" y="249.7" width="5.9" height="6.0" fill="#6de8ba"/>
<rect x="240.0" y="249.7" width="5.9" height="6.0" fill="#6de8ba"/>
<rect x="245.5" y="249.7" width="5.9" height="6.0" fill="#92ed8f"/>
<rect x="251.0" y="249.7" width="5.9" height="6.0" fill="#e9eb50"/>
<rect x="256.5" y="249.7" width="5.9" height="6.0" fill="#f8bb37"/>
<rect x="262.0" y="249.7" width="5.9" height="6.0" fill="#f27f25"/>
<rect x="267.5" y="249.7" width="5.9" height="6.0" fill="#ee3a20"/>
<rect x="273.0" y="249.7" width="5.9" height="6.0" fill="#e82f20"/>
<rect x="278.5" y="249.7" width="5.9" height="6.0" fill="#e52920"/>
<rect x="284.0" y="249.7" width="5.9" height="6.0" fill="#e42820"/>
<rect x="289.5" y="249.7" width="5.9" height="6.0" fill="#e62b20"/>
<rect x="295.0" y="249.7" width="5.9" height="6.0" fill="#ea3220"/>
<rect x="300.5" y="249.7" width="5.9" height="6.0" fill="#ef4c21"/>
<rect x="306.0" y="249.7" width="5.9" height="6.0" fill="#f5932b"/>
<rect x="311.5" y="249.7" width="5.9" height="6.0" fill="#f8cf3d"/>
<rect x="317.0" y="249.7" width="5.9" height="6.0" fill="#f8dc41"/>
<rect x="322.5" y="249.7" width="5.9" height="6.0" fill="#f8e543"/>
<rect x="328.0" y="249.7" width="5.9" height="6.0" fill="#eaeb4f"/>
<rect x="333.5" y="249.7" width="5.9" height="6.0" fill="#d9ef5c"/>
<rect x="339.0" y="249.7" width="5.9" height="6.0" fill="#c3ef6c"/>
<rect x="344.5" y="249.7" width="5.9" height="6.0" fill="#a9ef7d"/>
<rect x="350.0" y="249.7" width="5.9" height="6.0" fill="#a5ee7f"/>
<rect x="355.5" y="249.7" width="5.9" height="6.0" fill="#a5ee7f"/>
<rect x="361.0" y="249.7" width="5.9" height="6.0" fill="#a5ee7f"/>
<rect x="366.5" y="249.7" width="5.9" height="6.0" fill="#a5ee7f"/>
<rect x="372.0" y="249.7" width="5.9" height="6.0" fill="#a5ee7f"/>
<rect x="377.5" y="249.7" width="5.9" height="6.0" fill="#a5ee7f"/>
<rect x="383.0" y="249.7" width="5.9" height="6.0" fill="#a5ee7f"/>
<rect x="388.5" y="249.7" width="5.9" height="6.0" fill="#a5ee7f"/>
<rect x="394.0" y="249.7" width="5.9" height="6.0" fill="#a5ee7f"/>
<rect x="218.0" y="255.3" width="5.9" height="6.0" fill="#83eba1"/>
<rect x="223.5" y="255.3" width="5.9" height="6.0" fill="#83eba1"/>
<rect x="229.0" y="255.3" width="5.9" height="6.0" fill="#83eba1"/>
<rect x="234.5" y="255.3" width="5.9" height="6.0" fill="#83eba1"/>
<rect x="240.0" y="255.3" width="5.9" height="6.0" fill="#83eba1"/>
<rect x="245.5" y="255.3" width="5.9" height="6.0" fill="#a3ee81"/>
<rect x="251.0" y="255.3" width="5.9" height="6.0" fill="#f3e948"/>
<rect x="256.5" y="255.3" width="5.9" height="6.0" fill="#f8b235"/>
<rect x="262.0" y="255.3" width="5.9" height="6.0" fill="#f17323"/>
<rect x="267.5" y="255.3" width="5.9" height="6.0" fill="#ec3720"/>
<rect x="273.0" y="255.3" width="5.9" height="6.0" fill="#e72d20"/>
<rect x="278.5" y="255.3" width="5.9" height="6.0" fill="#e42820"/>
<rect x="284.0" y="255.3" width="5.9" height="6.0" fill="#e52920"/>
<rect x="289.5" y="255.3" width="5.9" height="6.0" fill="#e82f20"/>
<rect x="295.0" y="255.3" width="5.9" height="6.0" fill="#ee3a20"/>
<rect x="300.5" y="255.3" width="5.9" height="6.0" fill="#f38326"/>
<rect x="306.0" y="255.3" width="5.9" height="6.0" fill="#f8bf38"/>
<rect x="311.5" y="255.3" width="5.9" height="6.0" fill="#f8dd41"/>
<rect x="317.0" y="255.3" width="5.9" height="6.0" fill="#f8dd41"/>
<rect x="322.5" y="255.3" width="5.9" height="6.0" fill="#f3e948"/>
<rect x="328.0" y="255.3" width="5.9" height="6.0" fill="#e1ed56"/>
<rect x="333.5" y="255.3" width="5.9" height="6.0" fill="#cdf065"/>
<rect x="339.0" y="255.3" width="5.9" height="6.0" fill="#b1ef78"/>
<rect x="344.5" y="255.3" width="5.9" height="6.0" fill="#9bee86"/>
<rect x="350.0" y="255.3" width="5.9" height="6.0" fill="#9bee86"/>
<rect x="355.5" y="255.3" width="5.9" height="6.0" fill="#9bee86"/>
<rect x="361.0" y="255.3" width="5.9" height="6.0" fill="#9bee86"/>
<rect x="366.5" y="255.3" width="5.9" height="6.0" fill="#9bee86"/>
<rect x="372.0" y="255.3" width="5.9" height="6.0" fill="#9bee86"/>
<rect x="377.5" y="255.3" width="5.9" height="6.0" fill="#9bee86"/>
<rect x="383.0" y="255.3" width="5.9" height="6.0" fill="#9bee86"/>
<rect x="388.5" y="255.3" width="5.9" height="6.0" fill="#9bee86"/>
<rect x="394.0" y="255.3" width="5.9" height="6.0" fill="#9bee86"/>
<rect x="218.0" y="260.9" width="5.9" height="6.0" fill="#b2ef77"/>
<rect x="223.5" y="260.9" width="5.9" height="6.0" fill="#b2ef77"/>
<rect x="229.0" y="260.9" width="5.9" height="6.0" fill="#b2ef77"/>
<rect x="234.5" y="260.9" width="5.9" height="6.0" fill="#b2ef77"/>
<rect x="240.0" y="260.9" width="5.9" height="6.0" fill="#b2ef77"/>
<rect x="245.5" y="260.9" width="5.9" height="6.0" fill="#c8f068"/>
<rect x="251.0" y="260.9" width="5.9" height="6.0" fill="#f3e948"/>
<rect x="256.5" y="260.9" width="5.9" height="6.0" fill="#f8b235"/>
<rect x="262.0" y="260.9" width="5.9" height="6.0" fill="#f17323"/>
<rect x="267.5" y="260.9" width="5.9" height="6.0" fill="#ec3620"/>
<rect x="273.0" y="260.9" width="5.9" height="6.0" fill="#e62b20"/>
<rect x="278.5" y="260.9" width="5.9" height="6.0" fill="#e42820"/>
<rect x="284.0" y="260.9" width="5.9" height="6.0" fill="#e62b20"/>
<rect x="289.5" y="260.9" width="5.9" height="6.0" fill="#ec3620"/>
<rect x="295.0" y="260.9" width="5.9" height="6.0" fill="#f16f23"/>
<rect x="300.5" y="260.9" width="5.9" height="6.0" fill="#f8af34"/>
<rect x="306.0" y="260.9" width="5.9" height="6.0" fill="#f8de41"/>
<rect x="311.5" y="260.9" width="5.9" height="6.0" fill="#f8de41"/>
<rect x="317.0" y="260.9" width="5.9" height="6.0" fill="#f8e844"/>
<rect x="322.5" y="260.9" width="5.9" height="6.0" fill="#e5ec53"/>
<rect x="328.0" y="260.9" width="5.9" height="6.0" fill="#d1f062"/>
<rect x="333.5" y="260.9" width="5.9" height="6.0" fill="#b4ef76"/>
<rect x="339.0" y="260.9" width="5.9" height="6.0" fill="#97ee89"/>
<rect x="344.5" y="260.9" width="5.9" height="6.0" fill="#93ed8e"/>
<rect x="350.0" y="260.9" width="5.9" height="6.0" fill="#93ed8e"/>
<rect x="355.5" y="260.9" width="5.9" height="6.0" fill="#93ed8e"/>
<rect x="361.0" y="260.9" width="5.9" height="6.0" fill="#93ed8e"/>
<rect x="366.5" y="260.9" width="5.9" height="6.0" fill="#93ed8e"/>
<rect x="372.0" y="260.9" width="5.9" height="6.0" fill="#93ed8e"/>
<rect x="377.5" y="260.9" width="5.9" height="6.0" fill="#93ed8e"/>
<rect x="383.0" y="260.9" width="5.9" height="6.0" fill="#93ed8e"/>
<rect x="388.5" y="260.9" width="5.9" height="6.0" fill="#93ed8e"/>
<rect x="394.0" y="260.9" width="5.9" height="6.0" fill="#93ed8e"/>
<rect x="218.0" y="266.5" width="5.9" height="6.0" fill="#baef72"/>
<rect x="223.5" y="266.5" width="5.9" height="6.0" fill="#baef72"/>
<rect x="229.0" y="266.5" width="5.9" height="6.0" fill="#baef72"/>
<rect x="234.5" y="266.5" width="5.9" height="6.0" fill="#baef72"/>
<rect x="240.0" y="266.5" width="5.9" height="6.0" fill="#baef72"/>
<rect x="245.5" y="266.5" width="5.9" height="6.0" fill="#cef064"/>
<rect x="251.0" y="266.5" width="5.9" height="6.0" fill="#f2e949"/>
<rect x="256.5" y="266.5" width="5.9" height="6.0" fill="#f8b335"/>
<rect x="262.0" y="266.5" width="5.9" height="6.0" fill="#f27524"/>
<rect x="267.5" y="266.5" width="5.9" height="6.0" fill="#ec3620"/>
<rect x="273.0" y="266.5" width="5.9" height="6.0" fill="#e52a20"/>
<rect x="278.5" y="266.5" width="5.9" height="6.0" fill="#e42820"/>
<rect x="284.0" y="266.5" width="5.9" height="6.0" fill="#e93120"/>
<rect x="289.5" y="266.5" width="5.9" height="6.0" fill="#f05a22"/>
<rect x="295.0" y="266.5" width="5.9" height="6.0" fill="#f69e2e"/>
<rect x="300.5" y="266.5" width="5.9" height="6.0" fill="#f8d940"/>
<rect x="306.0" y="266.5" width="5.9" height="6.0" fill="#f8df42"/>
<rect x="311.5" y="266.5" width="5.9" height="6.0" fill="#f8e343"/>
<rect x="317.0" y="266.5" width="5.9" height="6.0" fill="#e9eb50"/>
<rect x="322.5" y="266.5" width="5.9" height="6.0" fill="#d5ef5f"/>
<rect x="328.0" y="266.5" width="5.9" height="6.0" fill="#b8ef73"/>
<rect x="333.5" y="266.5" width="5.9" height="6.0" fill="#9aee87"/>
<rect x="339.0" y="266.5" width="5.9" height="6.0" fill="#8bec97"/>
<rect x="344.5" y="266.5" width="5.9" height="6.0" fill="#8bec97"/>
<rect x="350.0" y="266.5" width="5.9" height="6.0" fill="#8bec97"/>
<rect x="355.5" y="266.5" width="5.9" height="6.0" fill="#8bec97"/>
<rect x="361.0" y="266.5" width="5.9" height="6.0" fill="#8bec97"/>
<rect x="366.5" y="266.5" width="5.9" height="6.0" fill="#8bec97"/>
<rect x="372.0" y="266.5" width="5.9" height="6.0" fill="#8bec97"/>
<rect x="377.5" y="266.5" width="5.9" height="6.0" fill="#8bec97"/>
<rect x="383.0" y="266.5" width="5.9" height="6.0" fill="#8bec97"/>
<rect x="388.5" y="266.5" width="5.9" height="6.0" fill="#8bec97"/>
<rect x="394.0" y="266.5" width="5.9" height="6.0" fill="#8bec97"/>
<rect x="218.0" y="272.1" width="5.9" height="6.0" fill="#8aec99"/>
<rect x="223.5" y="272.1" width="5.9" height="6.0" fill="#8aec99"/>
<rect x="229.0" y="272.1" width="5.9" height="6.0" fill="#8aec99"/>
<rect x="234.5" y="272.1" width="5.9" height="6.0" fill="#8aec99"/>
<rect x="240.0" y="272.1" width="5.9" height="6.0" fill="#8aec99"/>
<rect x="245.5" y="272.1" width="5.9" height="6.0" fill="#a8ef7e"/>
<rect x="251.0" y="272.1" width="5.9" height="6.0" fill="#ddee5a"/>
<rect x="256.5" y="272.1" width="5.9" height="6.0" fill="#f8c63a"/>
<rect x="262.0" y="272.1" width="5.9" height="6.0" fill="#f48a28"/>
<rect x="267.5" y="272.1" width="5.9" height="6.0" fill="#ee4020"/>
<rect x="273.0" y="272.1" width="5.9" height="6.0" fill="#e52a20"/>
<rect x="278.5" y="272.1" width="5.9" height="6.0" fill="#e52a20"/>
<rect x="284.0" y="272.1" width="5.9" height="6.0" fill="#ee3b20"/>
<rect x="289.5" y="272.1" width="5.9" height="6.0" fill="#f38627"/>
<rect x="295.0" y="272.1" width="5.9" height="6.0" fill="#f8c239"/>
<rect x="300.5" y="272.1" width="5.9" height="6.0" fill="#f8e042"/>
<rect x="306.0" y="272.1" width="5.9" height="6.0" fill="#f8e042"/>
<rect x="311.5" y="272.1" width="5.9" height="6.0" fill="#efea4b"/>
<rect x="317.0" y="272.1" width="5.9" height="6.0" fill="#daee5c"/>
<rect x="322.5" y="272.1" width="5.9" height="6.0" fill="#beef6f"/>
<rect x="328.0" y="272.1" width="5.9" height="6.0" fill="#9eee84"/>
<rect x="333.5" y="272.1" width="5.9" height="6.0" fill="#84eba0"/>
<rect x="339.0" y="272.1" width="5.9" height="6.0" fill="#84eba0"/>
<rect x="344.5" y="272.1" width="5.9" height="6.0" fill="#84eba0"/>
<rect x="350.0" y="272.1" width="5.9" height="6.0" fill="#84eba0"/>
<rect x="355.5" y="272.1" width="5.9" height="6.0" fill="#84eba0"/>
<rect x="361.0" y="272.1" width="5.9" height="6.0" fill="#84eba0"/>
<rect x="366.5" y="272.1" width="5.9" height="6.0" fill="#84eba0"/>
<rect x="372.0" y="272.1" width="5.9" height="6.0" fill="#84eba0"/>
<rect x="377.5" y="272.1" width="5.9" height="6.0" fill="#84eba0"/>
<rect x="383.0" y="272.1" width="5.9" height="6.0" fill="#84eba0"/>
<rect x="388.5" y="272.1" width="5.9" height="6.0" fill="#84eba0"/>
<rect x="394.0" y="272.1" width="5.9" height="6.0" fill="#84eba0"/>
<rect x="218.0" y="277.7" width="5.9" height="6.0" fill="#6ce8bd"/>
<rect x="223.5" y="277.7" width="5.9" height="6.0" fill="#6ce8bd"/>
<rect x="229.0" y="277.7" width="5.9" height="6.0" fill="#6ce8bd"/>
<rect x="234.5" y="277.7" width="5.9" height="6.0" fill="#6ce8bd"/>
<rect x="240.0" y="277.7" width="5.9" height="6.0" fill="#6ce8bd"/>
<rect x="245.5" y="277.7" width="5.9" height="6.0" fill="#8eed94"/>
<rect x="251.0" y="277.7" width="5.9" height="6.0" fill="#beef6f"/>
<rect x="256.5" y="277.7" width="5.9" height="6.0" fill="#f8dc41"/>
<rect x="262.0" y="277.7" width="5.9" height="6.0" fill="#f6a130"/>
<rect x="267.5" y="277.7" width="5.9" height="6.0" fill="#f05e22"/>
<rect x="273.0" y="277.7" width="5.9" height="6.0" fill="#e62b20"/>
<rect x="278.5" y="277.7" width="5.9" height="6.0" fill="#e82f20"/>
<rect x="284.0" y="277.7" width="5.9" height="6.0" fill="#f16c23"/>
<rect x="289.5" y="277.7" width="5.9" height="6.0" fill="#f8ad33"/>
<rect x="295.0" y="277.7" width="5.9" height="6.0" fill="#f8e142"/>
<rect x="300.5" y="277.7" width="5.9" height="6.0" fill="#f8e142"/>
<rect x="306.0" y="277.7" width="5.9" height="6.0" fill="#f5e946"/>
<rect x="311.5" y="277.7" width="5.9" height="6.0" fill="#dfed58"/>
<rect x="317.0" y="277.7" width="5.9" height="6.0" fill="#c5f06b"/>
<rect x="322.5" y="277.7" width="5.9" height="6.0" fill="#a3ee81"/>
<rect x="328.0" y="277.7" width="5.9" height="6.0" fill="#83eba1"/>
<rect x="333.5" y="277.7" width="5.9" height="6.0" fill="#7ceaa9"/>
<rect x="339.0" y="277.7" width="5.9" height="6.0" fill="#7ceaa9"/>
<rect x="344.5" y="277.7" width="5.9" height="6.0" fill="#7ceaa9"/>
<rect x="350.0" y="277.7" width="5.9" height="6.0" fill="#7ceaa9"/>
<rect x="355.5" y="277.7" width="5.9" height="6.0" fill="#7ceaa9"/>
<rect x="361.0" y="277.7" width="5.9" height="6.0" fill="#7ceaa9"/>
<rect x="366.5" y="277.7" width="5.9" height="6.0" fill="#7ceaa9"/>
<rect x="372.0" y="277.7" width="5.9" height="6.0" fill="#7ceaa9"/>
<rect x="377.5" y="277.7" width="5.9" height="6.0" fill="#7ceaa9"/>
<rect x="383.0" y="277.7" width="5.9" height="6.0" fill="#7ceaa9"/>
<rect x="388.5" y="277.7" width="5.9" height="6.0" fill="#7ceaa9"/>
<rect x="394.0" y="277.7" width="5.9" height="6.0" fill="#7ceaa9"/>
<rect x="218.0" y="283.3" width="5.9" height="6.0" fill="#6be8c0"/>
<rect x="223.5" y="283.3" width="5.9" height="6.0" fill="#6be8c0"/>
<rect x="229.0" y="283.3" width="5.9" height="6.0" fill="#6be8c0"/>
<rect x="234.5" y="283.3" width="5.9" height="6.0" fill="#6be8c0"/>
<rect x="240.0" y="283.3" width="5.9" height="6.0" fill="#6be8c0"/>
<rect x="245.5" y="283.3" width="5.9" height="6.0" fill="#8bec97"/>
<rect x="251.0" y="283.3" width="5.9" height="6.0" fill="#beef6f"/>
<rect x="256.5" y="283.3" width="5.9" height="6.0" fill="#e6ec52"/>
<rect x="262.0" y="283.3" width="5.9" height="6.0" fill="#f8dd41"/>
<rect x="267.5" y="283.3" width="5.9" height="6.0" fill="#f6a230"/>
<rect x="273.0" y="283.3" width="5.9" height="6.0" fill="#f06222"/>
<rect x="278.5" y="283.3" width="5.9" height="6.0" fill="#f16f23"/>
<rect x="284.0" y="283.3" width="5.9" height="6.0" fill="#f8ad33"/>
<rect x="289.5" y="283.3" width="5.9" height="6.0" fill="#f8de41"/>
<rect x="295.0" y="283.3" width="5.9" height="6.0" fill="#f8de41"/>
<rect x="300.5" y="283.3" width="5.9" height="6.0" fill="#f8e142"/>
<rect x="306.0" y="283.3" width="5.9" height="6.0" fill="#e8eb50"/>
<rect x="311.5" y="283.3" width="5.9" height="6.0" fill="#d0f063"/>
<rect x="317.0" y="283.3" width="5.9" height="6.0" fill="#adef7a"/>
<rect x="322.5" y="283.3" width="5.9" height="6.0" fill="#8aec99"/>
<rect x="328.0" y="283.3" width="5.9" height="6.0" fill="#76e9b0"/>
<rect x="333.5" y="283.3" width="5.9" height="6.0" fill="#76e9b0"/>
<rect x="339.0" y="283.3" width="5.9" height="6.0" fill="#76e9b0"/>
<rect x="344.5" y="283.3" width="5.9" height="6.0" fill="#76e9b0"/>
<rect x="350.0" y="283.3" width="5.9" height="6.0" fill="#76e9b0"/>
<rect x="355.5" y="283.3" width="5.9" height="6.0" fill="#76e9b0"/>
<rect x="361.0" y="283.3" width="5.9" height="6.0" fill="#76e9b0"/>
<rect x="366.5" y="283.3" width="5.9" height="6.0" fill="#76e9b0"/>
<rect x="372.0" y="283.3" width="5.9" height="6.0" fill="#76e9b0"/>
<rect x="377.5" y="283.3" width="5.9" height="6.0" fill="#76e9b0"/>
<rect x="383.0" y="283.3" width="5.9" height="6.0" fill="#76e9b0"/>
<rect x="388.5" y="283.3" width="5.9" height="6.0" fill="#76e9b0"/>
<rect x="394.0" y="283.3" width="5.9" height="6.0" fill="#76e9b0"/>
<rect x="218.0" y="288.9" width="5.9" height="6.0" fill="#6ae7c3"/>
<rect x="223.5" y="288.9" width="5.9" height="6.0" fill="#6ae7c3"/>
<rect x="229.0" y="288.9" width="5.9" height="6.0" fill="#6ae7c3"/>
<rect x="234.5" y="288.9" width="5.9" height="6.0" fill="#6ae7c3"/>
<rect x="240.0" y="288.9" width="5.9" height="6.0" fill="#6ae7c3"/>
<rect x="245.5" y="288.9" width="5.9" height="6.0" fill="#89ec9a"/>
<rect x="251.0" y="288.9" width="5.9" height="6.0" fill="#beef6f"/>
<rect x="256.5" y="288.9" width="5.9" height="6.0" fill="#e8eb51"/>
<rect x="262.0" y="288.9" width="5.9" height="6.0" fill="#f8db40"/>
<rect x="267.5" y="288.9" width="5.9" height="6.0" fill="#f8bc38"/>
<rect x="273.0" y="288.9" width="5.9" height="6.0" fill="#f59a2d"/>
<rect x="278.5" y="288.9" width="5.9" height="6.0" fill="#f69e2e"/>
<rect x="284.0" y="288.9" width="5.9" height="6.0" fill="#f8c53a"/>
<rect x="289.5" y="288.9" width="5.9" height="6.0" fill="#f8db40"/>
<rect x="295.0" y="288.9" width="5.9" height="6.0" fill="#f8db40"/>
<rect x="300.5" y="288.9" width="5.9" height="6.0" fill="#f8e844"/>
<rect x="306.0" y="288.9" width="5.9" height="6.0" fill="#dfed58"/>
<rect x="311.5" y="288.9" width="5.9" height="6.0" fill="#bfef6e"/>
<rect x="317.0" y="288.9" width="5.9" height="6.0" fill="#99ee87"/>
<rect x="322.5" y="288.9" width="5.9" height="6.0" fill="#75e9b1"/>
<rect x="328.0" y="288.9" width="5.9" height="6.0" fill="#70e9b7"/>
<rect x="333.5" y="288.9" width="5.9" height="6.0" fill="#70e9b7"/>
<rect x="339.0" y="288.9" width="5.9" height="6.0" fill="#70e9b7"/>
<rect x="344.5" y="288.9" width="5.9" height="6.0" fill="#70e9b7"/>
<rect x="350.0" y="288.9" width="5.9" height="6.0" fill="#70e9b7"/>
<rect x="355.5" y="288.9" width="5.9" height="6.0" fill="#70e9b7"/>
<rect x="361.0" y="288.9" width="5.9" height="6.0" fill="#70e9b7"/>
<rect x="366.5" y="288.9" width="5.9" height="6.0" fill="#70e9b7"/>
<rect x="372.0" y="288.9" width="5.9" height="6.0" fill="#70e9b7"/>
<rect x="377.5" y="288.9" width="5.9" height="6.0" fill="#70e9b7"/>
<rect x="383.0" y="288.9" width="5.9" height="6.0" fill="#70e9b7"/>
<rect x="388.5" y="288.9" width="5.9" height="6.0" fill="#70e9b7"/>
<rect x="394.0" y="288.9" width="5.9" height="6.0" fill="#70e9b7"/>
<rect x="218.0" y="294.5" width="5.9" height="6.0" fill="#6ae7c6"/>
<rect x="223.5" y="294.5" width="5.9" height="6.0" fill="#6ae7c6"/>
<rect x="229.0" y="294.5" width="5.9" height="6.0" fill="#6ae7c6"/>
<rect x="234.5" y="294.5" width="5.9" height="6.0" fill="#6ae7c6"/>
<rect x="240.0" y="294.5" width="5.9" height="6.0" fill="#6ae7c6"/>
<rect x="245.5" y="294.5" width="5.9" height="6.0" fill="#86ec9d"/>
<rect x="251.0" y="294.5" width="5.9" height="6.0" fill="#beef6f"/>
<rect x="256.5" y="294.5" width="5.9" height="6.0" fill="#eaeb4f"/>
<rect x="262.0" y="294.5" width="5.9" height="6.0" fill="#f8d940"/>
<rect x="267.5" y="294.5" width="5.9" height="6.0" fill="#f8d940"/>
<rect x="273.0" y="294.5" width="5.9" height="6.0" fill="#f8d43e"/>
<rect x="278.5" y="294.5" width="5.9" height="6.0" fill="#f8d73f"/>
<rect x="284.0" y="294.5" width="5.9" height="6.0" fill="#f8d940"/>
<rect x="289.5" y="294.5" width="5.9" height="6.0" fill="#f8d940"/>
<rect x="295.0" y="294.5" width="5.9" height="6.0" fill="#f8d940"/>
<rect x="300.5" y="294.5" width="5.9" height="6.0" fill="#f8e643"/>
<rect x="306.0" y="294.5" width="5.9" height="6.0" fill="#e0ed57"/>
<rect x="311.5" y="294.5" width="5.9" height="6.0" fill="#beef6f"/>
<rect x="317.0" y="294.5" width="5.9" height="6.0" fill="#96ee8b"/>
<rect x="322.5" y="294.5" width="5.9" height="6.0" fill="#6fe8b8"/>
<rect x="328.0" y="294.5" width="5.9" height="6.0" fill="#6ce8bd"/>
<rect x="333.5" y="294.5" width="5.9" height="6.0" fill="#6ce8bd"/>
<rect x="339.0" y="294.5" width="5.9" height="6.0" fill="#6ce8bd"/>
<rect x="344.5" y="294.5" width="5.9" height="6.0" fill="#6ce8bd"/>
<rect x="350.0" y="294.5" width="5.9" height="6.0" fill="#6ce8bd"/>
<rect x="355.5" y="294.5" width="5.9" height="6.0" fill="#6ce8bd"/>
<rect x="361.0" y="294.5" width="5.9" height="6.0" fill="#6ce8bd"/>
<rect x="366.5" y="294.5" width="5.9" height="6.0" fill="#6ce8bd"/>
<rect x="372.0" y="294.5" width="5.9" height="6.0" fill="#6ce8bd"/>
<rect x="377.5" y="294.5" width="5.9" height="6.0" fill="#6ce8bd"/>
<rect x="383.0" y="294.5" width="5.9" height="6.0" fill="#6ce8bd"/>
<rect x="388.5" y="294.5" width="5.9" height="6.0" fill="#6ce8bd"/>
<rect x="394.0" y="294.5" width="5.9" height="6.0" fill="#6ce8bd"/>
<rect x="218.0" y="300.1" width="5.9" height="6.0" fill="#69e7c8"/>
<rect x="223.5" y="300.1" width="5.9" height="6.0" fill="#69e7c8"/>
<rect x="229.0" y="300.1" width="5.9" height="6.0" fill="#69e7c8"/>
<rect x="234.5" y="300.1" width="5.9" height="6.0" fill="#69e7c8"/>
<rect x="240.0" y="300.1" width="5.9" height="6.0" fill="#69e7c8"/>
<rect x="245.5" y="300.1" width="5.9" height="6.0" fill="#84eba0"/>
<rect x="251.0" y="300.1" width="5.9" height="6.0" fill="#beef6f"/>
<rect x="256.5" y="300.1" width="5.9" height="6.0" fill="#eceb4e"/>
<rect x="262.0" y="300.1" width="5.9" height="6.0" fill="#f8d63f"/>
<rect x="267.5" y="300.1" width="5.9" height="6.0" fill="#f8d63f"/>
<rect x="273.0" y="300.1" width="5.9" height="6.0" fill="#f8d63f"/>
<rect x="278.5" y="300.1" width="5.9" height="6.0" fill="#f8d63f"/>
<rect x="284.0" y="300.1" width="5.9" height="6.0" fill="#f8d63f"/>
<rect x="289.5" y="300.1" width="5.9" height="6.0" fill="#f8d63f"/>
<rect x="295.0" y="300.1" width="5.9" height="6.0" fill="#f8d63f"/>
<rect x="300.5" y="300.1" width="5.9" height="6.0" fill="#f8e443"/>
<rect x="306.0" y="300.1" width="5.9" height="6.0" fill="#e0ed57"/>
<rect x="311.5" y="300.1" width="5.9" height="6.0" fill="#bdef70"/>
<rect x="317.0" y="300.1" width="5.9" height="6.0" fill="#92ed8f"/>
<rect x="322.5" y="300.1" width="5.9" height="6.0" fill="#6ce8bd"/>
<rect x="328.0" y="300.1" width="5.9" height="6.0" fill="#6be8c1"/>
<rect x="333.5" y="300.1" width="5.9" height="6.0" fill="#6be8c1"/>
<rect x="339.0" y="300.1" width="5.9" height="6.0" fill="#6be8c1"/>
<rect x="344.5" y="300.1" width="5.9" height="6.0" fill="#6be8c1"/>
<rect x="350.0" y="300.1" width="5.9" height="6.0" fill="#6be8c1"/>
<rect x="355.5" y="300.1" width="5.9" height="6.0" fill="#6be8c1"/>
<rect x="361.0" y="300.1" width="5.9" height="6.0" fill="#6be8c1"/>
<rect x="366.5" y="300.1" width="5.9" height="6.0" fill="#6be8c1"/>
<rect x="372.0" y="300.1" width="5.9" height="6.0" fill="#6be8c1"/>
<rect x="377.5" y="300.1" width="5.9" height="6.0" fill="#6be8c1"/>
<rect x="383.0" y="300.1" width="5.9" height="6.0" fill="#6be8c1"/>
<rect x="388.5" y="300.1" width="5.9" height="6.0" fill="#6be8c1"/>
<rect x="394.0" y="300.1" width="5.9" height="6.0" fill="#6be8c1"/></g><line x1="218" y1="185.8" x2="394.6" y2="185.8" stroke="#6a4a2a" stroke-width="0.7" opacity="0.8"/></g>
<rect x="218" y="171.3" width="176.60000000000002" height="134.2" fill="none" stroke="#333" stroke-width="0.8"/>
<text x="214" y="188.5" font-size="7.6" text-anchor="end" font-weight="normal" fill="#111" >0</text>
<line x1="216" y1="185.8" x2="218" y2="185.8" stroke="#333" stroke-width="0.5"/>
<text x="214" y="210.9" font-size="7.6" text-anchor="end" font-weight="normal" fill="#111" >2</text>
<line x1="216" y1="208.20000000000002" x2="218" y2="208.20000000000002" stroke="#333" stroke-width="0.5"/>
<text x="214" y="233.3" font-size="7.6" text-anchor="end" font-weight="normal" fill="#111" >4</text>
<line x1="216" y1="230.60000000000002" x2="218" y2="230.60000000000002" stroke="#333" stroke-width="0.5"/>
<text x="214" y="255.7" font-size="7.6" text-anchor="end" font-weight="normal" fill="#111" >6</text>
<line x1="216" y1="253.0" x2="218" y2="253.0" stroke="#333" stroke-width="0.5"/>
<text x="214" y="278.09999999999997" font-size="7.6" text-anchor="end" font-weight="normal" fill="#111" >8</text>
<line x1="216" y1="275.4" x2="218" y2="275.4" stroke="#333" stroke-width="0.5"/>
<text transform="translate(205.2,235.5) rotate(-90)" font-size="7.9" text-anchor="middle" fill="#111">Depth (km)</text>
<text x="249.5" y="315.7" font-size="7.6" text-anchor="middle" font-weight="normal" fill="#111" >-70.6</text>
<line x1="249.5" y1="305.5" x2="249.5" y2="307.0" stroke="#333" stroke-width="0.5"/>
<text x="294.5" y="315.7" font-size="7.6" text-anchor="middle" font-weight="normal" fill="#111" >-70.55</text>
<line x1="294.5" y1="305.5" x2="294.5" y2="307.0" stroke="#333" stroke-width="0.5"/>
<text x="339.5" y="315.7" font-size="7.6" text-anchor="middle" font-weight="normal" fill="#111" >-70.5</text>
<line x1="339.5" y1="305.5" x2="339.5" y2="307.0" stroke="#333" stroke-width="0.5"/>
<text x="384.5" y="315.7" font-size="7.6" text-anchor="middle" font-weight="normal" fill="#111" >-70.45</text>
<line x1="384.5" y1="305.5" x2="384.5" y2="307.0" stroke="#333" stroke-width="0.5"/>
<text x="299" y="322.5" font-size="7.9" text-anchor="middle" font-weight="normal" fill="#111" >Longitude</text>
<line x1="25" y1="36.7" x2="25" y2="38.5" stroke="#333" stroke-width="0.6"/>
<line x1="60" y1="36.7" x2="60" y2="38.5" stroke="#333" stroke-width="0.6"/>
<line x1="94.5" y1="36.7" x2="94.5" y2="38.5" stroke="#333" stroke-width="0.6"/>
<line x1="129.5" y1="36.7" x2="129.5" y2="38.5" stroke="#333" stroke-width="0.6"/>
<line x1="164" y1="36.7" x2="164" y2="38.5" stroke="#333" stroke-width="0.6"/>
<line x1="195" y1="56.3" x2="196.8" y2="56.3" stroke="#333" stroke-width="0.6"/>
<line x1="195" y1="74" x2="196.8" y2="74" stroke="#333" stroke-width="0.6"/>
<line x1="195" y1="91.7" x2="196.8" y2="91.7" stroke="#333" stroke-width="0.6"/>
<line x1="223" y1="37.0" x2="223" y2="38.8" stroke="#333" stroke-width="0.6"/>
<line x1="257.5" y1="37.0" x2="257.5" y2="38.8" stroke="#333" stroke-width="0.6"/>
<line x1="292" y1="37.0" x2="292" y2="38.8" stroke="#333" stroke-width="0.6"/>
<line x1="326.5" y1="37.0" x2="326.5" y2="38.8" stroke="#333" stroke-width="0.6"/>
<line x1="361" y1="37.0" x2="361" y2="38.8" stroke="#333" stroke-width="0.6"/>
<line x1="395.5" y1="37.0" x2="395.5" y2="38.8" stroke="#333" stroke-width="0.6"/>
<line x1="26.25" y1="169.39999999999998" x2="26.25" y2="171.2" stroke="#333" stroke-width="0.6"/>
<line x1="61.25" y1="169.39999999999998" x2="61.25" y2="171.2" stroke="#333" stroke-width="0.6"/>
<line x1="96.25" y1="169.39999999999998" x2="96.25" y2="171.2" stroke="#333" stroke-width="0.6"/>
<line x1="131.25" y1="169.39999999999998" x2="131.25" y2="171.2" stroke="#333" stroke-width="0.6"/>
<line x1="166.25" y1="169.39999999999998" x2="166.25" y2="171.2" stroke="#333" stroke-width="0.6"/>
<line x1="224.5" y1="169.5" x2="224.5" y2="171.3" stroke="#333" stroke-width="0.6"/>
<line x1="259.5" y1="169.5" x2="259.5" y2="171.3" stroke="#333" stroke-width="0.6"/>
<line x1="294.5" y1="169.5" x2="294.5" y2="171.3" stroke="#333" stroke-width="0.6"/>
<line x1="329" y1="169.5" x2="329" y2="171.3" stroke="#333" stroke-width="0.6"/>
<line x1="364" y1="169.5" x2="364" y2="171.3" stroke="#333" stroke-width="0.6"/>
</svg>
</body></html>
